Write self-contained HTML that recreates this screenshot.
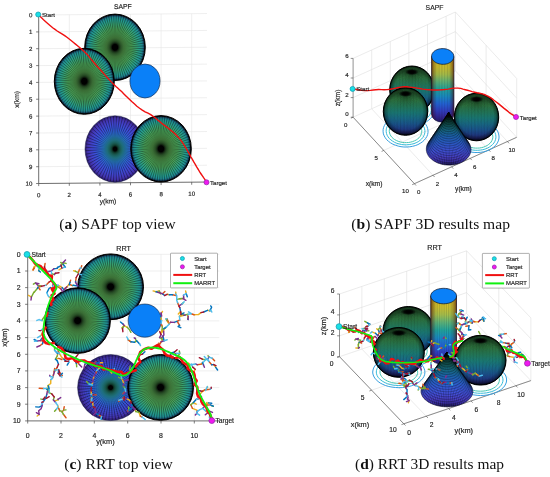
<!DOCTYPE html>
<html lang="en"><head><meta charset="utf-8"><title>Figure</title>
<style>html,body{margin:0;padding:0;background:#fff}svg{display:block}</style></head>
<body>
<svg width="550" height="477" viewBox="0 0 550 477">
<rect width="550" height="477" fill="#fff"/>
<defs><radialGradient id="rs1"><stop offset="0" stop-color="#000000"/><stop offset="0.03" stop-color="#000000"/><stop offset="0.06" stop-color="#000000"/><stop offset="0.09" stop-color="#000000"/><stop offset="0.12" stop-color="#0f1d0e"/><stop offset="0.16" stop-color="#1f3d1d"/><stop offset="0.2" stop-color="#2a5227"/><stop offset="0.25" stop-color="#346330"/><stop offset="0.3" stop-color="#3d7338"/><stop offset="0.4" stop-color="#458c48"/><stop offset="0.5" stop-color="#489c53"/><stop offset="0.55" stop-color="#49a158"/><stop offset="0.6" stop-color="#44a563"/><stop offset="0.7" stop-color="#38a474"/><stop offset="0.82" stop-color="#259c8c"/><stop offset="0.9" stop-color="#1f8a90"/><stop offset="0.94" stop-color="#1b5e74"/><stop offset="0.97" stop-color="#0c1c34"/><stop offset="0.98" stop-color="#000000"/><stop offset="1" stop-color="#000000"/></radialGradient><radialGradient id="mg3" gradientUnits="userSpaceOnUse" cx="115" cy="47.3" r="30.3" gradientTransform="translate(115 47.3) scale(1 1.1) translate(-115 -47.3)"><stop offset="0.28" stop-color="#000"/><stop offset="0.62" stop-color="#fff"/></radialGradient><mask id="mk2" maskUnits="userSpaceOnUse" x="83.7" y="13.1" width="62.6" height="68.4"><ellipse cx="115" cy="47.3" rx="30.3" ry="33.2" fill="url(#mg3)"/></mask><radialGradient id="rs4"><stop offset="0" stop-color="#000000"/><stop offset="0.03" stop-color="#000000"/><stop offset="0.06" stop-color="#000000"/><stop offset="0.09" stop-color="#000000"/><stop offset="0.12" stop-color="#0e1c0d"/><stop offset="0.16" stop-color="#1f3d1d"/><stop offset="0.2" stop-color="#2a5127"/><stop offset="0.25" stop-color="#346230"/><stop offset="0.3" stop-color="#3c7238"/><stop offset="0.4" stop-color="#458c48"/><stop offset="0.5" stop-color="#489c53"/><stop offset="0.55" stop-color="#49a158"/><stop offset="0.6" stop-color="#44a563"/><stop offset="0.7" stop-color="#38a474"/><stop offset="0.82" stop-color="#259c8c"/><stop offset="0.9" stop-color="#1f8a90"/><stop offset="0.94" stop-color="#1b5e74"/><stop offset="0.97" stop-color="#0c1c34"/><stop offset="0.98" stop-color="#000000"/><stop offset="1" stop-color="#000000"/></radialGradient><radialGradient id="mg6" gradientUnits="userSpaceOnUse" cx="84.3" cy="81.3" r="30" gradientTransform="translate(84.3 81.3) scale(1 1.1) translate(-84.3 -81.3)"><stop offset="0.28" stop-color="#000"/><stop offset="0.62" stop-color="#fff"/></radialGradient><mask id="mk5" maskUnits="userSpaceOnUse" x="53.3" y="47.3" width="62" height="68"><ellipse cx="84.3" cy="81.3" rx="30" ry="33" fill="url(#mg6)"/></mask><radialGradient id="rs7"><stop offset="0" stop-color="#000000"/><stop offset="0.03" stop-color="#000000"/><stop offset="0.06" stop-color="#000000"/><stop offset="0.09" stop-color="#0a251c"/><stop offset="0.12" stop-color="#124133"/><stop offset="0.16" stop-color="#17554b"/><stop offset="0.2" stop-color="#1b615e"/><stop offset="0.25" stop-color="#1d6b73"/><stop offset="0.3" stop-color="#206e89"/><stop offset="0.38" stop-color="#2471af"/><stop offset="0.4" stop-color="#2670b5"/><stop offset="0.5" stop-color="#2d65cf"/><stop offset="0.6" stop-color="#3659d8"/><stop offset="0.65" stop-color="#3a52da"/><stop offset="0.7" stop-color="#3d4dd5"/><stop offset="0.8" stop-color="#4242ca"/><stop offset="0.92" stop-color="#4232aa"/><stop offset="0.97" stop-color="#32227e"/><stop offset="1" stop-color="#201850"/></radialGradient><radialGradient id="mg9" gradientUnits="userSpaceOnUse" cx="115" cy="149" r="30" gradientTransform="translate(115 149) scale(1 1.11) translate(-115 -149)"><stop offset="0.28" stop-color="#000"/><stop offset="0.62" stop-color="#fff"/></radialGradient><mask id="mk8" maskUnits="userSpaceOnUse" x="84" y="114.8" width="62" height="68.4"><ellipse cx="115" cy="149" rx="30" ry="33.2" fill="url(#mg9)"/></mask><radialGradient id="rs10"><stop offset="0" stop-color="#000000"/><stop offset="0.03" stop-color="#000000"/><stop offset="0.06" stop-color="#000000"/><stop offset="0.09" stop-color="#000000"/><stop offset="0.12" stop-color="#0f1d0e"/><stop offset="0.16" stop-color="#1f3d1d"/><stop offset="0.2" stop-color="#2a5227"/><stop offset="0.25" stop-color="#346330"/><stop offset="0.3" stop-color="#3d7338"/><stop offset="0.4" stop-color="#458c48"/><stop offset="0.5" stop-color="#489c53"/><stop offset="0.55" stop-color="#49a158"/><stop offset="0.6" stop-color="#44a563"/><stop offset="0.7" stop-color="#38a474"/><stop offset="0.82" stop-color="#259c8c"/><stop offset="0.9" stop-color="#1f8a90"/><stop offset="0.94" stop-color="#1b5e74"/><stop offset="0.97" stop-color="#0c1c34"/><stop offset="0.98" stop-color="#000000"/><stop offset="1" stop-color="#000000"/></radialGradient><radialGradient id="mg12" gradientUnits="userSpaceOnUse" cx="161" cy="148.8" r="30.3" gradientTransform="translate(161 148.8) scale(1 1.1) translate(-161 -148.8)"><stop offset="0.28" stop-color="#000"/><stop offset="0.62" stop-color="#fff"/></radialGradient><mask id="mk11" maskUnits="userSpaceOnUse" x="129.7" y="114.6" width="62.6" height="68.4"><ellipse cx="161" cy="148.8" rx="30.3" ry="33.2" fill="url(#mg12)"/></mask><linearGradient id="sg13" x1="0" y1="0" x2="0" y2="1"><stop offset="0" stop-color="#2c6a3a"/><stop offset="0.08" stop-color="#3a8448"/><stop offset="0.25" stop-color="#3a9050"/><stop offset="0.4" stop-color="#2c9470"/><stop offset="0.52" stop-color="#21928c"/><stop offset="0.64" stop-color="#1f7e9e"/><stop offset="0.76" stop-color="#2064a4"/><stop offset="0.86" stop-color="#24489a"/><stop offset="0.94" stop-color="#262c78"/><stop offset="1" stop-color="#14143c"/></linearGradient><radialGradient id="sr14"><stop offset="0.78" stop-color="#000" stop-opacity="0"/><stop offset="0.93" stop-color="#000" stop-opacity="0.3"/><stop offset="1" stop-color="#000" stop-opacity="0.8"/></radialGradient><radialGradient id="sp15"><stop offset="0" stop-color="#000"/><stop offset="0.5" stop-color="#000" stop-opacity="0.85"/><stop offset="1" stop-color="#000" stop-opacity="0"/></radialGradient><linearGradient id="cg16" gradientUnits="userSpaceOnUse" x1="0" y1="61.2" x2="0" y2="122.1"><stop offset="0" stop-color="#dcc42c"/><stop offset="0.1" stop-color="#d6c832"/><stop offset="0.22" stop-color="#aec850"/><stop offset="0.34" stop-color="#62bc80"/><stop offset="0.46" stop-color="#24aca4"/><stop offset="0.58" stop-color="#1c92cc"/><stop offset="0.7" stop-color="#2668e2"/><stop offset="0.82" stop-color="#3440c8"/><stop offset="0.92" stop-color="#34289a"/><stop offset="1" stop-color="#241c6c"/></linearGradient><linearGradient id="cs17" x1="0" y1="0" x2="1" y2="0"><stop offset="0" stop-color="#500000" stop-opacity="0.45"/><stop offset="0.2" stop-color="#500000" stop-opacity="0"/><stop offset="0.8" stop-color="#500000" stop-opacity="0"/><stop offset="1" stop-color="#500000" stop-opacity="0.45"/></linearGradient><linearGradient id="sg18" x1="0" y1="0" x2="0" y2="1"><stop offset="0" stop-color="#2c6a3a"/><stop offset="0.08" stop-color="#3a8448"/><stop offset="0.25" stop-color="#3a9050"/><stop offset="0.4" stop-color="#2c9470"/><stop offset="0.52" stop-color="#21928c"/><stop offset="0.64" stop-color="#1f7e9e"/><stop offset="0.76" stop-color="#2064a4"/><stop offset="0.86" stop-color="#24489a"/><stop offset="0.94" stop-color="#262c78"/><stop offset="1" stop-color="#14143c"/></linearGradient><radialGradient id="sr19"><stop offset="0.78" stop-color="#000" stop-opacity="0"/><stop offset="0.93" stop-color="#000" stop-opacity="0.3"/><stop offset="1" stop-color="#000" stop-opacity="0.8"/></radialGradient><radialGradient id="sp20"><stop offset="0" stop-color="#000"/><stop offset="0.5" stop-color="#000" stop-opacity="0.85"/><stop offset="1" stop-color="#000" stop-opacity="0"/></radialGradient><linearGradient id="sg21" x1="0" y1="0" x2="0" y2="1"><stop offset="0" stop-color="#2c6a3a"/><stop offset="0.08" stop-color="#3a8448"/><stop offset="0.25" stop-color="#3a9050"/><stop offset="0.4" stop-color="#2c9470"/><stop offset="0.52" stop-color="#21928c"/><stop offset="0.64" stop-color="#1f7e9e"/><stop offset="0.76" stop-color="#2064a4"/><stop offset="0.86" stop-color="#24489a"/><stop offset="0.94" stop-color="#262c78"/><stop offset="1" stop-color="#14143c"/></linearGradient><radialGradient id="sr22"><stop offset="0.78" stop-color="#000" stop-opacity="0"/><stop offset="0.93" stop-color="#000" stop-opacity="0.3"/><stop offset="1" stop-color="#000" stop-opacity="0.8"/></radialGradient><radialGradient id="sp23"><stop offset="0" stop-color="#000"/><stop offset="0.5" stop-color="#000" stop-opacity="0.85"/><stop offset="1" stop-color="#000" stop-opacity="0"/></radialGradient><linearGradient id="kg24" gradientUnits="userSpaceOnUse" x1="0" y1="112.6" x2="0" y2="165.1"><stop offset="0" stop-color="#06141a"/><stop offset="0.06" stop-color="#14504a"/><stop offset="0.12" stop-color="#1f7c6c"/><stop offset="0.22" stop-color="#208e8c"/><stop offset="0.33" stop-color="#2298be"/><stop offset="0.45" stop-color="#2884ea"/><stop offset="0.6" stop-color="#3a70fa"/><stop offset="0.74" stop-color="#4a5cf4"/><stop offset="0.86" stop-color="#4e44d0"/><stop offset="0.94" stop-color="#3a2ea2"/><stop offset="1" stop-color="#16143e"/></linearGradient><radialGradient id="rs25"><stop offset="0" stop-color="#000000"/><stop offset="0.03" stop-color="#000000"/><stop offset="0.06" stop-color="#000000"/><stop offset="0.09" stop-color="#000000"/><stop offset="0.12" stop-color="#112110"/><stop offset="0.16" stop-color="#21411f"/><stop offset="0.2" stop-color="#2b5429"/><stop offset="0.25" stop-color="#356531"/><stop offset="0.3" stop-color="#3e7539"/><stop offset="0.4" stop-color="#468d48"/><stop offset="0.5" stop-color="#489c54"/><stop offset="0.55" stop-color="#49a258"/><stop offset="0.6" stop-color="#44a563"/><stop offset="0.7" stop-color="#38a474"/><stop offset="0.82" stop-color="#259c8c"/><stop offset="0.9" stop-color="#1f8a90"/><stop offset="0.94" stop-color="#1b5e74"/><stop offset="0.97" stop-color="#0c1c34"/><stop offset="0.98" stop-color="#000000"/><stop offset="1" stop-color="#000000"/></radialGradient><radialGradient id="mg27" gradientUnits="userSpaceOnUse" cx="110.6" cy="286.8" r="32.9" gradientTransform="translate(110.6 286.8) scale(1 1) translate(-110.6 -286.8)"><stop offset="0.28" stop-color="#000"/><stop offset="0.62" stop-color="#fff"/></radialGradient><mask id="mk26" maskUnits="userSpaceOnUse" x="76.7" y="252.9" width="67.8" height="67.8"><ellipse cx="110.6" cy="286.8" rx="32.9" ry="32.9" fill="url(#mg27)"/></mask><radialGradient id="rs28"><stop offset="0" stop-color="#000000"/><stop offset="0.03" stop-color="#000000"/><stop offset="0.06" stop-color="#000000"/><stop offset="0.09" stop-color="#000000"/><stop offset="0.12" stop-color="#112110"/><stop offset="0.16" stop-color="#21401f"/><stop offset="0.2" stop-color="#2b5429"/><stop offset="0.25" stop-color="#356531"/><stop offset="0.3" stop-color="#3d7439"/><stop offset="0.4" stop-color="#468d48"/><stop offset="0.5" stop-color="#489c54"/><stop offset="0.55" stop-color="#49a258"/><stop offset="0.6" stop-color="#44a563"/><stop offset="0.7" stop-color="#38a474"/><stop offset="0.82" stop-color="#259c8c"/><stop offset="0.9" stop-color="#1f8a90"/><stop offset="0.94" stop-color="#1b5e74"/><stop offset="0.97" stop-color="#0c1c34"/><stop offset="0.98" stop-color="#000000"/><stop offset="1" stop-color="#000000"/></radialGradient><radialGradient id="mg30" gradientUnits="userSpaceOnUse" cx="77.6" cy="320.6" r="32.8" gradientTransform="translate(77.6 320.6) scale(1 1) translate(-77.6 -320.6)"><stop offset="0.28" stop-color="#000"/><stop offset="0.62" stop-color="#fff"/></radialGradient><mask id="mk29" maskUnits="userSpaceOnUse" x="43.8" y="286.8" width="67.6" height="67.6"><ellipse cx="77.6" cy="320.6" rx="32.8" ry="32.8" fill="url(#mg30)"/></mask><radialGradient id="rs31"><stop offset="0" stop-color="#000000"/><stop offset="0.03" stop-color="#000000"/><stop offset="0.06" stop-color="#000000"/><stop offset="0.09" stop-color="#0c2a20"/><stop offset="0.12" stop-color="#134436"/><stop offset="0.16" stop-color="#18574d"/><stop offset="0.2" stop-color="#1b6360"/><stop offset="0.25" stop-color="#1d6c75"/><stop offset="0.3" stop-color="#20708b"/><stop offset="0.38" stop-color="#2572b0"/><stop offset="0.4" stop-color="#2671b6"/><stop offset="0.5" stop-color="#2d65d0"/><stop offset="0.6" stop-color="#3659d8"/><stop offset="0.65" stop-color="#3a52da"/><stop offset="0.7" stop-color="#3d4dd5"/><stop offset="0.8" stop-color="#4242ca"/><stop offset="0.92" stop-color="#4232aa"/><stop offset="0.97" stop-color="#32227e"/><stop offset="1" stop-color="#201850"/></radialGradient><radialGradient id="mg33" gradientUnits="userSpaceOnUse" cx="110.6" cy="387.6" r="33" gradientTransform="translate(110.6 387.6) scale(1 1) translate(-110.6 -387.6)"><stop offset="0.28" stop-color="#000"/><stop offset="0.62" stop-color="#fff"/></radialGradient><mask id="mk32" maskUnits="userSpaceOnUse" x="76.6" y="353.6" width="68" height="68"><ellipse cx="110.6" cy="387.6" rx="33" ry="33" fill="url(#mg33)"/></mask><radialGradient id="rs34"><stop offset="0" stop-color="#000000"/><stop offset="0.03" stop-color="#000000"/><stop offset="0.06" stop-color="#000000"/><stop offset="0.09" stop-color="#000000"/><stop offset="0.12" stop-color="#112110"/><stop offset="0.16" stop-color="#21411f"/><stop offset="0.2" stop-color="#2b5429"/><stop offset="0.25" stop-color="#356531"/><stop offset="0.3" stop-color="#3e7539"/><stop offset="0.4" stop-color="#468d48"/><stop offset="0.5" stop-color="#489c54"/><stop offset="0.55" stop-color="#49a258"/><stop offset="0.6" stop-color="#44a563"/><stop offset="0.7" stop-color="#38a474"/><stop offset="0.82" stop-color="#259c8c"/><stop offset="0.9" stop-color="#1f8a90"/><stop offset="0.94" stop-color="#1b5e74"/><stop offset="0.97" stop-color="#0c1c34"/><stop offset="0.98" stop-color="#000000"/><stop offset="1" stop-color="#000000"/></radialGradient><radialGradient id="mg36" gradientUnits="userSpaceOnUse" cx="160.6" cy="387.4" r="32.9" gradientTransform="translate(160.6 387.4) scale(1 1) translate(-160.6 -387.4)"><stop offset="0.28" stop-color="#000"/><stop offset="0.62" stop-color="#fff"/></radialGradient><mask id="mk35" maskUnits="userSpaceOnUse" x="126.7" y="353.5" width="67.8" height="67.8"><ellipse cx="160.6" cy="387.4" rx="32.9" ry="32.9" fill="url(#mg36)"/></mask><linearGradient id="sg37" x1="0" y1="0" x2="0" y2="1"><stop offset="0" stop-color="#2c6a3a"/><stop offset="0.08" stop-color="#3a8448"/><stop offset="0.25" stop-color="#3a9050"/><stop offset="0.4" stop-color="#2c9470"/><stop offset="0.52" stop-color="#21928c"/><stop offset="0.64" stop-color="#1f7e9e"/><stop offset="0.76" stop-color="#2064a4"/><stop offset="0.86" stop-color="#24489a"/><stop offset="0.94" stop-color="#262c78"/><stop offset="1" stop-color="#14143c"/></linearGradient><radialGradient id="sr38"><stop offset="0.78" stop-color="#000" stop-opacity="0"/><stop offset="0.93" stop-color="#000" stop-opacity="0.3"/><stop offset="1" stop-color="#000" stop-opacity="0.8"/></radialGradient><radialGradient id="sp39"><stop offset="0" stop-color="#000"/><stop offset="0.5" stop-color="#000" stop-opacity="0.85"/><stop offset="1" stop-color="#000" stop-opacity="0"/></radialGradient><linearGradient id="cg40" gradientUnits="userSpaceOnUse" x1="0" y1="300.7" x2="0" y2="364.6"><stop offset="0" stop-color="#dcc42c"/><stop offset="0.1" stop-color="#d6c832"/><stop offset="0.22" stop-color="#aec850"/><stop offset="0.34" stop-color="#62bc80"/><stop offset="0.46" stop-color="#24aca4"/><stop offset="0.58" stop-color="#1c92cc"/><stop offset="0.7" stop-color="#2668e2"/><stop offset="0.82" stop-color="#3440c8"/><stop offset="0.92" stop-color="#34289a"/><stop offset="1" stop-color="#241c6c"/></linearGradient><linearGradient id="cs41" x1="0" y1="0" x2="1" y2="0"><stop offset="0" stop-color="#500000" stop-opacity="0.45"/><stop offset="0.2" stop-color="#500000" stop-opacity="0"/><stop offset="0.8" stop-color="#500000" stop-opacity="0"/><stop offset="1" stop-color="#500000" stop-opacity="0.45"/></linearGradient><linearGradient id="sg42" x1="0" y1="0" x2="0" y2="1"><stop offset="0" stop-color="#2c6a3a"/><stop offset="0.08" stop-color="#3a8448"/><stop offset="0.25" stop-color="#3a9050"/><stop offset="0.4" stop-color="#2c9470"/><stop offset="0.52" stop-color="#21928c"/><stop offset="0.64" stop-color="#1f7e9e"/><stop offset="0.76" stop-color="#2064a4"/><stop offset="0.86" stop-color="#24489a"/><stop offset="0.94" stop-color="#262c78"/><stop offset="1" stop-color="#14143c"/></linearGradient><radialGradient id="sr43"><stop offset="0.78" stop-color="#000" stop-opacity="0"/><stop offset="0.93" stop-color="#000" stop-opacity="0.3"/><stop offset="1" stop-color="#000" stop-opacity="0.8"/></radialGradient><radialGradient id="sp44"><stop offset="0" stop-color="#000"/><stop offset="0.5" stop-color="#000" stop-opacity="0.85"/><stop offset="1" stop-color="#000" stop-opacity="0"/></radialGradient><linearGradient id="sg45" x1="0" y1="0" x2="0" y2="1"><stop offset="0" stop-color="#2c6a3a"/><stop offset="0.08" stop-color="#3a8448"/><stop offset="0.25" stop-color="#3a9050"/><stop offset="0.4" stop-color="#2c9470"/><stop offset="0.52" stop-color="#21928c"/><stop offset="0.64" stop-color="#1f7e9e"/><stop offset="0.76" stop-color="#2064a4"/><stop offset="0.86" stop-color="#24489a"/><stop offset="0.94" stop-color="#262c78"/><stop offset="1" stop-color="#14143c"/></linearGradient><radialGradient id="sr46"><stop offset="0.78" stop-color="#000" stop-opacity="0"/><stop offset="0.93" stop-color="#000" stop-opacity="0.3"/><stop offset="1" stop-color="#000" stop-opacity="0.8"/></radialGradient><radialGradient id="sp47"><stop offset="0" stop-color="#000"/><stop offset="0.5" stop-color="#000" stop-opacity="0.85"/><stop offset="1" stop-color="#000" stop-opacity="0"/></radialGradient><linearGradient id="kg48" gradientUnits="userSpaceOnUse" x1="0" y1="352.1" x2="0" y2="406.8"><stop offset="0" stop-color="#06141a"/><stop offset="0.06" stop-color="#14504a"/><stop offset="0.12" stop-color="#1f7c6c"/><stop offset="0.22" stop-color="#208e8c"/><stop offset="0.33" stop-color="#2298be"/><stop offset="0.45" stop-color="#2884ea"/><stop offset="0.6" stop-color="#3a70fa"/><stop offset="0.74" stop-color="#4a5cf4"/><stop offset="0.86" stop-color="#4e44d0"/><stop offset="0.94" stop-color="#3a2ea2"/><stop offset="1" stop-color="#16143e"/></linearGradient></defs>
<g transform="translate(38.7 0) skewY(-0.5) translate(-38.7 0)">
<path d="M69.3 15L69.3 183.5" stroke="#e4e4e4" stroke-width="0.6" fill="none"/>
<path d="M99.9 15L99.9 183.5" stroke="#e4e4e4" stroke-width="0.6" fill="none"/>
<path d="M130.5 15L130.5 183.5" stroke="#e4e4e4" stroke-width="0.6" fill="none"/>
<path d="M161.1 15L161.1 183.5" stroke="#e4e4e4" stroke-width="0.6" fill="none"/>
<path d="M191.7 15L191.7 183.5" stroke="#e4e4e4" stroke-width="0.6" fill="none"/>
<path d="M38.7 15L207 15" stroke="#e4e4e4" stroke-width="0.6" fill="none"/>
<path d="M38.7 31.9L207 31.9" stroke="#e4e4e4" stroke-width="0.6" fill="none"/>
<path d="M38.7 48.7L207 48.7" stroke="#e4e4e4" stroke-width="0.6" fill="none"/>
<path d="M38.7 65.6L207 65.6" stroke="#e4e4e4" stroke-width="0.6" fill="none"/>
<path d="M38.7 82.4L207 82.4" stroke="#e4e4e4" stroke-width="0.6" fill="none"/>
<path d="M38.7 99.2L207 99.2" stroke="#e4e4e4" stroke-width="0.6" fill="none"/>
<path d="M38.7 116.1L207 116.1" stroke="#e4e4e4" stroke-width="0.6" fill="none"/>
<path d="M38.7 133L207 133" stroke="#e4e4e4" stroke-width="0.6" fill="none"/>
<path d="M38.7 149.8L207 149.8" stroke="#e4e4e4" stroke-width="0.6" fill="none"/>
<path d="M38.7 166.7L207 166.7" stroke="#e4e4e4" stroke-width="0.6" fill="none"/>
<path d="M38.7 15L38.7 183.5" stroke="#484848" stroke-width="0.8" fill="none"/>
<path d="M38.7 183.5L207 183.5" stroke="#484848" stroke-width="0.8" fill="none"/>
<path d="M38.7 183.5L38.7 186.1" stroke="#484848" stroke-width="0.7" fill="none"/>
<text x="38.7" y="197.2" font-size="6.1" text-anchor="middle" fill="#262626" font-family="'Liberation Sans',Arial,sans-serif" stroke="#262626" stroke-width="0.18">0</text>
<path d="M69.3 183.5L69.3 186.1" stroke="#484848" stroke-width="0.7" fill="none"/>
<text x="69.3" y="197.2" font-size="6.1" text-anchor="middle" fill="#262626" font-family="'Liberation Sans',Arial,sans-serif" stroke="#262626" stroke-width="0.18">2</text>
<path d="M99.9 183.5L99.9 186.1" stroke="#484848" stroke-width="0.7" fill="none"/>
<text x="99.9" y="197.2" font-size="6.1" text-anchor="middle" fill="#262626" font-family="'Liberation Sans',Arial,sans-serif" stroke="#262626" stroke-width="0.18">4</text>
<path d="M130.5 183.5L130.5 186.1" stroke="#484848" stroke-width="0.7" fill="none"/>
<text x="130.5" y="197.2" font-size="6.1" text-anchor="middle" fill="#262626" font-family="'Liberation Sans',Arial,sans-serif" stroke="#262626" stroke-width="0.18">6</text>
<path d="M161.1 183.5L161.1 186.1" stroke="#484848" stroke-width="0.7" fill="none"/>
<text x="161.1" y="197.2" font-size="6.1" text-anchor="middle" fill="#262626" font-family="'Liberation Sans',Arial,sans-serif" stroke="#262626" stroke-width="0.18">8</text>
<path d="M191.7 183.5L191.7 186.1" stroke="#484848" stroke-width="0.7" fill="none"/>
<text x="191.7" y="197.2" font-size="6.1" text-anchor="middle" fill="#262626" font-family="'Liberation Sans',Arial,sans-serif" stroke="#262626" stroke-width="0.18">10</text>
<path d="M38.7 15L36.1 15" stroke="#484848" stroke-width="0.7" fill="none"/>
<text x="32.4" y="17.2" font-size="6.1" text-anchor="end" fill="#262626" font-family="'Liberation Sans',Arial,sans-serif" stroke="#262626" stroke-width="0.18">0</text>
<path d="M38.7 31.9L36.1 31.9" stroke="#484848" stroke-width="0.7" fill="none"/>
<text x="32.4" y="34" font-size="6.1" text-anchor="end" fill="#262626" font-family="'Liberation Sans',Arial,sans-serif" stroke="#262626" stroke-width="0.18">1</text>
<path d="M38.7 48.7L36.1 48.7" stroke="#484848" stroke-width="0.7" fill="none"/>
<text x="32.4" y="50.9" font-size="6.1" text-anchor="end" fill="#262626" font-family="'Liberation Sans',Arial,sans-serif" stroke="#262626" stroke-width="0.18">2</text>
<path d="M38.7 65.6L36.1 65.6" stroke="#484848" stroke-width="0.7" fill="none"/>
<text x="32.4" y="67.7" font-size="6.1" text-anchor="end" fill="#262626" font-family="'Liberation Sans',Arial,sans-serif" stroke="#262626" stroke-width="0.18">3</text>
<path d="M38.7 82.4L36.1 82.4" stroke="#484848" stroke-width="0.7" fill="none"/>
<text x="32.4" y="84.6" font-size="6.1" text-anchor="end" fill="#262626" font-family="'Liberation Sans',Arial,sans-serif" stroke="#262626" stroke-width="0.18">4</text>
<path d="M38.7 99.2L36.1 99.2" stroke="#484848" stroke-width="0.7" fill="none"/>
<text x="32.4" y="101.4" font-size="6.1" text-anchor="end" fill="#262626" font-family="'Liberation Sans',Arial,sans-serif" stroke="#262626" stroke-width="0.18">5</text>
<path d="M38.7 116.1L36.1 116.1" stroke="#484848" stroke-width="0.7" fill="none"/>
<text x="32.4" y="118.3" font-size="6.1" text-anchor="end" fill="#262626" font-family="'Liberation Sans',Arial,sans-serif" stroke="#262626" stroke-width="0.18">6</text>
<path d="M38.7 133L36.1 133" stroke="#484848" stroke-width="0.7" fill="none"/>
<text x="32.4" y="135.1" font-size="6.1" text-anchor="end" fill="#262626" font-family="'Liberation Sans',Arial,sans-serif" stroke="#262626" stroke-width="0.18">7</text>
<path d="M38.7 149.8L36.1 149.8" stroke="#484848" stroke-width="0.7" fill="none"/>
<text x="32.4" y="152" font-size="6.1" text-anchor="end" fill="#262626" font-family="'Liberation Sans',Arial,sans-serif" stroke="#262626" stroke-width="0.18">8</text>
<path d="M38.7 166.7L36.1 166.7" stroke="#484848" stroke-width="0.7" fill="none"/>
<text x="32.4" y="168.8" font-size="6.1" text-anchor="end" fill="#262626" font-family="'Liberation Sans',Arial,sans-serif" stroke="#262626" stroke-width="0.18">9</text>
<path d="M38.7 183.5L36.1 183.5" stroke="#484848" stroke-width="0.7" fill="none"/>
<text x="32.4" y="185.7" font-size="6.1" text-anchor="end" fill="#262626" font-family="'Liberation Sans',Arial,sans-serif" stroke="#262626" stroke-width="0.18">10</text>
<text x="108" y="204.2" font-size="6.7" text-anchor="middle" fill="#262626" font-family="'Liberation Sans',Arial,sans-serif" stroke="#262626" stroke-width="0.18">y(km)</text>
<text x="0" y="0" font-size="6.7" text-anchor="middle" fill="#262626" font-family="'Liberation Sans',Arial,sans-serif" stroke="#262626" stroke-width="0.18" transform="translate(19.3 99.2) rotate(-90)">x(km)</text>
<text x="122.8" y="9.6" font-size="6.8" text-anchor="middle" fill="#262626" font-family="'Liberation Sans',Arial,sans-serif" stroke="#262626" stroke-width="0.18">SAPF</text>
</g>
<g>
<ellipse cx="115" cy="47.3" rx="30.3" ry="33.2" fill="url(#rs1)" stroke="#000" stroke-width="1"/>
<g mask="url(#mk2)">
<path d="M122.5 47.7L144.8 48.7M122.5 48.4L144.6 51.6M122.3 49.1L144.1 54.4M122.2 49.8L143.5 57.1M121.9 50.5L142.6 59.8M121.7 51.1L141.5 62.4M121.3 51.7L140.2 64.9M121 52.3L138.7 67.2M120.5 52.9L137 69.4M120.1 53.4L135.2 71.4M119.6 53.8L133.2 73.2M119 54.3L131 74.9M118.5 54.6L128.8 76.3M117.9 54.9L126.4 77.5M117.3 55.2L124 78.5M116.6 55.3L121.5 79.2M116 55.5L118.9 79.7M115.3 55.5L116.3 80M114.7 55.5L113.7 80M114 55.5L111.1 79.7M113.4 55.3L108.5 79.2M112.7 55.2L106 78.5M112.1 54.9L103.6 77.5M111.5 54.6L101.2 76.3M111 54.3L99 74.9M110.4 53.8L96.8 73.2M109.9 53.4L94.8 71.4M109.5 52.9L93 69.4M109 52.3L91.3 67.2M108.7 51.7L89.8 64.9M108.3 51.1L88.5 62.4M108.1 50.5L87.4 59.8M107.8 49.8L86.5 57.1M107.7 49.1L85.9 54.4M107.5 48.4L85.4 51.6M107.5 47.7L85.2 48.7M107.5 46.9L85.2 45.9M107.5 46.2L85.4 43M107.7 45.5L85.9 40.2M107.8 44.8L86.5 37.5M108.1 44.1L87.4 34.8M108.3 43.5L88.5 32.2M108.7 42.9L89.8 29.7M109 42.3L91.3 27.4M109.5 41.7L93 25.2M109.9 41.2L94.8 23.2M110.4 40.8L96.8 21.4M111 40.3L99 19.7M111.5 40L101.2 18.3M112.1 39.7L103.6 17.1M112.7 39.4L106 16.1M113.4 39.3L108.5 15.4M114 39.1L111.1 14.9M114.7 39.1L113.7 14.6M115.3 39.1L116.3 14.6M116 39.1L118.9 14.9M116.6 39.3L121.5 15.4M117.3 39.4L124 16.1M117.9 39.7L126.4 17.1M118.5 40L128.8 18.3M119 40.3L131 19.7M119.6 40.8L133.2 21.4M120.1 41.2L135.2 23.2M120.5 41.7L137 25.2M121 42.3L138.7 27.4M121.3 42.9L140.2 29.7M121.7 43.5L141.5 32.2M121.9 44.1L142.6 34.8M122.2 44.8L143.5 37.5M122.3 45.5L144.1 40.2M122.5 46.2L144.6 43M122.5 46.9L144.8 45.9" stroke="#000" stroke-width="0.7" stroke-opacity="0.55" fill="none"/>
</g>
<ellipse cx="84.3" cy="81.3" rx="30" ry="33" fill="url(#rs4)" stroke="#000" stroke-width="1"/>
<g mask="url(#mk5)">
<path d="M91.7 81.7L113.8 82.7M91.7 82.4L113.6 85.5M91.6 83.1L113.1 88.3M91.4 83.8L112.5 91.1M91.2 84.4L111.6 93.7M90.9 85.1L110.5 96.3M90.6 85.7L109.2 98.8M90.2 86.3L107.7 101.1M89.8 86.8L106.1 103.3M89.3 87.3L104.3 105.3M88.8 87.8L102.3 107.1M88.3 88.2L100.2 108.7M87.7 88.6L97.9 110.1M87.1 88.9L95.6 111.3M86.5 89.1L93.2 112.3M85.9 89.3L90.7 113M85.3 89.4L88.2 113.5M84.6 89.5L85.6 113.8M84 89.5L83 113.8M83.3 89.4L80.4 113.5M82.7 89.3L77.9 113M82.1 89.1L75.4 112.3M81.5 88.9L73 111.3M80.9 88.6L70.7 110.1M80.3 88.2L68.4 108.7M79.8 87.8L66.3 107.1M79.3 87.3L64.3 105.3M78.8 86.8L62.5 103.3M78.4 86.3L60.9 101.1M78 85.7L59.4 98.8M77.7 85.1L58.1 96.3M77.4 84.4L57 93.7M77.2 83.8L56.1 91.1M77 83.1L55.5 88.3M76.9 82.4L55 85.5M76.9 81.7L54.8 82.7M76.9 80.9L54.8 79.9M76.9 80.2L55 77.1M77 79.5L55.5 74.3M77.2 78.8L56.1 71.5M77.4 78.2L57 68.9M77.7 77.5L58.1 66.3M78 76.9L59.4 63.8M78.4 76.3L60.9 61.5M78.8 75.8L62.5 59.3M79.3 75.3L64.3 57.3M79.8 74.8L66.3 55.5M80.3 74.4L68.4 53.9M80.9 74L70.7 52.5M81.5 73.7L73 51.3M82.1 73.5L75.4 50.3M82.7 73.3L77.9 49.6M83.3 73.2L80.4 49.1M84 73.1L83 48.8M84.6 73.1L85.6 48.8M85.3 73.2L88.2 49.1M85.9 73.3L90.7 49.6M86.5 73.5L93.2 50.3M87.1 73.7L95.6 51.3M87.7 74L97.9 52.5M88.3 74.4L100.2 53.9M88.8 74.8L102.3 55.5M89.3 75.3L104.3 57.3M89.8 75.8L106.1 59.3M90.2 76.3L107.7 61.5M90.6 76.9L109.2 63.8M90.9 77.5L110.5 66.3M91.2 78.2L111.6 68.9M91.4 78.8L112.5 71.5M91.6 79.5L113.1 74.3M91.7 80.2L113.6 77.1M91.7 80.9L113.8 79.9" stroke="#000" stroke-width="0.7" stroke-opacity="0.55" fill="none"/>
</g>
<ellipse cx="145" cy="81" rx="15.1" ry="17" fill="#0a80f8" stroke="#10203a" stroke-width="0.6"/>
<ellipse cx="115" cy="149" rx="30" ry="33.2" fill="url(#rs7)" stroke="#1a1a50" stroke-width="0.5"/>
<g mask="url(#mk8)">
<path d="M122.4 149.4L144.5 150.7M122.4 150.3L144.2 154.1M122.2 151.1L143.5 157.5M122 152L142.6 160.7M121.6 152.7L141.3 163.8M121.2 153.5L139.8 166.8M120.8 154.2L138 169.6M120.3 154.8L135.9 172.1M119.7 155.4L133.6 174.4M119.1 155.9L131.1 176.4M118.4 156.3L128.4 178.1M117.7 156.7L125.6 179.5M116.9 157L122.6 180.6M116.2 157.1L119.6 181.3M115.4 157.2L116.5 181.7M114.6 157.2L113.5 181.7M113.8 157.1L110.4 181.3M113.1 157L107.4 180.6M112.3 156.7L104.4 179.5M111.6 156.3L101.6 178.1M110.9 155.9L98.9 176.4M110.3 155.4L96.4 174.4M109.7 154.8L94.1 172.1M109.2 154.2L92 169.6M108.8 153.5L90.2 166.8M108.4 152.7L88.7 163.8M108 152L87.4 160.7M107.8 151.1L86.5 157.5M107.6 150.3L85.8 154.1M107.6 149.4L85.5 150.7M107.6 148.6L85.5 147.3M107.6 147.7L85.8 143.9M107.8 146.9L86.5 140.5M108 146L87.4 137.3M108.4 145.3L88.7 134.2M108.8 144.5L90.2 131.2M109.2 143.8L92 128.4M109.7 143.2L94.1 125.9M110.3 142.6L96.4 123.6M110.9 142.1L98.9 121.6M111.6 141.7L101.6 119.9M112.3 141.3L104.4 118.5M113.1 141L107.4 117.4M113.8 140.9L110.4 116.7M114.6 140.8L113.5 116.3M115.4 140.8L116.5 116.3M116.2 140.9L119.6 116.7M116.9 141L122.6 117.4M117.7 141.3L125.6 118.5M118.4 141.7L128.4 119.9M119.1 142.1L131.1 121.6M119.7 142.6L133.6 123.6M120.3 143.2L135.9 125.9M120.8 143.8L138 128.4M121.2 144.5L139.8 131.2M121.6 145.3L141.3 134.2M122 146L142.6 137.3M122.2 146.9L143.5 140.5M122.4 147.7L144.2 143.9M122.4 148.6L144.5 147.3" stroke="#000" stroke-width="0.7" stroke-opacity="0.55" fill="none"/>
</g>
<ellipse cx="161" cy="148.8" rx="30.3" ry="33.2" fill="url(#rs10)" stroke="#000" stroke-width="1"/>
<g mask="url(#mk11)">
<path d="M168.5 149.2L190.8 150.2M168.5 149.9L190.6 153.1M168.3 150.6L190.1 155.9M168.2 151.3L189.5 158.6M167.9 152L188.6 161.3M167.7 152.6L187.5 163.9M167.3 153.2L186.2 166.4M167 153.8L184.7 168.7M166.5 154.4L183 170.9M166.1 154.9L181.2 172.9M165.6 155.3L179.2 174.7M165 155.8L177 176.4M164.5 156.1L174.8 177.8M163.9 156.4L172.4 179M163.3 156.7L170 180M162.6 156.8L167.5 180.7M162 157L164.9 181.2M161.3 157L162.3 181.5M160.7 157L159.7 181.5M160 157L157.1 181.2M159.4 156.8L154.5 180.7M158.7 156.7L152 180M158.1 156.4L149.6 179M157.5 156.1L147.2 177.8M157 155.8L145 176.4M156.4 155.3L142.8 174.7M155.9 154.9L140.8 172.9M155.5 154.4L139 170.9M155 153.8L137.3 168.7M154.7 153.2L135.8 166.4M154.3 152.6L134.5 163.9M154.1 152L133.4 161.3M153.8 151.3L132.5 158.6M153.7 150.6L131.9 155.9M153.5 149.9L131.4 153.1M153.5 149.2L131.2 150.2M153.5 148.4L131.2 147.4M153.5 147.7L131.4 144.5M153.7 147L131.9 141.7M153.8 146.3L132.5 139M154.1 145.6L133.4 136.3M154.3 145L134.5 133.7M154.7 144.4L135.8 131.2M155 143.8L137.3 128.9M155.5 143.2L139 126.7M155.9 142.7L140.8 124.7M156.4 142.3L142.8 122.9M157 141.8L145 121.2M157.5 141.5L147.2 119.8M158.1 141.2L149.6 118.6M158.7 140.9L152 117.6M159.4 140.8L154.5 116.9M160 140.6L157.1 116.4M160.7 140.6L159.7 116.1M161.3 140.6L162.3 116.1M162 140.6L164.9 116.4M162.6 140.8L167.5 116.9M163.3 140.9L170 117.6M163.9 141.2L172.4 118.6M164.5 141.5L174.8 119.8M165 141.8L177 121.2M165.6 142.3L179.2 122.9M166.1 142.7L181.2 124.7M166.5 143.2L183 126.7M167 143.8L184.7 128.9M167.3 144.4L186.2 131.2M167.7 145L187.5 133.7M167.9 145.6L188.6 136.3M168.2 146.3L189.5 139M168.3 147L190.1 141.7M168.5 147.7L190.6 144.5M168.5 148.4L190.8 147.4" stroke="#000" stroke-width="0.7" stroke-opacity="0.55" fill="none"/>
</g>
</g>
<path d="M38 14.4L38.5 14.9L39.7 16L41.3 17.6L43.5 19.7L45.7 21.7L48 23.7L50.3 25.7L52.7 27.7L55 29.4L57.2 31L59.4 32.4L61.5 33.6L63.5 34.9L65.4 36.2L67.3 37.5L69.2 39L71.1 40.5L73.2 42.2L75.5 44.1L77.8 46L79.9 47.8L81.8 49.4L83.3 50.7L84.6 51.9L86 53.2L87.5 54.8L89 56.6L90.5 58.6L92.4 60.8L94.5 63.3L96.8 65.9L99.5 68.8L102.1 71.7L104.7 74.6L107.3 77.5L110 80.4L112.3 82.9L114.4 85L116.2 86.7L117.7 88L119.5 89.7L121.6 91.6L123.9 93.9L126.5 96.5L129.1 99L131.7 101.5L134.3 103.8L136.9 106.2L139.6 108.2L142.3 110.1L145.1 111.8L148 113.2L150.7 114.7L153.1 116.3L155.3 118L157.4 119.7L159.5 121.4L161.6 123.2L163.8 124.9L166.2 126.6L168.4 128.3L170.5 130.1L172.6 131.8L174.7 133.5L176.6 135.4L178.5 137.4L180.3 139.6L182 141.9L183.7 144.3L185.2 146.8L186.7 149.3L188.2 151.8L189.6 154.4L191 157L192.5 159.6L193.9 162.2L195.4 164.7L196.8 167.2L198.3 169.5L199.7 171.9L201.1 174L202.4 175.9L203.6 177.7L204.8 179.4L205.6 180.6L206.2 181.4L206.5 181.8" stroke="#f01010" stroke-width="1.4" fill="none" stroke-linejoin="round" stroke-linecap="round"/>
<circle cx="38.2" cy="14.5" r="2.5" fill="#19e0e6" stroke="#18a0b4" stroke-width="0.8"/>
<circle cx="206.5" cy="182.3" r="2.5" fill="#f018f0" stroke="#9a2ab0" stroke-width="0.8"/>
<text x="42" y="16.8" font-size="6.1" text-anchor="start" fill="#262626" font-family="'Liberation Sans',Arial,sans-serif" stroke="#262626" stroke-width="0.18">Start</text>
<text x="210" y="184.9" font-size="6.1" text-anchor="start" fill="#262626" font-family="'Liberation Sans',Arial,sans-serif" stroke="#262626" stroke-width="0.18">Target</text>
<path d="M353.1 117.2L414.4 183.7M371.7 108.8L433 175.3M390.3 100.3L451.6 166.8M408.9 91.9L470.2 158.4M427.5 83.4L488.8 149.9M446.1 75L507.4 141.5M353.1 117.2L455.4 70.8M383.8 150.4L486.1 104M414.4 183.7L516.7 137.3M371.7 108.8L371.7 50M390.3 100.3L390.3 41.5M408.9 91.9L408.9 33.1M427.5 83.4L427.5 24.6M446.1 75L446.1 16.2M353.1 97.6L455.4 51.2M353.1 78L455.4 31.6M353.1 58.4L455.4 12M455.4 70.8L455.4 12M486.1 104L486.1 45.2M516.7 137.3L516.7 78.5M455.4 51.2L516.7 117.7M455.4 31.6L516.7 98.1M455.4 12L516.7 78.5M455.4 70.8L516.7 137.3" stroke="#dddddd" stroke-width="0.6" fill="none"/>
<text x="345.6" y="126.8" font-size="6.1" text-anchor="middle" fill="#262626" font-family="'Liberation Sans',Arial,sans-serif" stroke="#262626" stroke-width="0.18">0</text>
<text x="376.2" y="159.9" font-size="6.1" text-anchor="middle" fill="#262626" font-family="'Liberation Sans',Arial,sans-serif" stroke="#262626" stroke-width="0.18">5</text>
<text x="405.4" y="192.8" font-size="6.1" text-anchor="middle" fill="#262626" font-family="'Liberation Sans',Arial,sans-serif" stroke="#262626" stroke-width="0.18">10</text>
<text x="418.8" y="194" font-size="6.1" text-anchor="middle" fill="#262626" font-family="'Liberation Sans',Arial,sans-serif" stroke="#262626" stroke-width="0.18">0</text>
<text x="437.4" y="185.6" font-size="6.1" text-anchor="middle" fill="#262626" font-family="'Liberation Sans',Arial,sans-serif" stroke="#262626" stroke-width="0.18">2</text>
<text x="456" y="177.1" font-size="6.1" text-anchor="middle" fill="#262626" font-family="'Liberation Sans',Arial,sans-serif" stroke="#262626" stroke-width="0.18">4</text>
<text x="474.6" y="168.7" font-size="6.1" text-anchor="middle" fill="#262626" font-family="'Liberation Sans',Arial,sans-serif" stroke="#262626" stroke-width="0.18">6</text>
<text x="493.2" y="160.2" font-size="6.1" text-anchor="middle" fill="#262626" font-family="'Liberation Sans',Arial,sans-serif" stroke="#262626" stroke-width="0.18">8</text>
<text x="511.8" y="151.8" font-size="6.1" text-anchor="middle" fill="#262626" font-family="'Liberation Sans',Arial,sans-serif" stroke="#262626" stroke-width="0.18">10</text>
<text x="348.6" y="116.4" font-size="6.1" text-anchor="end" fill="#262626" font-family="'Liberation Sans',Arial,sans-serif" stroke="#262626" stroke-width="0.18">0</text>
<text x="348.6" y="96.8" font-size="6.1" text-anchor="end" fill="#262626" font-family="'Liberation Sans',Arial,sans-serif" stroke="#262626" stroke-width="0.18">2</text>
<text x="348.6" y="77.2" font-size="6.1" text-anchor="end" fill="#262626" font-family="'Liberation Sans',Arial,sans-serif" stroke="#262626" stroke-width="0.18">4</text>
<text x="348.6" y="57.6" font-size="6.1" text-anchor="end" fill="#262626" font-family="'Liberation Sans',Arial,sans-serif" stroke="#262626" stroke-width="0.18">6</text>
<path d="M353.1 117.2L353.1 58.4M353.1 117.2L414.4 183.7M414.4 183.7L516.7 137.3M353.1 117.2L350.9 118.2M383.8 150.4L381.6 151.4M414.4 183.7L412.2 184.7M414.4 183.7L416 185.5M433 175.3L434.6 177M451.6 166.8L453.2 168.6M470.2 158.4L471.8 160.1M488.8 149.9L490.4 151.7M507.4 141.5L509 143.3M353.1 117.2L350.7 117.2M353.1 97.6L350.7 97.6M353.1 78L350.7 78M353.1 58.4L350.7 58.4" stroke="#484848" stroke-width="0.6" fill="none"/>
<text x="374" y="185.8" font-size="6.7" text-anchor="middle" fill="#262626" font-family="'Liberation Sans',Arial,sans-serif" stroke="#262626" stroke-width="0.18">x(km)</text>
<text x="463.4" y="190.8" font-size="6.7" text-anchor="middle" fill="#262626" font-family="'Liberation Sans',Arial,sans-serif" stroke="#262626" stroke-width="0.18">y(km)</text>
<text x="0" y="0" font-size="6.7" text-anchor="middle" fill="#262626" font-family="'Liberation Sans',Arial,sans-serif" stroke="#262626" stroke-width="0.18" transform="translate(340.1 98) rotate(-90)">z(km)</text>
<text x="434.5" y="9.9" font-size="6.8" text-anchor="middle" fill="#262626" font-family="'Liberation Sans',Arial,sans-serif" stroke="#262626" stroke-width="0.18">SAPF</text>
<path d="M424.2 122.8L426.6 121.6L428.7 120.2L430.5 118.5L432 116.8L433.1 114.9L433.9 112.9L434.3 110.8L434.3 108.7L434 106.7L433.2 104.6L432.1 102.7L430.6 100.9L428.9 99.2L426.8 97.7L424.5 96.4L421.9 95.3L419.2 94.5L416.4 93.9L413.5 93.6L410.5 93.5L407.6 93.7L404.8 94.2L402 95L399.5 96L397.1 97.2L395 98.6L393.2 100.3L391.7 102L390.6 103.9L389.8 105.9L389.4 108L389.4 110.1L389.8 112.1L390.5 114.2L391.6 116.1L393.1 117.9L394.9 119.6L396.9 121.1L399.2 122.4L401.8 123.5L404.5 124.3L407.3 124.9L410.2 125.2L413.2 125.3L416.1 125.1L419 124.6L421.7 123.8L424.2 122.8Z" stroke="#36a0e0" stroke-width="1.0" fill="none"/>
<path d="M422.5 121L424.5 119.9L426.4 118.7L427.9 117.3L429.2 115.7L430.2 114.1L430.8 112.4L431.2 110.6L431.2 108.8L430.9 107L430.3 105.3L429.3 103.6L428 102.1L426.5 100.6L424.7 99.3L422.7 98.2L420.5 97.3L418.2 96.5L415.8 96L413.2 95.8L410.7 95.7L408.2 95.9L405.7 96.3L403.4 97L401.2 97.8L399.2 98.9L397.4 100.1L395.8 101.5L394.5 103.1L393.5 104.7L392.9 106.4L392.5 108.2L392.5 110L392.8 111.8L393.5 113.5L394.4 115.2L395.7 116.7L397.2 118.2L399 119.5L401 120.6L403.2 121.5L405.5 122.3L408 122.8L410.5 123L413 123.1L415.5 122.9L418 122.5L420.3 121.8L422.5 121Z" stroke="#38bcd8" stroke-width="1.0" fill="none"/>
<path d="M420.8 119.1L422.5 118.2L424 117.2L425.3 116L426.4 114.7L427.2 113.4L427.8 111.9L428.1 110.4L428.1 108.9L427.8 107.4L427.3 106L426.5 104.6L425.4 103.2L424.2 102L422.7 100.9L421 100L419.1 99.2L417.2 98.6L415.1 98.2L413 97.9L410.9 97.9L408.8 98.1L406.7 98.4L404.8 99L402.9 99.7L401.2 100.6L399.7 101.6L398.4 102.8L397.3 104.1L396.5 105.4L395.9 106.9L395.6 108.4L395.6 109.9L395.9 111.4L396.4 112.8L397.2 114.2L398.3 115.6L399.6 116.8L401.1 117.9L402.7 118.8L404.6 119.6L406.5 120.2L408.6 120.6L410.7 120.9L412.8 120.9L414.9 120.7L417 120.4L419 119.8L420.8 119.1Z" stroke="#46c6b4" stroke-width="1.0" fill="none"/>
<path d="M417.9 144.6L420.2 143.3L422.3 141.9L424.1 140.3L425.6 138.5L426.8 136.6L427.6 134.6L428 132.6L428 130.5L427.6 128.4L426.9 126.4L425.8 124.4L424.3 122.6L422.5 120.9L420.5 119.4L418.1 118.1L415.6 117L412.9 116.2L410 115.6L407.1 115.3L404.2 115.2L401.3 115.5L398.4 116L395.7 116.7L393.1 117.7L390.8 118.9L388.7 120.4L386.9 122L385.4 123.8L384.3 125.7L383.5 127.7L383.1 129.7L383.1 131.8L383.4 133.9L384.2 135.9L385.3 137.8L386.7 139.7L388.5 141.3L390.6 142.9L392.9 144.2L395.4 145.2L398.2 146.1L401 146.7L403.9 147L406.9 147L409.8 146.8L412.6 146.3L415.3 145.6L417.9 144.6Z" stroke="#36a0e0" stroke-width="1.0" fill="none"/>
<path d="M416.2 142.7L418.2 141.7L420 140.4L421.6 139L422.8 137.5L423.8 135.8L424.5 134.1L424.9 132.4L424.9 130.6L424.6 128.8L423.9 127L423 125.4L421.7 123.8L420.2 122.3L418.4 121.1L416.4 119.9L414.2 119L411.9 118.3L409.4 117.8L406.9 117.5L404.4 117.4L401.9 117.6L399.4 118.1L397.1 118.7L394.9 119.6L392.8 120.6L391 121.9L389.5 123.3L388.2 124.8L387.2 126.4L386.5 128.2L386.2 129.9L386.2 131.7L386.5 133.5L387.1 135.2L388.1 136.9L389.3 138.5L390.9 139.9L392.7 141.2L394.7 142.4L396.8 143.3L399.2 144L401.6 144.5L404.1 144.8L406.7 144.8L409.2 144.6L411.6 144.2L414 143.6L416.2 142.7Z" stroke="#38bcd8" stroke-width="1.0" fill="none"/>
<path d="M414.5 140.8L416.2 140L417.7 138.9L419 137.8L420.1 136.5L420.9 135.1L421.4 133.6L421.7 132.2L421.8 130.7L421.5 129.2L421 127.7L420.2 126.3L419.1 125L417.8 123.8L416.3 122.7L414.6 121.7L412.8 120.9L410.8 120.3L408.8 119.9L406.7 119.7L404.6 119.7L402.4 119.8L400.4 120.2L398.4 120.7L396.6 121.4L394.9 122.3L393.4 123.4L392.1 124.5L391 125.8L390.2 127.2L389.6 128.6L389.3 130.1L389.3 131.6L389.6 133.1L390.1 134.6L390.9 136L391.9 137.3L393.2 138.5L394.7 139.6L396.4 140.5L398.2 141.3L400.2 141.9L402.2 142.4L404.4 142.6L406.5 142.6L408.6 142.5L410.7 142.1L412.6 141.6L414.5 140.8Z" stroke="#46c6b4" stroke-width="1.0" fill="none"/>
<path d="M488.9 150.1L491.3 148.8L493.4 147.4L495.2 145.8L496.7 144L497.8 142.1L498.6 140.1L499 138.1L499 136L498.6 133.9L497.9 131.9L496.8 129.9L495.3 128.1L493.5 126.4L491.5 124.9L489.2 123.6L486.6 122.5L483.9 121.7L481.1 121.1L478.2 120.8L475.2 120.7L472.3 121L469.4 121.5L466.7 122.2L464.2 123.2L461.8 124.4L459.7 125.9L457.9 127.5L456.4 129.3L455.3 131.2L454.5 133.2L454.1 135.2L454.1 137.3L454.4 139.4L455.2 141.4L456.3 143.3L457.8 145.2L459.5 146.8L461.6 148.4L463.9 149.7L466.5 150.7L469.2 151.6L472 152.2L474.9 152.5L477.9 152.5L480.8 152.3L483.6 151.8L486.4 151.1L488.9 150.1Z" stroke="#36a0e0" stroke-width="1.0" fill="none"/>
<path d="M487.2 148.2L489.2 147.2L491 145.9L492.6 144.5L493.9 143L494.9 141.3L495.5 139.6L495.9 137.9L495.9 136.1L495.6 134.3L494.9 132.5L494 130.9L492.7 129.3L491.2 127.8L489.4 126.6L487.4 125.4L485.2 124.5L482.9 123.8L480.4 123.3L477.9 123L475.4 122.9L472.9 123.1L470.4 123.6L468.1 124.2L465.9 125.1L463.9 126.1L462 127.4L460.5 128.8L459.2 130.3L458.2 131.9L457.6 133.7L457.2 135.4L457.2 137.2L457.5 139L458.1 140.7L459.1 142.4L460.4 144L461.9 145.4L463.7 146.7L465.7 147.9L467.9 148.8L470.2 149.5L472.6 150L475.2 150.3L477.7 150.3L480.2 150.1L482.7 149.7L485 149.1L487.2 148.2Z" stroke="#38bcd8" stroke-width="1.0" fill="none"/>
<path d="M485.5 146.3L487.2 145.5L488.7 144.4L490 143.3L491.1 142L491.9 140.6L492.5 139.1L492.8 137.7L492.8 136.2L492.5 134.7L492 133.2L491.2 131.8L490.1 130.5L488.8 129.3L487.3 128.2L485.7 127.2L483.8 126.4L481.9 125.8L479.8 125.4L477.7 125.2L475.6 125.2L473.5 125.3L471.4 125.7L469.4 126.2L467.6 126.9L465.9 127.8L464.4 128.9L463.1 130L462 131.3L461.2 132.7L460.6 134.1L460.3 135.6L460.3 137.1L460.6 138.6L461.1 140.1L461.9 141.5L463 142.8L464.2 144L465.7 145.1L467.4 146L469.3 146.8L471.2 147.4L473.3 147.9L475.4 148.1L477.5 148.1L479.6 148L481.7 147.6L483.6 147.1L485.5 146.3Z" stroke="#46c6b4" stroke-width="1.0" fill="none"/>
<ellipse cx="411.9" cy="89.8" rx="22.2" ry="23.8" fill="url(#sg13)" stroke="#000" stroke-width="1.0"/>
<ellipse cx="411.9" cy="89.8" rx="22.2" ry="23.8" fill="url(#sr14)"/>
<path d="M421.2 111.5L421.9 110.9L422.4 110.2L422.9 109.4L423.3 108.4L423.7 107.3L423.9 106L424 104.6L424.1 103.1L424 101.5L423.9 99.8L423.7 98L423.3 96.2L422.9 94.3L422.4 92.4L421.9 90.5L421.2 88.5L420.5 86.6L419.7 84.7L418.9 82.8L418 81L417 79.3L416 77.6L415 76L414 74.5L412.9 73.2L411.9 72M422.1 111L422.8 110.5L423.4 109.8L424 108.9L424.4 107.9L424.8 106.7L425 105.4L425.2 104.1L425.2 102.5L425.2 100.9L425 99.3L424.8 97.5L424.4 95.7L424 93.8L423.4 91.9L422.8 90L422.1 88.1L421.3 86.2L420.4 84.3L419.5 82.5L418.5 80.7L417.5 79L416.4 77.4L415.3 75.9L414.2 74.4L413 73.1L411.9 72M422.9 110.6L423.7 110L424.4 109.2L425 108.3L425.4 107.3L425.8 106.1L426.1 104.9L426.2 103.4L426.3 101.9L426.2 100.3L426.1 98.7L425.8 96.9L425.4 95.1L425 93.3L424.4 91.4L423.7 89.5L422.9 87.6L422.1 85.8L421.1 83.9L420.1 82.1L419.1 80.4L418 78.8L416.8 77.2L415.6 75.7L414.4 74.3L413.1 73.1L411.9 72M424.5 109.4L425.3 108.7L425.9 107.7L426.4 106.7L426.8 105.5L427.1 104.2L427.3 102.8L427.3 101.3L427.3 99.7L427.1 98L426.8 96.3L426.4 94.5L425.9 92.7L425.3 90.8L424.5 89L423.7 87.1L422.8 85.3L421.8 83.5L420.7 81.8L419.6 80.1L418.4 78.5L417.2 77L415.9 75.5L414.5 74.2L413.2 73L411.9 72M425.3 108.9L426.1 108.1L426.8 107.1L427.3 106L427.7 104.8L428.1 103.5L428.2 102.1L428.3 100.6L428.2 99L428.1 97.3L427.7 95.6L427.3 93.8L426.8 92L426.1 90.2L425.3 88.4L424.5 86.6L423.5 84.8L422.4 83.1L421.3 81.4L420.1 79.7L418.8 78.2L417.5 76.7L416.1 75.4L414.7 74.1L413.3 73L411.9 72M426.1 108.3L426.9 107.4L427.6 106.4L428.2 105.3L428.6 104.1L428.9 102.8L429.1 101.4L429.2 99.8L429.1 98.2L428.9 96.6L428.6 94.9L428.2 93.1L427.6 91.4L426.9 89.6L426.1 87.8L425.1 86L424.1 84.3L423 82.6L421.8 80.9L420.5 79.4L419.2 77.9L417.8 76.5L416.3 75.2L414.9 74L413.4 72.9L411.9 72M427.6 106.7L428.3 105.7L428.9 104.6L429.4 103.4L429.8 102L430 100.6L430 99.1L430 97.5L429.8 95.8L429.4 94.1L428.9 92.4L428.3 90.7L427.6 88.9L426.8 87.2L425.8 85.4L424.7 83.7L423.5 82.1L422.3 80.5L421 79L419.5 77.5L418.1 76.2L416.6 75L415 73.8L413.4 72.8L411.9 72M428.3 106L429 105L429.7 103.8L430.2 102.6L430.5 101.2L430.7 99.8L430.8 98.2L430.7 96.7L430.5 95L430.2 93.3L429.7 91.6L429 89.9L428.3 88.2L427.4 86.5L426.4 84.8L425.3 83.2L424 81.6L422.7 80L421.3 78.6L419.9 77.2L418.3 75.9L416.8 74.8L415.2 73.7L413.5 72.8L411.9 72M429.7 104.2L430.3 103L430.8 101.7L431.2 100.4L431.4 98.9L431.5 97.4L431.4 95.8L431.2 94.2L430.8 92.5L430.3 90.8L429.7 89.1L428.9 87.5L427.9 85.8L426.9 84.1L425.7 82.6L424.5 81L423.1 79.5L421.7 78.1L420.2 76.8L418.6 75.6L416.9 74.5L415.3 73.5L413.6 72.7L411.9 72M430.9 102.2L431.4 100.9L431.8 99.5L432 98L432.1 96.5L432 94.9L431.8 93.3L431.4 91.7L430.9 90L430.2 88.3L429.4 86.7L428.4 85.1L427.4 83.5L426.2 81.9L424.9 80.4L423.5 79L422 77.7L420.4 76.5L418.8 75.3L417.1 74.3L415.4 73.4L413.6 72.6L411.9 72M431.4 101.4L431.9 100L432.3 98.6L432.6 97.1L432.6 95.6L432.6 94L432.3 92.4L431.9 90.8L431.4 89.1L430.7 87.5L429.9 85.9L428.9 84.3L427.8 82.8L426.6 81.3L425.2 79.9L423.8 78.5L422.2 77.2L420.6 76.1L419 75L417.2 74.1L415.5 73.2L413.7 72.5L411.9 72M432.4 99.1L432.8 97.7L433 96.2L433.1 94.7L433 93.1L432.8 91.5L432.4 89.9L431.8 88.3L431.1 86.7L430.2 85.1L429.2 83.6L428.1 82.1L426.9 80.6L425.5 79.3L424 78L422.5 76.8L420.8 75.7L419.1 74.7L417.4 73.8L415.5 73.1L413.7 72.5L411.9 72M433.1 96.8L433.4 95.3L433.5 93.7L433.4 92.1L433.1 90.6L432.7 89L432.2 87.4L431.4 85.8L430.6 84.3L429.5 82.8L428.4 81.3L427.1 80L425.7 78.7L424.2 77.4L422.7 76.3L421 75.3L419.2 74.4L417.4 73.6L415.6 72.9L413.7 72.4L411.9 72M433.4 95.8L433.7 94.3L433.7 92.8L433.7 91.2L433.4 89.6L433 88L432.4 86.5L431.7 84.9L430.8 83.4L429.8 82L428.6 80.6L427.3 79.3L425.9 78L424.4 76.9L422.8 75.8L421.1 74.9L419.3 74L417.5 73.3L415.7 72.7L413.8 72.3L411.9 72M433.8 93.3L433.9 91.8L433.8 90.2L433.6 88.6L433.2 87.1L432.6 85.6L431.9 84L431 82.6L429.9 81.2L428.8 79.8L427.5 78.6L426 77.4L424.5 76.3L422.9 75.3L421.2 74.5L419.4 73.7L417.6 73.1L415.7 72.6L413.8 72.2L411.9 72M434 90.8L434 89.2L433.7 87.7L433.3 86.1L432.7 84.6L432 83.2L431.1 81.7L430 80.4L428.8 79.1L427.5 77.9L426.1 76.8L424.6 75.8L422.9 74.8L421.2 74L419.4 73.4L417.6 72.8L415.7 72.4L413.8 72.1L411.9 72M434 88.2L433.7 86.7L433.3 85.2L432.7 83.7L432 82.3L431.1 80.9L430 79.6L428.9 78.3L427.6 77.2L426.1 76.1L424.6 75.2L423 74.3L421.2 73.6L419.5 73L417.6 72.6L415.7 72.2L413.8 72L411.9 72M433.7 85.7L433.2 84.2L432.7 82.8L431.9 81.4L431 80L430 78.8L428.8 77.6L427.5 76.5L426.1 75.5L424.6 74.6L422.9 73.9L421.2 73.2L419.4 72.7L417.6 72.3L415.7 72.1L413.8 71.9L411.9 72M433.5 84.8L433.1 83.3L432.5 81.8L431.8 80.5L430.9 79.2L429.9 77.9L428.7 76.8L427.4 75.8L426 74.9L424.5 74.1L422.8 73.4L421.1 72.8L419.4 72.4L417.5 72.1L415.7 71.9L413.8 71.9L411.9 72M432.9 82.3L432.3 80.9L431.6 79.6L430.7 78.3L429.7 77.1L428.5 76.1L427.2 75.1L425.8 74.2L424.3 73.5L422.7 72.9L421 72.4L419.3 72L417.5 71.8L415.6 71.7L413.8 71.8L411.9 72M432 80L431.3 78.7L430.4 77.5L429.4 76.4L428.3 75.3L427 74.4L425.6 73.6L424.1 72.9L422.6 72.4L420.9 72L419.2 71.7L417.4 71.6L415.6 71.5L413.7 71.7L411.9 72M430.9 77.8L430 76.7L429.1 75.6L427.9 74.6L426.7 73.7L425.4 73L423.9 72.4L422.4 71.9L420.7 71.6L419 71.4L417.3 71.3L415.5 71.4L413.7 71.6L411.9 72M430.4 77L429.6 75.9L428.6 74.8L427.6 73.9L426.4 73.1L425 72.4L423.6 71.9L422.1 71.4L420.5 71.2L418.9 71.1L417.2 71.1L415.4 71.2L413.6 71.5L411.9 72M429.1 75.1L428.2 74.1L427.1 73.2L425.9 72.4L424.7 71.8L423.3 71.3L421.8 71L420.3 70.8L418.7 70.7L417 70.8L415.3 71.1L413.6 71.4L411.9 72M428.5 74.3L427.6 73.4L426.6 72.5L425.5 71.8L424.2 71.3L422.9 70.8L421.5 70.6L420 70.4L418.4 70.4L416.8 70.6L415.2 70.9L413.5 71.4L411.9 72M427 72.7L426.1 71.9L425 71.2L423.8 70.7L422.5 70.3L421.1 70.1L419.7 70.1L418.2 70.1L416.7 70.4L415.1 70.8L413.5 71.3L411.9 72M426.4 72L425.4 71.2L424.4 70.6L423.3 70.2L422 69.9L420.7 69.7L419.4 69.7L417.9 69.9L416.4 70.2L414.9 70.6L413.4 71.2L411.9 72M424.8 70.6L423.8 70.1L422.7 69.7L421.5 69.4L420.3 69.3L419 69.4L417.6 69.6L416.2 70L414.8 70.5L413.3 71.2L411.9 72M424.1 70.1L423.1 69.6L422.1 69.2L421 69L419.8 69L418.6 69.1L417.3 69.3L416 69.8L414.6 70.4L413.2 71.1L411.9 72M423.3 69.5L422.4 69.1L421.4 68.8L420.4 68.6L419.3 68.6L418.2 68.8L417 69.1L415.7 69.6L414.4 70.2L413.2 71L411.9 72M421.7 68.6L420.8 68.3L419.8 68.2L418.8 68.3L417.7 68.5L416.6 68.9L415.4 69.4L414.3 70.1L413.1 71L411.9 72M420.9 68.2L420 67.9L419.2 67.9L418.2 68L417.2 68.2L416.2 68.7L415.2 69.3L414.1 70L413 70.9L411.9 72M420 67.8L419.3 67.6L418.5 67.6L417.6 67.7L416.7 68L415.8 68.5L414.9 69.1L413.9 69.9L412.9 70.9L411.9 72M418.5 67.3L417.8 67.3L417 67.4L416.2 67.8L415.4 68.3L414.5 69L413.7 69.8L412.8 70.8L411.9 72M417.7 67L417.1 67L416.4 67.2L415.7 67.6L415 68.2L414.2 68.9L413.4 69.8L412.7 70.8L411.9 72M416.9 66.7L416.3 66.8L415.8 67L415.2 67.4L414.5 68L413.9 68.8L413.2 69.7L412.5 70.8L411.9 72M416 66.5L415.6 66.6L415.1 66.9L414.6 67.3L414.1 67.9L413.5 68.7L413 69.6L412.4 70.7L411.9 72M415.2 66.3L414.8 66.4L414.4 66.7L414 67.2L413.6 67.8L413.2 68.6L412.8 69.6L412.3 70.7L411.9 72M414.3 66.2L414 66.3L413.8 66.6L413.5 67.1L413.2 67.7L412.8 68.6L412.5 69.5L412.2 70.7L411.9 72M413.4 66.1L413.2 66.2L413.1 66.5L412.9 67L412.7 67.7L412.5 68.5L412.3 69.5L412.1 70.7L411.9 72M412.5 66L412.4 66.2L412.4 66.5L412.3 67L412.2 67.7L412.1 68.5L412 69.5L411.9 70.7L411.9 72M411.6 66L411.6 66.2L411.7 66.5L411.7 67L411.7 67.6L411.8 68.5L411.8 69.5L411.8 70.7L411.9 72M410.7 66L410.8 66.2L411 66.5L411.1 67L411.3 67.7L411.4 68.5L411.6 69.5L411.7 70.7L411.9 72M409.8 66.1L410 66.2L410.3 66.5L410.5 67L410.8 67.7L411 68.5L411.3 69.5L411.6 70.7L411.9 72M408.9 66.2L409.3 66.3L409.6 66.6L409.9 67.1L410.3 67.7L410.7 68.6L411.1 69.5L411.5 70.7L411.9 72M408.1 66.3L408.5 66.4L408.9 66.7L409.4 67.2L409.8 67.8L410.3 68.6L410.8 69.6L411.3 70.7L411.9 72M407.2 66.5L407.7 66.6L408.2 66.9L408.8 67.3L409.4 67.9L410 68.7L410.6 69.6L411.2 70.7L411.9 72M406.4 66.7L407 66.8L407.6 67L408.3 67.4L408.9 68L409.7 68.8L410.4 69.7L411.1 70.7L411.9 72M405.6 67L406.2 67L407 67.2L407.7 67.6L408.5 68.2L409.3 68.9L410.2 69.8L411 70.8L411.9 72M404.1 67.4L404.8 67.3L405.5 67.3L406.3 67.4L407.2 67.8L408.1 68.3L409 69L409.9 69.8L410.9 70.8L411.9 72M403.2 67.8L404 67.6L404.9 67.6L405.8 67.7L406.7 68L407.7 68.5L408.7 69.1L409.7 69.9L410.8 70.9L411.9 72M402.4 68.2L403.3 67.9L404.2 67.9L405.2 68L406.2 68.2L407.3 68.7L408.4 69.3L409.5 70L410.7 70.9L411.9 72M401.6 68.6L402.6 68.3L403.6 68.2L404.6 68.3L405.8 68.5L406.9 68.9L408.1 69.4L409.4 70.1L410.6 71L411.9 72M400 69.5L400.9 69.1L401.9 68.8L403 68.6L404.1 68.6L405.3 68.8L406.6 69.1L407.9 69.6L409.2 70.2L410.5 71L411.9 72M399.3 70.1L400.2 69.6L401.3 69.2L402.4 69L403.6 69L404.9 69.1L406.2 69.3L407.6 69.8L409 70.4L410.4 71.1L411.9 72M398.6 70.6L399.6 70.1L400.7 69.7L401.9 69.4L403.2 69.3L404.5 69.4L405.9 69.6L407.4 70L408.8 70.5L410.3 71.2L411.9 72M397 72L397.9 71.2L399 70.6L400.2 70.2L401.4 69.9L402.8 69.7L404.2 69.7L405.6 69.9L407.2 70.2L408.7 70.6L410.3 71.2L411.9 72M396.3 72.7L397.3 71.9L398.5 71.2L399.7 70.7L401 70.3L402.4 70.1L403.9 70.1L405.4 70.1L407 70.4L408.6 70.8L410.2 71.3L411.9 72M394.9 74.3L395.8 73.4L396.8 72.5L398 71.8L399.2 71.3L400.6 70.8L402 70.6L403.6 70.4L405.1 70.4L406.8 70.6L408.5 70.9L410.1 71.4L411.9 72M393.5 76.2L394.3 75.1L395.3 74.1L396.3 73.2L397.5 72.4L398.8 71.8L400.2 71.3L401.7 71L403.3 70.8L404.9 70.7L406.6 70.8L408.3 71.1L410.1 71.4L411.9 72M393 77L393.9 75.9L394.8 74.8L395.9 73.9L397.2 73.1L398.5 72.4L399.9 71.9L401.5 71.4L403.1 71.2L404.8 71.1L406.5 71.1L408.3 71.2L410 71.5L411.9 72M391.9 79.1L392.6 77.8L393.5 76.7L394.5 75.6L395.6 74.6L396.8 73.7L398.2 73L399.7 72.4L401.2 71.9L402.9 71.6L404.6 71.4L406.4 71.3L408.2 71.4L410 71.6L411.9 72M391 81.4L391.6 80L392.3 78.7L393.2 77.5L394.2 76.4L395.3 75.3L396.6 74.4L398 73.6L399.5 72.9L401.1 72.4L402.7 72L404.5 71.7L406.3 71.6L408.1 71.5L410 71.7L411.9 72M390.7 82.3L391.3 80.9L392 79.6L392.9 78.3L393.9 77.1L395.1 76.1L396.4 75.1L397.8 74.2L399.3 73.5L400.9 72.9L402.6 72.4L404.4 72L406.2 71.8L408.1 71.7L410 71.8L411.9 72M390.1 84.8L390.5 83.3L391.1 81.8L391.9 80.5L392.7 79.2L393.8 77.9L395 76.8L396.3 75.8L397.7 74.9L399.2 74.1L400.8 73.4L402.5 72.8L404.3 72.4L406.1 72.1L408 71.9L409.9 71.9L411.9 72M389.8 87.3L390 85.7L390.4 84.2L391 82.8L391.8 81.4L392.7 80L393.7 78.8L394.9 77.6L396.2 76.5L397.6 75.5L399.1 74.6L400.8 73.9L402.5 73.2L404.3 72.7L406.1 72.3L408 72.1L409.9 71.9L411.9 72M389.7 89.8L389.7 88.2L390 86.7L390.4 85.2L391 83.7L391.7 82.3L392.6 80.9L393.7 79.6L394.9 78.3L396.2 77.2L397.6 76.1L399.1 75.2L400.8 74.3L402.5 73.6L404.3 73L406.1 72.6L408 72.2L409.9 72L411.9 72M389.8 92.3L389.7 90.8L389.8 89.2L390.1 87.7L390.5 86.1L391.1 84.6L391.8 83.2L392.7 81.7L393.7 80.4L394.9 79.1L396.2 77.9L397.6 76.8L399.2 75.8L400.8 74.8L402.5 74L404.3 73.4L406.1 72.8L408 72.4L409.9 72.1L411.9 72M390 93.3L389.9 91.8L390 90.2L390.2 88.6L390.6 87.1L391.2 85.6L391.9 84L392.8 82.6L393.9 81.2L395 79.8L396.3 78.6L397.7 77.4L399.3 76.3L400.9 75.3L402.6 74.5L404.3 73.7L406.2 73.1L408 72.6L409.9 72.2L411.9 72M390.5 95.8L390.2 94.3L390.1 92.8L390.2 91.2L390.5 89.6L390.9 88L391.4 86.5L392.2 84.9L393 83.4L394.1 82L395.2 80.6L396.5 79.3L397.9 78L399.4 76.9L401 75.8L402.7 74.9L404.4 74L406.2 73.3L408.1 72.7L410 72.3L411.9 72M391.2 98.2L390.8 96.8L390.5 95.3L390.5 93.7L390.5 92.1L390.8 90.6L391.2 89L391.7 87.4L392.5 85.8L393.3 84.3L394.3 82.8L395.5 81.3L396.7 80L398.1 78.7L399.6 77.4L401.2 76.3L402.8 75.3L404.5 74.4L406.3 73.6L408.1 72.9L410 72.4L411.9 72M392.1 100.5L391.6 99.1L391.2 97.7L390.9 96.2L390.9 94.7L390.9 93.1L391.2 91.5L391.6 89.9L392.1 88.3L392.8 86.7L393.7 85.1L394.7 83.6L395.8 82.1L397 80.6L398.4 79.3L399.8 78L401.4 76.8L403 75.7L404.7 74.7L406.4 73.8L408.2 73.1L410 72.5L411.9 72M392.6 101.4L392.1 100L391.7 98.6L391.4 97.1L391.4 95.6L391.4 94L391.7 92.4L392.1 90.8L392.6 89.1L393.3 87.5L394.1 85.9L395.1 84.3L396.2 82.8L397.4 81.3L398.7 79.9L400.1 78.5L401.6 77.2L403.2 76.1L404.8 75L406.6 74.1L408.3 73.2L410.1 72.5L411.9 72M393.8 103.4L393.1 102.2L392.6 100.9L392.2 99.5L392 98L391.9 96.5L392 94.9L392.2 93.3L392.6 91.7L393.1 90L393.8 88.3L394.6 86.7L395.5 85.1L396.6 83.5L397.8 81.9L399.1 80.4L400.4 79L401.9 77.7L403.4 76.5L405 75.3L406.7 74.3L408.4 73.4L410.1 72.6L411.9 72M394.4 104.2L393.8 103L393.3 101.7L392.9 100.4L392.7 98.9L392.6 97.4L392.7 95.8L392.9 94.2L393.3 92.5L393.8 90.8L394.4 89.1L395.2 87.5L396.1 85.8L397.1 84.1L398.2 82.5L399.5 81L400.8 79.5L402.2 78.1L403.7 76.8L405.3 75.6L406.9 74.5L408.5 73.5L410.2 72.7L411.9 72M395.8 106L395.1 105L394.4 103.8L394 102.6L393.6 101.2L393.4 99.8L393.3 98.2L393.4 96.7L393.6 95L394 93.3L394.4 91.6L395.1 89.9L395.8 88.2L396.7 86.5L397.7 84.8L398.8 83.2L399.9 81.6L401.2 80L402.6 78.6L404 77.2L405.5 75.9L407.1 74.8L408.6 73.7L410.2 72.8L411.9 72M396.5 106.7L395.8 105.7L395.2 104.6L394.7 103.4L394.4 102L394.2 100.6L394.1 99.1L394.2 97.5L394.4 95.8L394.7 94.1L395.2 92.4L395.8 90.7L396.5 88.9L397.3 87.2L398.3 85.4L399.3 83.7L400.5 82.1L401.7 80.5L403 79L404.4 77.5L405.8 76.2L407.3 75L408.8 73.8L410.3 72.8L411.9 72M398.1 108.3L397.3 107.4L396.6 106.4L396 105.3L395.6 104.1L395.3 102.8L395.1 101.4L395 99.8L395.1 98.2L395.3 96.6L395.6 94.9L396 93.1L396.6 91.4L397.3 89.6L398.1 87.8L398.9 86L399.9 84.3L401 82.6L402.2 80.9L403.4 79.4L404.7 77.9L406.1 76.5L407.5 75.2L408.9 74L410.4 72.9L411.9 72M398.8 108.9L398.1 108.1L397.4 107.1L396.9 106L396.5 104.8L396.2 103.5L396 102.1L395.9 100.6L396 99L396.2 97.3L396.5 95.6L396.9 93.8L397.4 92L398.1 90.2L398.8 88.4L399.7 86.6L400.6 84.8L401.6 83.1L402.7 81.4L403.9 79.7L405.1 78.2L406.4 76.7L407.7 75.4L409.1 74.1L410.5 73L411.9 72M399.6 109.4L398.9 108.7L398.3 107.7L397.8 106.7L397.5 105.5L397.2 104.2L397 102.8L396.9 101.3L397 99.7L397.2 98L397.5 96.3L397.8 94.5L398.3 92.7L398.9 90.8L399.6 89L400.4 87.1L401.3 85.3L402.3 83.5L403.3 81.8L404.4 80.1L405.6 78.5L406.8 77L408 75.5L409.3 74.2L410.6 73L411.9 72M401.2 110.6L400.5 110L399.9 109.2L399.3 108.3L398.8 107.3L398.5 106.1L398.2 104.9L398.1 103.4L398 101.9L398.1 100.3L398.2 98.7L398.5 96.9L398.8 95.1L399.3 93.3L399.9 91.4L400.5 89.5L401.2 87.6L402.1 85.8L403 83.9L403.9 82.1L404.9 80.4L406 78.8L407.1 77.2L408.3 75.7L409.5 74.3L410.7 73.1L411.9 72M402.1 111L401.4 110.5L400.8 109.8L400.3 108.9L399.9 107.9L399.6 106.7L399.3 105.4L399.2 104L399.1 102.5L399.2 100.9L399.3 99.3L399.6 97.5L399.9 95.7L400.3 93.8L400.8 91.9L401.4 90L402.1 88.1L402.9 86.2L403.7 84.3L404.6 82.5L405.5 80.7L406.5 79L407.5 77.4L408.6 75.9L409.6 74.4L410.7 73.1L411.9 72M403 111.5L402.4 110.9L401.8 110.2L401.4 109.4L401 108.4L400.7 107.3L400.5 106L400.3 104.6L400.3 103.1L400.3 101.5L400.5 99.8L400.7 98L401 96.2L401.4 94.3L401.8 92.4L402.4 90.5L403 88.5L403.7 86.6L404.4 84.7L405.2 82.8L406.1 81L407 79.3L407.9 77.6L408.9 76L409.9 74.5L410.9 73.2L411.9 72M404.5 112.2L403.9 111.8L403.4 111.3L402.9 110.7L402.5 109.9L402.1 108.9L401.9 107.8L401.7 106.5L401.5 105.1L401.5 103.6L401.5 102L401.7 100.3L401.9 98.5L402.1 96.7L402.5 94.8L402.9 92.8L403.4 90.9L403.9 88.9L404.5 86.9L405.2 85L405.9 83.1L406.7 81.3L407.5 79.5L408.3 77.8L409.2 76.1L410.1 74.6L411 73.2L411.9 72M405.4 112.5L404.9 112.2L404.4 111.7L404 111.1L403.6 110.3L403.3 109.3L403.1 108.2L402.9 106.9L402.8 105.6L402.8 104.1L402.8 102.4L402.9 100.7L403.1 98.9L403.3 97.1L403.6 95.2L404 93.2L404.4 91.2L404.9 89.2L405.4 87.3L406 85.3L406.6 83.4L407.3 81.5L408 79.7L408.7 77.9L409.5 76.3L410.3 74.7L411.1 73.3L411.9 72M406.3 112.8L405.9 112.5L405.5 112L405.1 111.4L404.8 110.6L404.5 109.7L404.3 108.6L404.2 107.3L404.1 105.9L404 104.4L404.1 102.8L404.2 101.1L404.3 99.3L404.5 97.5L404.8 95.5L405.1 93.6L405.5 91.6L405.9 89.6L406.3 87.5L406.8 85.5L407.4 83.6L408 81.7L408.6 79.8L409.2 78L409.8 76.4L410.5 74.8L411.2 73.3L411.9 72M407.3 113L406.9 112.7L406.5 112.3L406.2 111.7L406 110.9L405.8 110L405.6 108.9L405.5 107.7L405.4 106.3L405.4 104.8L405.4 103.2L405.5 101.5L405.6 99.7L405.8 97.8L406 95.8L406.2 93.9L406.5 91.8L406.9 89.8L407.3 87.8L407.7 85.8L408.1 83.8L408.6 81.8L409.1 80L409.6 78.2L410.2 76.4L410.7 74.8L411.3 73.3L411.9 72M408.2 113.2L407.9 113L407.6 112.5L407.4 111.9L407.2 111.2L407 110.2L406.9 109.2L406.8 107.9L406.7 106.6L406.7 105.1L406.7 103.4L406.8 101.7L406.9 99.9L407 98L407.2 96.1L407.4 94.1L407.6 92.1L407.9 90L408.2 88L408.6 85.9L408.9 83.9L409.3 82L409.7 80.1L410.1 78.3L410.5 76.5L411 74.9L411.4 73.4L411.9 72M409.2 113.4L409 113.1L408.8 112.7L408.6 112.1L408.4 111.4L408.3 110.4L408.2 109.4L408.1 108.1L408.1 106.8L408.1 105.3L408.1 103.7L408.1 101.9L408.2 100.1L408.3 98.2L408.4 96.3L408.6 94.3L408.8 92.2L409 90.2L409.2 88.1L409.4 86.1L409.7 84.1L410 82.1L410.3 80.2L410.6 78.3L410.9 76.6L411.2 74.9L411.5 73.4L411.9 72M410.2 113.5L410 113.2L409.9 112.8L409.8 112.3L409.7 111.5L409.6 110.6L409.5 109.5L409.5 108.3L409.5 106.9L409.5 105.4L409.5 103.8L409.5 102.1L409.5 100.3L409.6 98.4L409.7 96.4L409.8 94.4L409.9 92.4L410 90.3L410.2 88.2L410.3 86.2L410.5 84.1L410.7 82.2L410.8 80.2L411 78.4L411.2 76.6L411.4 74.9L411.7 73.4L411.9 72M411.1 113.5L411.1 113.3L411 112.9L411 112.3L410.9 111.6L410.9 110.7L410.9 109.6L410.9 108.4L410.9 107L410.8 105.5L410.9 103.9L410.9 102.2L410.9 100.4L410.9 98.5L410.9 96.5L411 94.5L411 92.4L411.1 90.4L411.1 88.3L411.2 86.2L411.3 84.2L411.4 82.2L411.4 80.3L411.5 78.4L411.6 76.6L411.7 75L411.8 73.4L411.9 72M412.1 113.6L412.2 113.3L412.2 112.9L412.2 112.4L412.2 111.6L412.2 110.7L412.2 109.6L412.2 108.4L412.2 107L412.2 105.6L412.2 103.9L412.2 102.2L412.2 100.4L412.2 98.5L412.2 96.5L412.2 94.5L412.2 92.5L412.2 90.4L412.1 88.3L412.1 86.3L412.1 84.2L412.1 82.2L412 80.3L412 78.4L412 76.6L411.9 75L411.9 73.4L411.9 72M413.1 113.5L413.2 113.3L413.3 112.9L413.4 112.3L413.5 111.6L413.5 110.7L413.6 109.6L413.6 108.4L413.6 107L413.6 105.5L413.6 103.9L413.6 102.2L413.6 100.4L413.5 98.5L413.5 96.5L413.4 94.5L413.3 92.4L413.2 90.4L413.1 88.3L413 86.2L412.9 84.2L412.7 82.2L412.6 80.3L412.5 78.4L412.3 76.6L412.2 75L412 73.4L411.9 72M414.1 113.5L414.3 113.2L414.5 112.8L414.6 112.3L414.7 111.5L414.8 110.6L414.9 109.5L415 108.3L415 106.9L415 105.4L415 103.8L415 102.1L414.9 100.3L414.8 98.4L414.7 96.4L414.6 94.4L414.5 92.4L414.3 90.3L414.1 88.2L413.9 86.2L413.7 84.1L413.4 82.2L413.2 80.2L412.9 78.4L412.7 76.6L412.4 74.9L412.1 73.4L411.9 72M415.1 113.4L415.3 113.1L415.6 112.7L415.8 112.1L416 111.4L416.1 110.4L416.2 109.4L416.3 108.1L416.4 106.8L416.4 105.3L416.4 103.7L416.3 101.9L416.2 100.1L416.1 98.2L416 96.3L415.8 94.3L415.6 92.2L415.3 90.2L415.1 88.1L414.8 86.1L414.5 84.1L414.1 82.1L413.8 80.2L413.4 78.3L413 76.6L412.6 74.9L412.3 73.4L411.9 72M416 113.2L416.4 113L416.7 112.5L417 111.9L417.2 111.2L417.4 110.2L417.6 109.2L417.7 107.9L417.7 106.6L417.8 105.1L417.7 103.4L417.7 101.7L417.6 99.9L417.4 98L417.2 96.1L417 94.1L416.7 92.1L416.4 90L416 88L415.6 85.9L415.2 83.9L414.8 82L414.3 80.1L413.9 78.3L413.4 76.5L412.9 74.9L412.4 73.4L411.9 72M417 113L417.4 112.7L417.8 112.3L418.1 111.7L418.4 110.9L418.6 110L418.8 108.9L419 107.7L419.1 106.3L419.1 104.8L419.1 103.2L419 101.5L418.8 99.7L418.6 97.8L418.4 95.8L418.1 93.9L417.8 91.8L417.4 89.8L417 87.8L416.5 85.8L416 83.8L415.5 81.8L414.9 80L414.3 78.2L413.7 76.4L413.1 74.8L412.5 73.3L411.9 72M417.9 112.8L418.4 112.5L418.8 112L419.2 111.4L419.6 110.6L419.9 109.7L420.1 108.6L420.3 107.3L420.4 105.9L420.4 104.4L420.4 102.8L420.3 101.1L420.1 99.3L419.9 97.5L419.6 95.5L419.2 93.6L418.8 91.6L418.4 89.6L417.9 87.5L417.3 85.5L416.8 83.6L416.1 81.7L415.5 79.8L414.8 78L414.1 76.4L413.3 74.8L412.6 73.3L411.9 72M418.8 112.5L419.4 112.2L419.9 111.7L420.3 111.1L420.7 110.3L421.1 109.3L421.3 108.2L421.5 106.9L421.6 105.6L421.7 104.1L421.6 102.4L421.5 100.7L421.3 98.9L421.1 97.1L420.7 95.2L420.3 93.2L419.9 91.2L419.4 89.3L418.8 87.3L418.2 85.3L417.5 83.4L416.8 81.5L416 79.7L415.2 77.9L414.4 76.3L413.6 74.7L412.7 73.3L411.9 72M420.3 111.8L420.9 111.3L421.4 110.7L421.9 109.9L422.2 108.9L422.5 107.8L422.7 106.5L422.8 105.1L422.9 103.6L422.8 102L422.7 100.3L422.5 98.5L422.2 96.7L421.9 94.8L421.4 92.8L420.9 90.9L420.3 88.9L419.7 86.9L418.9 85L418.2 83.1L417.4 81.3L416.5 79.5L415.6 77.8L414.7 76.1L413.8 74.6L412.8 73.2L411.9 72" stroke="#000" stroke-width="0.5" stroke-opacity="0.3" fill="none"/>
<path d="M390.9 83.2L390.9 97.3M392.3 80.2L392.3 100.7M393.8 78L393.8 103.2M395.2 76.4L395.2 105.1M396.7 75L396.7 106.6M398.1 73.9L398.1 107.9M399.6 72.9L399.6 109M401 72.1L401 109.9M402.5 71.4L402.5 110.7M403.9 70.8L403.9 111.4M405.4 70.4L405.4 111.9M406.8 70L406.8 112.3M408.3 69.8L408.3 112.6M409.7 69.6L409.7 112.8M411.2 69.5L411.2 112.9M412.6 69.5L412.6 112.9M414.1 69.6L414.1 112.8M415.5 69.8L415.5 112.6M417 70L417 112.3M418.4 70.4L418.4 111.9M419.9 70.8L419.9 111.3M421.3 71.4L421.3 110.7M422.8 72.1L422.8 109.9M424.2 72.9L424.2 109M425.7 73.9L425.7 107.9M427.1 75L427.1 106.6M428.6 76.4L428.6 105M430 78.1L430 103.1M431.5 80.3L431.5 100.6M432.9 83.3L432.9 97.1" stroke="#000" stroke-width="0.6" stroke-opacity="0.26" fill="none"/>
<ellipse cx="411.9" cy="72" rx="6.7" ry="3.1" fill="url(#sp15)"/>
<path d="M431.6 56.4L431.6 114.3A11.1 7.9 0 0 0 453.9 114.3L453.9 56.4Z" fill="url(#cg16)" stroke="#10103a" stroke-width="0.6"/>
<path d="M448.9 63.1L448.9 120.9M450.1 62.4L450.1 120.2M451.2 61.6L451.2 119.5M452.2 60.7L452.2 118.6M452.9 59.8L452.9 117.6M453.4 58.7L453.4 116.5M453.8 57.6L453.8 115.4M431.6 56.4L431.6 114.2M431.7 57.5L431.7 115.3M432.1 58.6L432.1 116.4M432.6 59.7L432.6 117.5M433.4 60.7L433.4 118.5M434.4 61.6L434.4 119.4M435.5 62.4L435.5 120.2M436.8 63L436.8 120.9M438.2 63.6L438.2 121.4M439.7 64L439.7 121.8M441.3 64.2L441.3 122M442.8 64.3L442.8 122.1M444.4 64.2L444.4 122.1M446 64L446 121.8M447.5 63.6L447.5 121.4" stroke="#000" stroke-width="0.45" stroke-opacity="0.4" fill="none"/>
<path d="M431.6 56.4L431.6 114.3A11.1 7.9 0 0 0 453.9 114.3L453.9 56.4Z" fill="url(#cs17)"/>
<path d="M448.9 63.1L450 62.5L451 61.8L451.9 61L452.7 60.1L453.2 59.1L453.6 58.2L453.8 57.1L453.8 56.1L453.7 55.1L453.3 54.1L452.7 53.1L452 52.2L451.1 51.4L450.1 50.6L449 50L447.7 49.5L446.4 49L445 48.8L443.5 48.6L442.1 48.6L440.6 48.7L439.2 48.9L437.9 49.3L436.6 49.8L435.4 50.4L434.4 51.1L433.5 51.9L432.8 52.8L432.2 53.7L431.8 54.7L431.6 55.7L431.6 56.8L431.8 57.8L432.2 58.8L432.7 59.8L433.4 60.7L434.3 61.5L435.3 62.2L436.5 62.9L437.7 63.4L439.1 63.8L440.5 64.1L441.9 64.3L443.4 64.3L444.8 64.2L446.2 64L447.6 63.6Z" fill="#0a80f8" stroke="#0a1020" stroke-width="0.7"/>
<ellipse cx="405.5" cy="111.5" rx="22.2" ry="23.8" fill="url(#sg18)" stroke="#000" stroke-width="1.0"/>
<ellipse cx="405.5" cy="111.5" rx="22.2" ry="23.8" fill="url(#sr19)"/>
<path d="M414.9 133.2L415.5 132.7L416.1 132L416.6 131.1L417 130.1L417.3 129L417.6 127.7L417.7 126.3L417.7 124.8L417.7 123.2L417.6 121.5L417.3 119.8L417 117.9L416.6 116.1L416.1 114.1L415.5 112.2L414.9 110.3L414.2 108.3L413.4 106.4L412.5 104.6L411.6 102.7L410.7 101L409.7 99.3L408.7 97.7L407.6 96.3L406.6 94.9L405.5 93.7M415.8 132.8L416.5 132.2L417.1 131.5L417.6 130.6L418.1 129.6L418.4 128.5L418.7 127.2L418.8 125.8L418.9 124.3L418.8 122.7L418.7 121L418.4 119.2L418.1 117.4L417.6 115.5L417.1 113.7L416.5 111.7L415.8 109.8L415 107.9L414.1 106.1L413.2 104.2L412.2 102.5L411.2 100.8L410.1 99.1L409 97.6L407.8 96.2L406.7 94.9L405.5 93.7M416.6 132.3L417.4 131.7L418 131L418.6 130.1L419.1 129L419.5 127.9L419.7 126.6L419.9 125.2L420 123.7L419.9 122.1L419.7 120.4L419.5 118.6L419.1 116.8L418.6 115L418 113.1L417.4 111.2L416.6 109.4L415.7 107.5L414.8 105.7L413.8 103.9L412.7 102.2L411.6 100.5L410.5 98.9L409.3 97.4L408 96.1L406.8 94.8L405.5 93.7M418.2 131.2L418.9 130.4L419.5 129.5L420.1 128.4L420.5 127.2L420.8 125.9L420.9 124.5L421 123L420.9 121.4L420.8 119.8L420.5 118L420.1 116.2L419.5 114.4L418.9 112.6L418.2 110.7L417.4 108.9L416.5 107L415.5 105.3L414.4 103.5L413.3 101.8L412.1 100.2L410.8 98.7L409.5 97.3L408.2 96L406.9 94.8L405.5 93.7M419 130.6L419.8 129.8L420.4 128.9L421 127.8L421.4 126.6L421.7 125.3L421.9 123.8L422 122.3L421.9 120.7L421.7 119.1L421.4 117.3L421 115.6L420.4 113.8L419.8 112L419 110.1L418.1 108.3L417.1 106.5L416.1 104.8L415 103.1L413.7 101.5L412.5 99.9L411.1 98.5L409.8 97.1L408.4 95.8L407 94.7L405.5 93.7M419.7 130L420.5 129.2L421.2 128.2L421.8 127.1L422.3 125.9L422.6 124.5L422.8 123.1L422.9 121.6L422.8 120L422.6 118.3L422.3 116.6L421.8 114.9L421.2 113.1L420.5 111.3L419.7 109.5L418.8 107.8L417.8 106L416.7 104.3L415.5 102.7L414.2 101.1L412.9 99.6L411.5 98.2L410 96.9L408.5 95.7L407 94.6L405.5 93.7M421.3 128.5L422 127.5L422.6 126.3L423.1 125.1L423.4 123.8L423.6 122.3L423.7 120.8L423.6 119.2L423.4 117.6L423.1 115.9L422.6 114.1L422 112.4L421.3 110.6L420.4 108.9L419.4 107.2L418.4 105.5L417.2 103.8L415.9 102.2L414.6 100.7L413.2 99.3L411.7 97.9L410.2 96.7L408.7 95.6L407.1 94.6L405.5 93.7M421.9 127.8L422.7 126.7L423.3 125.6L423.8 124.3L424.2 123L424.4 121.5L424.5 120L424.4 118.4L424.2 116.8L423.8 115.1L423.3 113.4L422.7 111.6L421.9 109.9L421 108.2L420 106.5L418.9 104.9L417.7 103.3L416.4 101.8L415 100.3L413.5 98.9L412 97.7L410.4 96.5L408.8 95.4L407.2 94.5L405.5 93.7M423.3 126L424 124.8L424.5 123.5L424.9 122.1L425.1 120.7L425.2 119.1L425.1 117.5L424.9 115.9L424.5 114.3L424 112.6L423.3 110.9L422.5 109.2L421.6 107.5L420.6 105.9L419.4 104.3L418.1 102.8L416.8 101.3L415.3 99.9L413.8 98.6L412.2 97.4L410.6 96.3L408.9 95.3L407.2 94.4L405.5 93.7M424.5 123.9L425.1 122.6L425.5 121.2L425.7 119.8L425.8 118.2L425.7 116.7L425.5 115L425.1 113.4L424.5 111.7L423.9 110.1L423.1 108.4L422.1 106.8L421 105.2L419.8 103.7L418.5 102.2L417.1 100.8L415.6 99.4L414.1 98.2L412.4 97.1L410.8 96L409 95.1L407.3 94.4L405.5 93.7M425 123.1L425.6 121.8L426 120.3L426.2 118.9L426.3 117.3L426.2 115.8L426 114.2L425.6 112.5L425 110.9L424.4 109.3L423.5 107.6L422.5 106.1L421.4 104.5L420.2 103L418.9 101.6L417.4 100.3L415.9 99L414.3 97.8L412.6 96.8L410.9 95.8L409.1 95L407.3 94.3L405.5 93.7M426 120.9L426.4 119.4L426.7 117.9L426.7 116.4L426.7 114.8L426.4 113.2L426 111.6L425.5 110L424.8 108.4L423.9 106.8L422.9 105.3L421.8 103.8L420.5 102.4L419.2 101L417.7 99.7L416.1 98.5L414.5 97.4L412.8 96.4L411 95.6L409.2 94.8L407.4 94.2L405.5 93.7M426.8 118.5L427 117L427.1 115.5L427 113.9L426.8 112.3L426.4 110.7L425.8 109.1L425.1 107.6L424.2 106L423.2 104.5L422.1 103.1L420.8 101.7L419.4 100.4L417.9 99.2L416.3 98L414.6 97L412.9 96.1L411.1 95.3L409.3 94.6L407.4 94.1L405.5 93.7M427.1 117.5L427.3 116L427.4 114.5L427.3 112.9L427.1 111.3L426.7 109.8L426.1 108.2L425.3 106.7L424.5 105.2L423.4 103.7L422.3 102.3L421 101L419.6 99.8L418.1 98.6L416.5 97.6L414.8 96.6L413 95.8L411.2 95.1L409.3 94.5L407.4 94L405.5 93.7M427.5 115.1L427.6 113.5L427.5 112L427.3 110.4L426.8 108.8L426.3 107.3L425.5 105.8L424.6 104.3L423.6 102.9L422.4 101.6L421.1 100.3L419.7 99.1L418.2 98.1L416.6 97.1L414.8 96.2L413.1 95.4L411.2 94.8L409.4 94.3L407.4 93.9L405.5 93.7M427.7 112.5L427.6 111L427.4 109.4L426.9 107.9L426.4 106.4L425.6 104.9L424.7 103.5L423.7 102.1L422.5 100.8L421.2 99.6L419.8 98.5L418.2 97.5L416.6 96.6L414.9 95.8L413.1 95.1L411.3 94.6L409.4 94.1L407.5 93.9L405.5 93.7M427.6 110L427.4 108.4L427 106.9L426.4 105.4L425.6 104L424.7 102.6L423.7 101.3L422.5 100.1L421.2 98.9L419.8 97.9L418.3 96.9L416.6 96.1L414.9 95.4L413.1 94.8L411.3 94.3L409.4 94L407.5 93.8L405.5 93.7M427.3 107.5L426.9 106L426.3 104.5L425.6 103.1L424.7 101.8L423.6 100.5L422.5 99.3L421.2 98.2L419.7 97.2L418.2 96.4L416.6 95.6L414.9 95L413.1 94.4L411.2 94.1L409.4 93.8L407.4 93.7L405.5 93.7M427.2 106.5L426.7 105L426.2 103.6L425.4 102.2L424.5 100.9L423.5 99.7L422.4 98.6L421.1 97.5L419.6 96.6L418.1 95.8L416.5 95.1L414.8 94.5L413 94.1L411.2 93.8L409.3 93.6L407.4 93.6L405.5 93.7M426.5 104.1L425.9 102.7L425.2 101.3L424.3 100.1L423.3 98.9L422.2 97.8L420.9 96.8L419.5 96L418 95.2L416.4 94.6L414.7 94.1L413 93.8L411.1 93.5L409.3 93.5L407.4 93.5L405.5 93.7M425.6 101.8L424.9 100.4L424.1 99.2L423.1 98.1L421.9 97.1L420.7 96.2L419.3 95.4L417.8 94.7L416.2 94.1L414.6 93.7L412.8 93.4L411.1 93.3L409.2 93.3L407.4 93.4L405.5 93.7M424.5 99.6L423.7 98.4L422.7 97.3L421.6 96.3L420.4 95.5L419 94.7L417.6 94.1L416 93.7L414.4 93.3L412.7 93.1L411 93L409.2 93.1L407.3 93.3L405.5 93.7M424.1 98.7L423.3 97.6L422.3 96.6L421.2 95.6L420 94.8L418.7 94.1L417.3 93.6L415.8 93.2L414.2 92.9L412.5 92.8L410.8 92.8L409.1 93L407.3 93.3L405.5 93.7M422.8 96.8L421.8 95.8L420.8 94.9L419.6 94.2L418.3 93.6L416.9 93.1L415.5 92.7L413.9 92.5L412.3 92.5L410.7 92.6L409 92.8L407.3 93.2L405.5 93.7M422.2 96L421.3 95.1L420.3 94.3L419.1 93.6L417.9 93L416.6 92.6L415.2 92.3L413.7 92.2L412.1 92.2L410.5 92.3L408.9 92.7L407.2 93.1L405.5 93.7M420.7 94.4L419.7 93.6L418.6 93L417.4 92.4L416.2 92.1L414.8 91.9L413.4 91.8L411.9 91.9L410.3 92.1L408.7 92.5L407.1 93L405.5 93.7M420 93.7L419.1 93L418.1 92.4L416.9 91.9L415.7 91.6L414.4 91.5L413 91.5L411.6 91.6L410.1 91.9L408.6 92.4L407.1 93L405.5 93.7M418.4 92.4L417.4 91.8L416.4 91.4L415.2 91.2L413.9 91.1L412.6 91.1L411.3 91.3L409.9 91.7L408.4 92.2L407 92.9L405.5 93.7M417.7 91.8L416.8 91.3L415.8 90.9L414.7 90.7L413.5 90.7L412.2 90.8L411 91.1L409.6 91.5L408.3 92.1L406.9 92.8L405.5 93.7M416.9 91.3L416.1 90.8L415.1 90.5L414.1 90.3L413 90.3L411.8 90.5L410.6 90.8L409.4 91.3L408.1 92L406.8 92.8L405.5 93.7M415.3 90.3L414.4 90.1L413.5 90L412.4 90L411.4 90.2L410.3 90.6L409.1 91.2L407.9 91.9L406.7 92.7L405.5 93.7M414.5 89.9L413.7 89.7L412.8 89.6L411.9 89.7L410.9 90L409.9 90.4L408.8 91L407.7 91.8L406.6 92.7L405.5 93.7M413.7 89.5L413 89.3L412.2 89.3L411.3 89.4L410.4 89.7L409.5 90.2L408.5 90.9L407.5 91.7L406.5 92.6L405.5 93.7M412.2 89L411.5 89L410.7 89.2L409.9 89.5L409.1 90.1L408.2 90.7L407.3 91.6L406.4 92.6L405.5 93.7M411.4 88.7L410.7 88.8L410.1 89L409.4 89.3L408.6 89.9L407.9 90.6L407.1 91.5L406.3 92.5L405.5 93.7M410.5 88.5L410 88.5L409.4 88.8L408.8 89.2L408.2 89.8L407.5 90.5L406.9 91.4L406.2 92.5L405.5 93.7M409.7 88.2L409.2 88.3L408.8 88.6L408.3 89L407.7 89.7L407.2 90.4L406.6 91.4L406.1 92.5L405.5 93.7M408.8 88.1L408.5 88.2L408.1 88.5L407.7 88.9L407.3 89.6L406.9 90.4L406.4 91.3L406 92.4L405.5 93.7M408 87.9L407.7 88.1L407.4 88.4L407.1 88.8L406.8 89.5L406.5 90.3L406.2 91.3L405.8 92.4L405.5 93.7M407.1 87.8L406.9 88L406.7 88.3L406.5 88.8L406.3 89.4L406.1 90.3L405.9 91.3L405.7 92.4L405.5 93.7M406.2 87.8L406.1 87.9L406 88.2L405.9 88.7L405.9 89.4L405.8 90.2L405.7 91.2L405.6 92.4L405.5 93.7M405.3 87.7L405.3 87.9L405.3 88.2L405.4 88.7L405.4 89.4L405.4 90.2L405.5 91.2L405.5 92.4L405.5 93.7M404.4 87.8L404.5 87.9L404.6 88.2L404.8 88.7L404.9 89.4L405.1 90.2L405.2 91.2L405.4 92.4L405.5 93.7M403.5 87.8L403.7 88L403.9 88.3L404.2 88.8L404.4 89.4L404.7 90.3L405 91.3L405.2 92.4L405.5 93.7M402.6 87.9L402.9 88.1L403.3 88.4L403.6 88.8L404 89.5L404.3 90.3L404.7 91.3L405.1 92.4L405.5 93.7M401.7 88.1L402.1 88.2L402.6 88.5L403 88.9L403.5 89.6L404 90.4L404.5 91.3L405 92.4L405.5 93.7M400.9 88.2L401.4 88.3L401.9 88.6L402.5 89L403 89.7L403.7 90.4L404.3 91.4L404.9 92.5L405.5 93.7M400 88.5L400.6 88.5L401.3 88.8L401.9 89.2L402.6 89.8L403.3 90.5L404 91.4L404.8 92.5L405.5 93.7M399.2 88.7L399.9 88.8L400.6 89L401.4 89.3L402.2 89.9L403 90.6L403.8 91.5L404.7 92.5L405.5 93.7M397.7 89.2L398.4 89L399.2 89L400 89.2L400.9 89.5L401.7 90.1L402.7 90.7L403.6 91.6L404.6 92.6L405.5 93.7M396.9 89.5L397.7 89.3L398.5 89.3L399.4 89.4L400.4 89.7L401.3 90.2L402.4 90.9L403.4 91.7L404.5 92.6L405.5 93.7M396.1 89.9L396.9 89.7L397.9 89.6L398.8 89.7L399.9 90L401 90.4L402.1 91L403.2 91.8L404.4 92.7L405.5 93.7M395.3 90.3L396.2 90.1L397.2 90L398.3 90L399.4 90.2L400.6 90.6L401.8 91.2L403 91.9L404.3 92.7L405.5 93.7M393.7 91.3L394.6 90.8L395.6 90.5L396.6 90.3L397.8 90.3L399 90.5L400.2 90.8L401.5 91.3L402.8 92L404.2 92.8L405.5 93.7M392.9 91.8L393.9 91.3L395 90.9L396.1 90.7L397.3 90.7L398.6 90.8L399.9 91.1L401.3 91.5L402.7 92.1L404.1 92.8L405.5 93.7M392.2 92.4L393.3 91.8L394.4 91.4L395.6 91.2L396.8 91.1L398.2 91.1L399.6 91.3L401 91.7L402.5 92.2L404 92.9L405.5 93.7M390.6 93.7L391.6 93L392.7 92.4L393.8 91.9L395.1 91.6L396.4 91.5L397.8 91.5L399.3 91.6L400.8 91.9L402.4 92.4L403.9 93L405.5 93.7M390 94.4L391 93.6L392.1 93L393.3 92.4L394.7 92.1L396 91.9L397.5 91.8L399 91.9L400.6 92.1L402.2 92.5L403.9 93L405.5 93.7M388.5 96L389.4 95.1L390.5 94.3L391.6 93.6L392.9 93L394.3 92.6L395.7 92.3L397.2 92.2L398.8 92.2L400.4 92.3L402.1 92.7L403.8 93.1L405.5 93.7M387.2 97.9L388 96.8L388.9 95.8L390 94.9L391.2 94.2L392.5 93.6L393.9 93.1L395.4 92.7L397 92.5L398.6 92.5L400.3 92.6L402 92.8L403.8 93.2L405.5 93.7M386.7 98.7L387.5 97.6L388.5 96.6L389.6 95.6L390.8 94.8L392.2 94.1L393.6 93.6L395.1 93.2L396.7 92.9L398.4 92.8L400.1 92.8L401.9 93L403.7 93.3L405.5 93.7M385.6 100.9L386.3 99.6L387.1 98.4L388.1 97.3L389.3 96.3L390.5 95.5L391.9 94.7L393.3 94.1L394.9 93.7L396.5 93.3L398.3 93.1L400 93L401.8 93.1L403.7 93.3L405.5 93.7M384.7 103.1L385.2 101.8L385.9 100.4L386.8 99.2L387.8 98.1L389 97.1L390.3 96.2L391.6 95.4L393.1 94.7L394.7 94.1L396.4 93.7L398.1 93.4L399.9 93.3L401.8 93.3L403.6 93.4L405.5 93.7M384.4 104.1L385 102.7L385.7 101.3L386.6 100.1L387.6 98.9L388.8 97.8L390.1 96.8L391.5 96L393 95.2L394.6 94.6L396.3 94.1L398 93.8L399.9 93.5L401.7 93.5L403.6 93.5L405.5 93.7M383.8 106.5L384.2 105L384.8 103.6L385.5 102.2L386.4 100.9L387.4 99.7L388.6 98.6L389.9 97.5L391.3 96.6L392.9 95.8L394.5 95.1L396.2 94.5L398 94.1L399.8 93.8L401.7 93.6L403.6 93.6L405.5 93.7M383.4 109L383.7 107.5L384.1 106L384.7 104.5L385.4 103.1L386.3 101.8L387.4 100.5L388.5 99.3L389.8 98.2L391.3 97.2L392.8 96.4L394.4 95.6L396.1 95L397.9 94.4L399.8 94.1L401.7 93.8L403.6 93.7L405.5 93.7M383.3 111.5L383.4 110L383.7 108.4L384.1 106.9L384.7 105.4L385.4 104L386.3 102.6L387.3 101.3L388.5 100.1L389.8 98.9L391.3 97.9L392.8 96.9L394.4 96.1L396.1 95.4L397.9 94.8L399.8 94.3L401.7 94L403.6 93.8L405.5 93.7M383.5 114.1L383.4 112.5L383.5 111L383.7 109.4L384.1 107.9L384.7 106.4L385.5 104.9L386.4 103.5L387.4 102.1L388.6 100.8L389.9 99.6L391.3 98.5L392.8 97.5L394.5 96.6L396.2 95.8L398 95.1L399.8 94.6L401.7 94.1L403.6 93.9L405.5 93.7M383.6 115.1L383.5 113.5L383.6 112L383.9 110.4L384.3 108.8L384.9 107.3L385.6 105.8L386.5 104.3L387.5 102.9L388.7 101.6L390 100.3L391.4 99.1L392.9 98.1L394.5 97.1L396.2 96.2L398 95.4L399.8 94.8L401.7 94.3L403.6 93.9L405.5 93.7M384.1 117.5L383.9 116L383.8 114.5L383.9 112.9L384.1 111.3L384.5 109.8L385.1 108.2L385.8 106.7L386.7 105.2L387.7 103.7L388.9 102.3L390.2 101L391.6 99.8L393.1 98.6L394.7 97.6L396.3 96.6L398.1 95.8L399.9 95.1L401.7 94.5L403.6 94L405.5 93.7M384.8 119.9L384.4 118.5L384.2 117L384.1 115.5L384.2 113.9L384.4 112.3L384.8 110.7L385.4 109.1L386.1 107.5L387 106L388 104.5L389.1 103.1L390.4 101.7L391.8 100.4L393.2 99.2L394.8 98L396.5 97L398.2 96.1L400 95.3L401.8 94.6L403.7 94.1L405.5 93.7M385.8 122.2L385.2 120.9L384.8 119.4L384.6 117.9L384.5 116.4L384.6 114.8L384.8 113.2L385.2 111.6L385.8 110L386.5 108.4L387.3 106.8L388.3 105.3L389.4 103.8L390.7 102.4L392 101L393.5 99.7L395 98.5L396.6 97.4L398.3 96.4L400.1 95.6L401.9 94.8L403.7 94.2L405.5 93.7M386.3 123.1L385.7 121.8L385.3 120.3L385.1 118.9L385 117.3L385.1 115.8L385.3 114.2L385.7 112.5L386.3 110.9L386.9 109.3L387.8 107.6L388.7 106.1L389.8 104.5L391 103L392.3 101.6L393.8 100.3L395.3 99L396.9 97.8L398.5 96.8L400.2 95.8L402 95L403.7 94.3L405.5 93.7M387.5 125.2L386.8 123.9L386.3 122.6L385.9 121.2L385.7 119.8L385.6 118.2L385.7 116.7L385.9 115L386.3 113.4L386.8 111.7L387.5 110.1L388.3 108.4L389.2 106.8L390.3 105.2L391.4 103.7L392.7 102.2L394.1 100.8L395.6 99.4L397.1 98.2L398.7 97.1L400.4 96L402.1 95.1L403.8 94.4L405.5 93.7M388.1 126L387.4 124.8L386.9 123.5L386.5 122.1L386.3 120.7L386.3 119.1L386.3 117.5L386.5 115.9L386.9 114.3L387.4 112.6L388.1 110.9L388.8 109.2L389.7 107.5L390.8 105.9L391.9 104.3L393.1 102.8L394.5 101.3L395.9 99.9L397.4 98.6L398.9 97.4L400.5 96.3L402.2 95.3L403.8 94.4L405.5 93.7M389.5 127.8L388.7 126.7L388.1 125.6L387.6 124.3L387.3 122.9L387.1 121.5L387 120L387.1 118.4L387.3 116.8L387.6 115.1L388.1 113.4L388.7 111.6L389.5 109.9L390.3 108.2L391.3 106.5L392.4 104.9L393.6 103.3L394.9 101.8L396.3 100.3L397.7 98.9L399.2 97.7L400.7 96.5L402.3 95.4L403.9 94.5L405.5 93.7M390.2 128.5L389.4 127.5L388.9 126.3L388.4 125.1L388.1 123.8L387.9 122.3L387.8 120.8L387.9 119.2L388.1 117.6L388.4 115.9L388.9 114.1L389.4 112.4L390.2 110.6L391 108.9L391.9 107.2L393 105.5L394.1 103.8L395.3 102.2L396.7 100.7L398 99.3L399.5 97.9L400.9 96.7L402.4 95.6L404 94.6L405.5 93.7M391.7 130L390.9 129.2L390.2 128.2L389.7 127.1L389.2 125.9L388.9 124.5L388.7 123.1L388.7 121.6L388.7 120L388.9 118.3L389.2 116.6L389.7 114.9L390.2 113.1L390.9 111.3L391.7 109.5L392.6 107.8L393.6 106L394.7 104.3L395.9 102.7L397.1 101.1L398.4 99.6L399.8 98.2L401.2 96.9L402.6 95.7L404.1 94.6L405.5 93.7M392.5 130.6L391.7 129.8L391.1 128.9L390.6 127.8L390.1 126.6L389.8 125.3L389.7 123.8L389.6 122.3L389.7 120.7L389.8 119.1L390.1 117.3L390.6 115.6L391.1 113.8L391.7 112L392.5 110.1L393.3 108.3L394.3 106.5L395.3 104.8L396.4 103.1L397.6 101.5L398.8 99.9L400.1 98.5L401.4 97.1L402.8 95.8L404.1 94.7L405.5 93.7M393.3 131.2L392.6 130.4L392 129.5L391.5 128.4L391.1 127.2L390.8 125.9L390.7 124.5L390.6 123L390.7 121.4L390.8 119.7L391.1 118L391.5 116.2L392 114.4L392.6 112.6L393.3 110.7L394.1 108.9L395 107L395.9 105.3L397 103.5L398.1 101.8L399.2 100.2L400.4 98.7L401.7 97.3L402.9 96L404.2 94.8L405.5 93.7M394.9 132.3L394.2 131.7L393.5 131L393 130.1L392.5 129L392.1 127.9L391.9 126.6L391.7 125.2L391.7 123.7L391.7 122.1L391.9 120.4L392.1 118.6L392.5 116.8L393 115L393.5 113.1L394.2 111.2L394.9 109.4L395.7 107.5L396.6 105.7L397.6 103.9L398.6 102.2L399.7 100.5L400.8 98.9L401.9 97.4L403.1 96.1L404.3 94.8L405.5 93.7M395.8 132.8L395.1 132.2L394.5 131.5L394 130.6L393.6 129.6L393.2 128.5L393 127.2L392.8 125.8L392.8 124.3L392.8 122.7L393 121L393.2 119.2L393.6 117.4L394 115.5L394.5 113.7L395.1 111.7L395.8 109.8L396.5 107.9L397.3 106.1L398.2 104.2L399.2 102.5L400.1 100.8L401.2 99.1L402.2 97.6L403.3 96.2L404.4 94.9L405.5 93.7M396.7 133.2L396 132.7L395.5 132L395 131.1L394.6 130.1L394.3 129L394.1 127.7L394 126.3L394 124.8L394 123.2L394.1 121.5L394.3 119.8L394.6 117.9L395 116.1L395.5 114.1L396 112.2L396.7 110.3L397.3 108.3L398.1 106.4L398.9 104.6L399.7 102.7L400.6 101L401.6 99.3L402.5 97.7L403.5 96.3L404.5 94.9L405.5 93.7M398.2 133.9L397.6 133.6L397 133.1L396.6 132.4L396.1 131.6L395.8 130.6L395.5 129.5L395.3 128.2L395.2 126.8L395.2 125.3L395.2 123.7L395.3 122L395.5 120.3L395.8 118.4L396.1 116.5L396.6 114.6L397 112.6L397.6 110.6L398.2 108.7L398.9 106.7L399.6 104.8L400.3 103L401.1 101.2L402 99.5L402.8 97.9L403.7 96.4L404.6 95L405.5 93.7M399.1 134.2L398.5 133.9L398.1 133.4L397.6 132.8L397.3 132L397 131L396.7 129.9L396.6 128.7L396.5 127.3L396.4 125.8L396.5 124.2L396.6 122.5L396.7 120.7L397 118.8L397.3 116.9L397.6 115L398.1 113L398.5 111L399.1 109L399.7 107L400.3 105.1L401 103.2L401.7 101.4L402.4 99.6L403.2 98L403.9 96.4L404.7 95L405.5 93.7M400 134.5L399.5 134.2L399.1 133.8L398.8 133.1L398.4 132.4L398.2 131.4L398 130.3L397.8 129.1L397.7 127.7L397.7 126.2L397.7 124.6L397.8 122.9L398 121.1L398.2 119.2L398.4 117.3L398.8 115.3L399.1 113.3L399.5 111.3L400 109.3L400.5 107.3L401 105.3L401.6 103.4L402.2 101.6L402.8 99.8L403.5 98.1L404.2 96.5L404.8 95L405.5 93.7M400.9 134.7L400.5 134.5L400.2 134L399.9 133.4L399.6 132.7L399.4 131.7L399.2 130.6L399.1 129.4L399.1 128L399 126.5L399.1 124.9L399.1 123.2L399.2 121.4L399.4 119.5L399.6 117.6L399.9 115.6L400.2 113.6L400.5 111.5L400.9 109.5L401.3 107.5L401.8 105.5L402.3 103.6L402.8 101.7L403.3 99.9L403.8 98.2L404.4 96.6L405 95.1L405.5 93.7M401.9 134.9L401.6 134.7L401.3 134.3L401.1 133.7L400.9 132.9L400.7 132L400.5 130.9L400.4 129.7L400.4 128.3L400.4 126.8L400.4 125.2L400.4 123.5L400.5 121.7L400.7 119.8L400.9 117.8L401.1 115.8L401.3 113.8L401.6 111.8L401.9 109.7L402.2 107.7L402.6 105.7L402.9 103.7L403.3 101.8L403.8 100L404.2 98.3L404.6 96.6L405.1 95.1L405.5 93.7M402.8 135.1L402.6 134.9L402.4 134.4L402.2 133.9L402.1 133.1L402 132.2L401.9 131.1L401.8 129.9L401.8 128.5L401.7 127L401.8 125.4L401.8 123.7L401.9 121.9L402 120L402.1 118L402.2 116L402.4 114L402.6 111.9L402.8 109.9L403.1 107.8L403.4 105.8L403.6 103.8L403.9 101.9L404.2 100.1L404.5 98.3L404.9 96.7L405.2 95.1L405.5 93.7M403.8 135.2L403.7 135L403.6 134.6L403.4 134L403.3 133.2L403.3 132.3L403.2 131.3L403.2 130L403.1 128.7L403.1 127.2L403.1 125.6L403.2 123.8L403.2 122L403.3 120.1L403.3 118.2L403.4 116.2L403.6 114.1L403.7 112L403.8 110L404 107.9L404.1 105.9L404.3 103.9L404.5 102L404.7 100.1L404.9 98.4L405.1 96.7L405.3 95.1L405.5 93.7M404.8 135.3L404.7 135.1L404.7 134.7L404.6 134.1L404.6 133.3L404.6 132.4L404.5 131.3L404.5 130.1L404.5 128.8L404.5 127.3L404.5 125.6L404.5 123.9L404.5 122.1L404.6 120.2L404.6 118.2L404.6 116.2L404.7 114.2L404.7 112.1L404.8 110L404.9 108L404.9 105.9L405 103.9L405.1 102L405.2 100.2L405.3 98.4L405.3 96.7L405.4 95.1L405.5 93.7M405.8 135.3L405.8 135.1L405.8 134.7L405.9 134.1L405.9 133.4L405.9 132.4L405.9 131.4L405.9 130.2L405.9 128.8L405.9 127.3L405.9 125.7L405.9 124L405.9 122.1L405.9 120.2L405.9 118.3L405.9 116.3L405.8 114.2L405.8 112.1L405.8 110.1L405.8 108L405.7 106L405.7 104L405.7 102L405.7 100.2L405.6 98.4L405.6 96.7L405.6 95.1L405.5 93.7M406.8 135.3L406.9 135.1L407 134.7L407.1 134.1L407.1 133.3L407.2 132.4L407.2 131.3L407.3 130.1L407.3 128.8L407.3 127.3L407.3 125.6L407.3 123.9L407.2 122.1L407.2 120.2L407.1 118.2L407.1 116.2L407 114.2L406.9 112.1L406.8 110L406.7 108L406.5 105.9L406.4 103.9L406.3 102L406.1 100.2L406 98.4L405.8 96.7L405.7 95.1L405.5 93.7M407.8 135.2L407.9 135L408.1 134.6L408.3 134L408.4 133.2L408.5 132.3L408.6 131.3L408.6 130L408.7 128.7L408.7 127.2L408.7 125.6L408.6 123.8L408.6 122L408.5 120.1L408.4 118.2L408.3 116.2L408.1 114.1L407.9 112L407.8 110L407.6 107.9L407.3 105.9L407.1 103.9L406.9 102L406.6 100.1L406.3 98.4L406.1 96.7L405.8 95.1L405.5 93.7M408.7 135.1L409 134.9L409.2 134.4L409.4 133.9L409.6 133.1L409.8 132.2L409.9 131.1L410 129.9L410 128.5L410.1 127L410 125.4L410 123.7L409.9 121.9L409.8 120L409.6 118L409.4 116L409.2 114L409 111.9L408.7 109.9L408.4 107.8L408.1 105.8L407.8 103.8L407.4 101.9L407.1 100.1L406.7 98.3L406.3 96.7L405.9 95.1L405.5 93.7M409.7 134.9L410 134.7L410.3 134.3L410.6 133.7L410.9 132.9L411.1 132L411.2 130.9L411.3 129.7L411.4 128.3L411.4 126.8L411.4 125.2L411.3 123.5L411.2 121.7L411.1 119.8L410.9 117.8L410.6 115.8L410.3 113.8L410 111.8L409.7 109.7L409.3 107.7L408.9 105.7L408.5 103.7L408 101.8L407.5 100L407 98.3L406.5 96.6L406 95.1L405.5 93.7M410.6 134.7L411.1 134.5L411.4 134L411.8 133.4L412.1 132.7L412.3 131.7L412.5 130.6L412.6 129.4L412.7 128L412.7 126.5L412.7 124.9L412.6 123.2L412.5 121.4L412.3 119.5L412.1 117.6L411.8 115.6L411.4 113.6L411.1 111.5L410.6 109.5L410.2 107.5L409.7 105.5L409.1 103.6L408.6 101.7L408 99.9L407.4 98.2L406.8 96.6L406.1 95.1L405.5 93.7M411.6 134.5L412.1 134.2L412.5 133.8L412.9 133.1L413.2 132.4L413.5 131.4L413.8 130.3L413.9 129.1L414 127.7L414 126.2L414 124.6L413.9 122.9L413.8 121.1L413.5 119.2L413.2 117.3L412.9 115.3L412.5 113.3L412.1 111.3L411.6 109.3L411 107.3L410.4 105.3L409.8 103.4L409.1 101.6L408.4 99.8L407.7 98.1L407 96.5L406.3 95L405.5 93.7M412.4 134.2L413 133.9L413.5 133.4L414 132.8L414.4 132L414.7 131L415 129.9L415.2 128.7L415.3 127.3L415.3 125.8L415.3 124.2L415.2 122.5L415 120.7L414.7 118.8L414.4 116.9L414 115L413.5 113L413 111L412.4 109L411.8 107L411.1 105.1L410.4 103.2L409.7 101.4L408.9 99.6L408.1 98L407.2 96.4L406.4 95L405.5 93.7M414 133.6L414.6 133.1L415.1 132.4L415.5 131.6L415.9 130.6L416.2 129.5L416.4 128.2L416.5 126.8L416.5 125.3L416.5 123.7L416.4 122L416.2 120.3L415.9 118.4L415.5 116.5L415.1 114.6L414.6 112.6L414 110.6L413.3 108.7L412.6 106.7L411.8 104.8L411 103L410.2 101.2L409.3 99.5L408.4 97.9L407.4 96.4L406.5 95L405.5 93.7" stroke="#000" stroke-width="0.5" stroke-opacity="0.3" fill="none"/>
<path d="M384.5 105L384.5 119M386 101.9L386 122.5M387.4 99.8L387.4 124.9M388.9 98.1L388.9 126.8M390.3 96.7L390.3 128.4M391.8 95.6L391.8 129.7M393.2 94.6L393.2 130.8M394.7 93.8L394.7 131.7M396.1 93.1L396.1 132.5M397.6 92.6L397.6 133.1M399 92.1L399 133.6M400.5 91.8L400.5 134M401.9 91.5L401.9 134.3M403.4 91.3L403.4 134.5M404.8 91.2L404.8 134.6M406.3 91.2L406.3 134.6M407.7 91.3L407.7 134.5M409.2 91.5L409.2 134.3M410.6 91.8L410.6 134M412.1 92.1L412.1 133.6M413.5 92.6L413.5 133.1M415 93.2L415 132.4M416.4 93.8L416.4 131.7M417.9 94.7L417.9 130.7M419.3 95.6L419.3 129.6M420.8 96.8L420.8 128.3M422.2 98.2L422.2 126.8M423.7 99.8L423.7 124.8M425.1 102L425.1 122.4M426.6 105.1L426.6 118.9" stroke="#000" stroke-width="0.6" stroke-opacity="0.26" fill="none"/>
<ellipse cx="405.5" cy="93.7" rx="6.7" ry="3.1" fill="url(#sp20)"/>
<ellipse cx="476.5" cy="117" rx="22.2" ry="23.8" fill="url(#sg21)" stroke="#000" stroke-width="1.0"/>
<ellipse cx="476.5" cy="117" rx="22.2" ry="23.8" fill="url(#sr22)"/>
<path d="M485.9 138.7L486.5 138.2L487.1 137.5L487.6 136.6L488 135.6L488.3 134.5L488.6 133.2L488.7 131.8L488.8 130.3L488.7 128.7L488.6 127L488.3 125.3L488 123.4L487.6 121.6L487.1 119.6L486.5 117.7L485.9 115.8L485.2 113.8L484.4 111.9L483.5 110.1L482.6 108.2L481.7 106.5L480.7 104.8L479.7 103.2L478.7 101.8L477.6 100.4L476.5 99.2M486.8 138.3L487.5 137.7L488.1 137L488.6 136.1L489.1 135.1L489.4 134L489.7 132.7L489.8 131.3L489.9 129.8L489.8 128.2L489.7 126.5L489.4 124.7L489.1 122.9L488.6 121L488.1 119.2L487.5 117.2L486.8 115.3L486 113.4L485.1 111.6L484.2 109.7L483.2 108L482.2 106.3L481.1 104.6L480 103.1L478.9 101.7L477.7 100.4L476.5 99.2M487.6 137.8L488.4 137.2L489 136.5L489.6 135.6L490.1 134.5L490.5 133.4L490.8 132.1L490.9 130.7L491 129.2L490.9 127.6L490.8 125.9L490.5 124.1L490.1 122.3L489.6 120.5L489 118.6L488.4 116.7L487.6 114.9L486.8 113L485.8 111.2L484.8 109.4L483.8 107.7L482.6 106L481.5 104.4L480.3 102.9L479 101.6L477.8 100.3L476.5 99.2M489.2 136.7L489.9 135.9L490.6 135L491.1 133.9L491.5 132.7L491.8 131.4L492 130L492 128.5L492 126.9L491.8 125.3L491.5 123.5L491.1 121.7L490.6 119.9L489.9 118.1L489.2 116.2L488.4 114.4L487.5 112.5L486.5 110.8L485.4 109L484.3 107.3L483.1 105.7L481.8 104.2L480.5 102.8L479.2 101.5L477.9 100.3L476.5 99.2M490 136.1L490.8 135.3L491.4 134.4L492 133.3L492.4 132.1L492.7 130.8L492.9 129.3L493 127.8L492.9 126.2L492.7 124.6L492.4 122.8L492 121.1L491.4 119.3L490.8 117.5L490 115.6L489.1 113.8L488.2 112L487.1 110.3L486 108.6L484.8 107L483.5 105.4L482.2 104L480.8 102.6L479.4 101.3L478 100.2L476.5 99.2M490.8 135.5L491.6 134.7L492.3 133.7L492.8 132.6L493.3 131.4L493.6 130L493.8 128.6L493.9 127.1L493.8 125.5L493.6 123.8L493.3 122.1L492.8 120.4L492.3 118.6L491.6 116.8L490.8 115L489.8 113.3L488.8 111.5L487.7 109.8L486.5 108.2L485.2 106.6L483.9 105.1L482.5 103.7L481 102.4L479.6 101.2L478.1 100.1L476.5 99.2M492.3 134L493 133L493.6 131.8L494.1 130.6L494.4 129.3L494.7 127.8L494.7 126.3L494.7 124.7L494.4 123.1L494.1 121.4L493.6 119.6L493 117.9L492.3 116.1L491.4 114.4L490.5 112.7L489.4 111L488.2 109.3L487 107.7L485.6 106.2L484.2 104.8L482.8 103.4L481.2 102.2L479.7 101.1L478.1 100.1L476.5 99.2M492.9 133.3L493.7 132.2L494.3 131.1L494.8 129.8L495.2 128.5L495.4 127L495.5 125.5L495.4 123.9L495.2 122.3L494.8 120.6L494.3 118.9L493.7 117.1L492.9 115.4L492.1 113.7L491.1 112L489.9 110.4L488.7 108.8L487.4 107.3L486 105.8L484.5 104.4L483 103.2L481.4 102L479.8 100.9L478.2 100L476.5 99.2M494.3 131.5L495 130.3L495.5 129L495.9 127.6L496.1 126.2L496.2 124.6L496.1 123L495.9 121.4L495.5 119.8L495 118.1L494.3 116.4L493.5 114.7L492.6 113L491.6 111.4L490.4 109.8L489.2 108.3L487.8 106.8L486.4 105.4L484.8 104.1L483.3 102.9L481.6 101.8L479.9 100.8L478.3 99.9L476.5 99.2M495.6 129.4L496.1 128.1L496.5 126.7L496.7 125.3L496.8 123.7L496.7 122.2L496.5 120.5L496.1 118.9L495.6 117.2L494.9 115.6L494.1 113.9L493.1 112.3L492.1 110.7L490.9 109.2L489.6 107.7L488.2 106.3L486.7 104.9L485.1 103.7L483.5 102.6L481.8 101.5L480.1 100.6L478.3 99.9L476.5 99.2M496.1 128.6L496.6 127.3L497 125.8L497.2 124.4L497.3 122.8L497.2 121.3L497 119.7L496.6 118L496.1 116.4L495.4 114.8L494.5 113.1L493.6 111.6L492.5 110L491.2 108.5L489.9 107.1L488.5 105.8L486.9 104.5L485.3 103.3L483.6 102.3L481.9 101.3L480.1 100.5L478.4 99.8L476.5 99.2M497 126.4L497.4 124.9L497.7 123.4L497.8 121.9L497.7 120.3L497.4 118.7L497 117.1L496.5 115.5L495.8 113.9L494.9 112.3L493.9 110.8L492.8 109.3L491.6 107.9L490.2 106.5L488.7 105.2L487.2 104L485.5 102.9L483.8 101.9L482 101.1L480.2 100.3L478.4 99.7L476.5 99.2M497.8 124L498.1 122.5L498.1 121L498.1 119.4L497.8 117.8L497.4 116.2L496.8 114.6L496.1 113.1L495.2 111.5L494.2 110L493.1 108.6L491.8 107.2L490.4 105.9L488.9 104.7L487.3 103.5L485.7 102.5L483.9 101.6L482.1 100.8L480.3 100.1L478.4 99.6L476.5 99.2M498.1 123L498.3 121.5L498.4 120L498.3 118.4L498.1 116.8L497.7 115.3L497.1 113.7L496.4 112.2L495.5 110.7L494.5 109.2L493.3 107.8L492 106.5L490.6 105.3L489.1 104.1L487.5 103.1L485.8 102.1L484 101.3L482.2 100.6L480.3 100L478.4 99.5L476.5 99.2M498.5 120.6L498.6 119L498.5 117.5L498.3 115.9L497.9 114.3L497.3 112.8L496.5 111.3L495.7 109.8L494.6 108.4L493.4 107.1L492.1 105.8L490.7 104.6L489.2 103.6L487.6 102.6L485.9 101.7L484.1 100.9L482.3 100.3L480.4 99.8L478.5 99.4L476.5 99.2M498.7 118L498.6 116.5L498.4 114.9L498 113.4L497.4 111.9L496.6 110.4L495.7 109L494.7 107.6L493.5 106.3L492.2 105.1L490.8 104L489.3 103L487.6 102.1L485.9 101.3L484.1 100.6L482.3 100.1L480.4 99.6L478.5 99.4L476.5 99.2M498.7 115.5L498.4 113.9L498 112.4L497.4 110.9L496.7 109.5L495.8 108.1L494.7 106.8L493.5 105.6L492.2 104.4L490.8 103.4L489.3 102.4L487.6 101.6L485.9 100.9L484.1 100.3L482.3 99.8L480.4 99.5L478.5 99.3L476.5 99.2M498.3 113L497.9 111.5L497.3 110L496.6 108.6L495.7 107.3L494.7 106L493.5 104.8L492.2 103.7L490.8 102.7L489.2 101.9L487.6 101.1L485.9 100.5L484.1 99.9L482.3 99.6L480.4 99.3L478.5 99.2L476.5 99.2M498.2 112L497.8 110.5L497.2 109.1L496.5 107.7L495.6 106.4L494.5 105.2L493.4 104.1L492.1 103L490.7 102.1L489.1 101.3L487.5 100.6L485.8 100L484.1 99.6L482.2 99.3L480.4 99.1L478.5 99.1L476.5 99.2M497.5 109.6L497 108.2L496.2 106.8L495.4 105.6L494.3 104.4L493.2 103.3L491.9 102.3L490.5 101.5L489 100.7L487.4 100.1L485.7 99.6L484 99.3L482.2 99L480.3 99L478.4 99L476.5 99.2M496.7 107.3L495.9 105.9L495.1 104.7L494.1 103.6L492.9 102.6L491.7 101.7L490.3 100.9L488.8 100.2L487.2 99.6L485.6 99.2L483.9 98.9L482.1 98.8L480.3 98.8L478.4 98.9L476.5 99.2M495.6 105.1L494.7 103.9L493.7 102.8L492.6 101.8L491.4 101L490 100.2L488.6 99.6L487 99.2L485.4 98.8L483.7 98.6L482 98.5L480.2 98.6L478.4 98.8L476.5 99.2M495.1 104.2L494.3 103.1L493.3 102.1L492.2 101.1L491 100.3L489.7 99.6L488.3 99.1L486.8 98.7L485.2 98.4L483.6 98.3L481.8 98.3L480.1 98.5L478.3 98.8L476.5 99.2M493.8 102.3L492.9 101.3L491.8 100.4L490.6 99.7L489.3 99.1L488 98.6L486.5 98.2L485 98L483.4 98L481.7 98.1L480 98.3L478.3 98.7L476.5 99.2M493.2 101.5L492.3 100.6L491.3 99.8L490.2 99.1L488.9 98.5L487.6 98.1L486.2 97.8L484.7 97.7L483.1 97.7L481.5 97.8L479.9 98.2L478.2 98.6L476.5 99.2M491.7 99.9L490.7 99.1L489.6 98.5L488.5 97.9L487.2 97.6L485.8 97.4L484.4 97.3L482.9 97.4L481.3 97.6L479.8 98L478.2 98.5L476.5 99.2M491.1 99.2L490.1 98.5L489.1 97.9L487.9 97.4L486.7 97.1L485.4 97L484 97L482.6 97.1L481.1 97.4L479.6 97.9L478.1 98.5L476.5 99.2M489.5 97.9L488.5 97.3L487.4 96.9L486.2 96.7L485 96.6L483.7 96.6L482.3 96.8L480.9 97.2L479.5 97.7L478 98.4L476.5 99.2M488.7 97.3L487.8 96.8L486.8 96.4L485.7 96.2L484.5 96.2L483.3 96.3L482 96.6L480.7 97L479.3 97.6L477.9 98.3L476.5 99.2M488 96.8L487.1 96.3L486.1 96L485.1 95.8L484 95.8L482.8 96L481.6 96.3L480.4 96.8L479.1 97.5L477.8 98.3L476.5 99.2M486.3 95.8L485.4 95.6L484.5 95.5L483.5 95.5L482.4 95.7L481.3 96.1L480.1 96.7L478.9 97.4L477.7 98.2L476.5 99.2M485.5 95.4L484.7 95.2L483.8 95.1L482.9 95.2L481.9 95.5L480.9 95.9L479.8 96.5L478.8 97.3L477.7 98.2L476.5 99.2M484.7 95L484 94.8L483.2 94.8L482.3 94.9L481.4 95.2L480.5 95.7L479.5 96.4L478.5 97.2L477.5 98.1L476.5 99.2M483.2 94.5L482.5 94.5L481.7 94.7L480.9 95L480.1 95.6L479.2 96.2L478.3 97.1L477.4 98.1L476.5 99.2M482.4 94.2L481.8 94.3L481.1 94.5L480.4 94.8L479.7 95.4L478.9 96.1L478.1 97L477.3 98L476.5 99.2M481.6 94L481 94L480.4 94.3L479.8 94.7L479.2 95.3L478.6 96L477.9 96.9L477.2 98L476.5 99.2M480.7 93.7L480.3 93.8L479.8 94.1L479.3 94.5L478.8 95.2L478.2 95.9L477.7 96.9L477.1 98L476.5 99.2M479.8 93.6L479.5 93.7L479.1 94L478.7 94.4L478.3 95.1L477.9 95.9L477.4 96.8L477 97.9L476.5 99.2M479 93.4L478.7 93.6L478.4 93.9L478.1 94.3L477.8 95L477.5 95.8L477.2 96.8L476.9 97.9L476.5 99.2M478.1 93.3L477.9 93.5L477.7 93.8L477.6 94.3L477.4 94.9L477.2 95.8L477 96.8L476.7 97.9L476.5 99.2M477.2 93.3L477.1 93.4L477 93.7L477 94.2L476.9 94.9L476.8 95.7L476.7 96.7L476.6 97.9L476.5 99.2M476.3 93.2L476.3 93.4L476.3 93.7L476.4 94.2L476.4 94.9L476.4 95.7L476.5 96.7L476.5 97.9L476.5 99.2M475.4 93.3L475.5 93.4L475.7 93.7L475.8 94.2L475.9 94.9L476.1 95.7L476.2 96.7L476.4 97.9L476.5 99.2M474.5 93.3L474.7 93.5L475 93.8L475.2 94.3L475.5 94.9L475.7 95.8L476 96.8L476.3 97.9L476.5 99.2M473.6 93.4L473.9 93.6L474.3 93.9L474.6 94.3L475 95L475.4 95.8L475.8 96.8L476.1 97.9L476.5 99.2M472.8 93.6L473.2 93.7L473.6 94L474.1 94.4L474.5 95.1L475 95.9L475.5 96.8L476 97.9L476.5 99.2M471.9 93.7L472.4 93.8L472.9 94.1L473.5 94.5L474.1 95.2L474.7 95.9L475.3 96.9L475.9 98L476.5 99.2M471.1 94L471.6 94L472.3 94.3L472.9 94.7L473.6 95.3L474.3 96L475.1 96.9L475.8 98L476.5 99.2M470.2 94.2L470.9 94.3L471.6 94.5L472.4 94.8L473.2 95.4L474 96.1L474.8 97L475.7 98L476.5 99.2M468.7 94.7L469.5 94.5L470.2 94.5L471 94.7L471.9 95L472.8 95.6L473.7 96.2L474.6 97.1L475.6 98.1L476.5 99.2M467.9 95L468.7 94.8L469.5 94.8L470.4 94.9L471.4 95.2L472.4 95.7L473.4 96.4L474.4 97.2L475.5 98.1L476.5 99.2M467.1 95.4L468 95.2L468.9 95.1L469.9 95.2L470.9 95.5L472 95.9L473.1 96.5L474.2 97.3L475.4 98.2L476.5 99.2M466.3 95.8L467.3 95.6L468.3 95.5L469.3 95.5L470.4 95.7L471.6 96.1L472.8 96.7L474 97.4L475.3 98.2L476.5 99.2M464.7 96.8L465.6 96.3L466.6 96L467.7 95.8L468.8 95.8L470 96L471.2 96.3L472.5 96.8L473.9 97.5L475.2 98.3L476.5 99.2M463.9 97.3L464.9 96.8L466 96.4L467.1 96.2L468.3 96.2L469.6 96.3L470.9 96.6L472.3 97L473.7 97.6L475.1 98.3L476.5 99.2M463.3 97.9L464.3 97.3L465.4 96.9L466.6 96.7L467.9 96.6L469.2 96.6L470.6 96.8L472.1 97.2L473.5 97.7L475 98.4L476.5 99.2M461.6 99.2L462.6 98.5L463.7 97.9L464.9 97.4L466.1 97.1L467.4 97L468.9 97L470.3 97.1L471.8 97.4L473.4 97.9L475 98.5L476.5 99.2M461 99.9L462 99.1L463.1 98.5L464.4 97.9L465.7 97.6L467.1 97.4L468.5 97.3L470.1 97.4L471.6 97.6L473.2 98L474.9 98.5L476.5 99.2M459.5 101.5L460.5 100.6L461.5 99.8L462.7 99.1L463.9 98.5L465.3 98.1L466.7 97.8L468.2 97.7L469.8 97.7L471.5 97.8L473.1 98.2L474.8 98.6L476.5 99.2M458.2 103.4L459 102.3L460 101.3L461 100.4L462.2 99.7L463.5 99.1L464.9 98.6L466.4 98.2L468 98L469.6 98L471.3 98.1L473 98.3L474.8 98.7L476.5 99.2M457.7 104.2L458.5 103.1L459.5 102.1L460.6 101.1L461.8 100.3L463.2 99.6L464.6 99.1L466.2 98.7L467.8 98.4L469.4 98.3L471.2 98.3L472.9 98.5L474.7 98.8L476.5 99.2M456.6 106.4L457.3 105.1L458.2 103.9L459.2 102.8L460.3 101.8L461.5 101L462.9 100.2L464.4 99.6L465.9 99.2L467.6 98.8L469.3 98.6L471 98.5L472.9 98.6L474.7 98.8L476.5 99.2M455.7 108.6L456.2 107.3L457 105.9L457.8 104.7L458.9 103.6L460 102.6L461.3 101.7L462.7 100.9L464.2 100.2L465.7 99.6L467.4 99.2L469.2 98.9L471 98.8L472.8 98.8L474.7 98.9L476.5 99.2M455.4 109.6L456 108.2L456.7 106.8L457.6 105.6L458.6 104.4L459.8 103.3L461.1 102.3L462.5 101.5L464 100.7L465.6 100.1L467.3 99.6L469.1 99.3L470.9 99L472.7 99L474.6 99L476.5 99.2M454.8 112L455.2 110.5L455.8 109.1L456.5 107.7L457.4 106.4L458.5 105.2L459.6 104.1L460.9 103L462.4 102.1L463.9 101.3L465.5 100.6L467.2 100L469 99.6L470.8 99.3L472.7 99.1L474.6 99.1L476.5 99.2M454.4 114.5L454.7 113L455.1 111.5L455.7 110L456.4 108.6L457.3 107.3L458.4 106L459.6 104.8L460.9 103.7L462.3 102.7L463.8 101.9L465.5 101.1L467.2 100.5L469 99.9L470.8 99.6L472.7 99.3L474.6 99.2L476.5 99.2M454.3 117L454.4 115.5L454.7 113.9L455.1 112.4L455.7 110.9L456.4 109.5L457.3 108.1L458.4 106.8L459.5 105.6L460.8 104.4L462.3 103.4L463.8 102.4L465.4 101.6L467.2 100.9L468.9 100.3L470.8 99.8L472.7 99.5L474.6 99.3L476.5 99.2M454.5 119.6L454.4 118L454.5 116.5L454.7 114.9L455.2 113.4L455.7 111.9L456.5 110.4L457.4 109L458.4 107.6L459.6 106.3L460.9 105.1L462.3 104L463.8 103L465.5 102.1L467.2 101.3L469 100.6L470.8 100.1L472.7 99.6L474.6 99.4L476.5 99.2M454.7 120.6L454.6 119L454.7 117.5L454.9 115.9L455.3 114.3L455.9 112.8L456.6 111.3L457.5 109.8L458.5 108.4L459.7 107.1L461 105.8L462.4 104.6L463.9 103.6L465.6 102.6L467.3 101.7L469 100.9L470.9 100.3L472.7 99.8L474.6 99.4L476.5 99.2M455.1 123L454.9 121.5L454.8 120L454.9 118.4L455.1 116.8L455.5 115.3L456.1 113.7L456.8 112.2L457.7 110.7L458.7 109.2L459.9 107.8L461.2 106.5L462.6 105.3L464.1 104.1L465.7 103.1L467.4 102.1L469.1 101.3L470.9 100.6L472.8 100L474.6 99.5L476.5 99.2M455.9 125.4L455.5 124L455.2 122.5L455.1 121L455.2 119.4L455.5 117.8L455.9 116.2L456.4 114.6L457.1 113L458 111.5L459 110L460.1 108.6L461.4 107.2L462.8 105.9L464.3 104.7L465.8 103.5L467.5 102.5L469.2 101.6L471 100.8L472.8 100.1L474.7 99.6L476.5 99.2M456.8 127.7L456.3 126.4L455.9 124.9L455.6 123.4L455.5 121.9L455.6 120.3L455.9 118.7L456.3 117.1L456.8 115.5L457.5 113.9L458.4 112.3L459.3 110.8L460.5 109.3L461.7 107.9L463 106.5L464.5 105.2L466 104L467.7 102.9L469.4 101.9L471.1 101.1L472.9 100.3L474.7 99.7L476.5 99.2M457.3 128.6L456.7 127.3L456.4 125.8L456.1 124.4L456 122.8L456.1 121.3L456.4 119.7L456.7 118L457.3 116.4L458 114.8L458.8 113.1L459.8 111.6L460.8 110L462 108.5L463.4 107.1L464.8 105.8L466.3 104.5L467.9 103.3L469.5 102.3L471.2 101.3L473 100.5L474.8 99.8L476.5 99.2M458.5 130.7L457.8 129.4L457.3 128.1L456.9 126.7L456.7 125.3L456.6 123.7L456.7 122.2L456.9 120.5L457.3 118.9L457.8 117.2L458.5 115.6L459.3 113.9L460.2 112.3L461.3 110.7L462.5 109.2L463.7 107.7L465.1 106.3L466.6 104.9L468.1 103.7L469.7 102.6L471.4 101.5L473.1 100.6L474.8 99.9L476.5 99.2M459.1 131.5L458.4 130.3L457.9 129L457.6 127.6L457.3 126.2L457.3 124.6L457.3 123L457.6 121.4L457.9 119.8L458.4 118.1L459.1 116.4L459.9 114.7L460.8 113L461.8 111.4L462.9 109.8L464.2 108.3L465.5 106.8L466.9 105.4L468.4 104.1L470 102.9L471.6 101.8L473.2 100.8L474.9 99.9L476.5 99.2M460.5 133.3L459.7 132.2L459.1 131.1L458.6 129.8L458.3 128.4L458.1 127L458 125.5L458.1 123.9L458.3 122.3L458.6 120.6L459.1 118.9L459.7 117.1L460.5 115.4L461.4 113.7L462.3 112L463.4 110.4L464.6 108.8L465.9 107.3L467.3 105.8L468.7 104.4L470.2 103.2L471.7 102L473.3 100.9L474.9 100L476.5 99.2M461.2 134L460.5 133L459.9 131.8L459.4 130.6L459.1 129.3L458.9 127.8L458.8 126.3L458.9 124.7L459.1 123.1L459.4 121.4L459.9 119.6L460.5 117.9L461.2 116.1L462 114.4L463 112.7L464 111L465.1 109.3L466.4 107.7L467.7 106.2L469 104.8L470.5 103.4L472 102.2L473.5 101.1L475 100.1L476.5 99.2M462.7 135.5L461.9 134.7L461.3 133.7L460.7 132.6L460.3 131.4L459.9 130L459.7 128.6L459.7 127.1L459.7 125.5L459.9 123.8L460.3 122.1L460.7 120.4L461.3 118.6L461.9 116.8L462.7 115L463.6 113.3L464.6 111.5L465.7 109.8L466.9 108.2L468.1 106.6L469.4 105.1L470.8 103.7L472.2 102.4L473.6 101.2L475.1 100.1L476.5 99.2M463.5 136.1L462.8 135.3L462.1 134.4L461.6 133.3L461.2 132.1L460.9 130.8L460.7 129.3L460.6 127.8L460.7 126.2L460.9 124.6L461.2 122.8L461.6 121.1L462.1 119.3L462.8 117.5L463.5 115.6L464.3 113.8L465.3 112L466.3 110.3L467.4 108.6L468.6 107L469.8 105.4L471.1 104L472.4 102.6L473.8 101.3L475.2 100.2L476.5 99.2M464.3 136.7L463.6 135.9L463 135L462.5 133.9L462.1 132.7L461.9 131.4L461.7 130L461.6 128.5L461.7 126.9L461.9 125.2L462.1 123.5L462.5 121.7L463 119.9L463.6 118.1L464.3 116.2L465.1 114.4L466 112.5L467 110.8L468 109L469.1 107.3L470.2 105.7L471.4 104.2L472.7 102.8L474 101.5L475.2 100.3L476.5 99.2M465.9 137.8L465.2 137.2L464.5 136.5L464 135.6L463.5 134.5L463.2 133.4L462.9 132.1L462.7 130.7L462.7 129.2L462.7 127.6L462.9 125.9L463.2 124.1L463.5 122.3L464 120.5L464.5 118.6L465.2 116.7L465.9 114.9L466.7 113L467.6 111.2L468.6 109.4L469.6 107.7L470.7 106L471.8 104.4L473 102.9L474.1 101.6L475.3 100.3L476.5 99.2M466.8 138.3L466.1 137.7L465.5 137L465 136.1L464.6 135.1L464.2 134L464 132.7L463.9 131.3L463.8 129.8L463.9 128.2L464 126.5L464.2 124.7L464.6 122.9L465 121L465.5 119.2L466.1 117.2L466.8 115.3L467.5 113.4L468.4 111.6L469.2 109.7L470.2 108L471.2 106.3L472.2 104.6L473.2 103.1L474.3 101.7L475.4 100.4L476.5 99.2M467.7 138.7L467.1 138.2L466.5 137.5L466.1 136.6L465.7 135.6L465.4 134.5L465.1 133.2L465 131.8L465 130.3L465 128.7L465.1 127L465.4 125.3L465.7 123.4L466.1 121.6L466.5 119.6L467.1 117.7L467.7 115.8L468.4 113.8L469.1 111.9L469.9 110.1L470.8 108.2L471.7 106.5L472.6 104.8L473.5 103.2L474.5 101.8L475.5 100.4L476.5 99.2M469.2 139.4L468.6 139.1L468.1 138.6L467.6 137.9L467.2 137.1L466.8 136.1L466.5 135L466.3 133.7L466.2 132.3L466.2 130.8L466.2 129.2L466.3 127.5L466.5 125.8L466.8 123.9L467.2 122L467.6 120.1L468.1 118.1L468.6 116.1L469.2 114.2L469.9 112.2L470.6 110.3L471.4 108.5L472.2 106.7L473 105L473.9 103.4L474.7 101.9L475.6 100.5L476.5 99.2M470.1 139.7L469.6 139.4L469.1 138.9L468.7 138.3L468.3 137.5L468 136.5L467.7 135.4L467.6 134.2L467.5 132.8L467.4 131.3L467.5 129.7L467.6 128L467.7 126.2L468 124.3L468.3 122.4L468.7 120.5L469.1 118.5L469.6 116.5L470.1 114.5L470.7 112.5L471.3 110.6L472 108.7L472.7 106.9L473.4 105.1L474.2 103.5L475 101.9L475.7 100.5L476.5 99.2M471 140L470.6 139.7L470.1 139.3L469.8 138.6L469.5 137.9L469.2 136.9L469 135.8L468.8 134.6L468.8 133.2L468.7 131.7L468.8 130.1L468.8 128.4L469 126.6L469.2 124.7L469.5 122.8L469.8 120.8L470.1 118.8L470.6 116.8L471 114.8L471.5 112.8L472.1 110.8L472.6 108.9L473.2 107.1L473.9 105.3L474.5 103.6L475.2 102L475.9 100.5L476.5 99.2M471.9 140.2L471.6 140L471.2 139.5L470.9 138.9L470.7 138.2L470.4 137.2L470.3 136.1L470.1 134.9L470.1 133.5L470 132L470.1 130.4L470.1 128.7L470.3 126.9L470.4 125L470.7 123.1L470.9 121.1L471.2 119.1L471.6 117L471.9 115L472.4 113L472.8 111L473.3 109.1L473.8 107.2L474.3 105.4L474.9 103.7L475.4 102.1L476 100.6L476.5 99.2M472.9 140.4L472.6 140.2L472.3 139.8L472.1 139.2L471.9 138.4L471.7 137.5L471.6 136.4L471.5 135.2L471.4 133.8L471.4 132.3L471.4 130.7L471.5 129L471.6 127.2L471.7 125.3L471.9 123.3L472.1 121.3L472.3 119.3L472.6 117.3L472.9 115.2L473.2 113.2L473.6 111.2L474 109.2L474.4 107.3L474.8 105.5L475.2 103.8L475.6 102.1L476.1 100.6L476.5 99.2M473.9 140.6L473.6 140.4L473.4 139.9L473.3 139.4L473.1 138.6L473 137.7L472.9 136.6L472.8 135.4L472.8 134L472.8 132.5L472.8 130.9L472.8 129.2L472.9 127.4L473 125.5L473.1 123.5L473.3 121.5L473.4 119.5L473.6 117.4L473.9 115.4L474.1 113.3L474.4 111.3L474.6 109.3L474.9 107.4L475.2 105.6L475.6 103.8L475.9 102.2L476.2 100.6L476.5 99.2M474.8 140.7L474.7 140.5L474.6 140.1L474.5 139.5L474.4 138.7L474.3 137.8L474.2 136.8L474.2 135.5L474.1 134.2L474.1 132.7L474.1 131.1L474.2 129.3L474.2 127.5L474.3 125.6L474.4 123.7L474.5 121.7L474.6 119.6L474.7 117.5L474.8 115.5L475 113.4L475.2 111.4L475.3 109.4L475.5 107.5L475.7 105.6L475.9 103.9L476.1 102.2L476.3 100.6L476.5 99.2M475.8 140.8L475.8 140.6L475.7 140.2L475.7 139.6L475.6 138.8L475.6 137.9L475.6 136.8L475.5 135.6L475.5 134.3L475.5 132.8L475.5 131.1L475.5 129.4L475.6 127.6L475.6 125.7L475.6 123.7L475.7 121.7L475.7 119.7L475.8 117.6L475.8 115.5L475.9 113.5L476 111.4L476 109.4L476.1 107.5L476.2 105.7L476.3 103.9L476.4 102.2L476.5 100.6L476.5 99.2M476.8 140.8L476.8 140.6L476.9 140.2L476.9 139.6L476.9 138.9L476.9 137.9L476.9 136.9L476.9 135.7L476.9 134.3L476.9 132.8L476.9 131.2L476.9 129.5L476.9 127.6L476.9 125.7L476.9 123.8L476.9 121.8L476.9 119.7L476.8 117.6L476.8 115.6L476.8 113.5L476.8 111.5L476.7 109.5L476.7 107.5L476.7 105.7L476.6 103.9L476.6 102.2L476.6 100.6L476.5 99.2M477.8 140.8L477.9 140.6L478 140.2L478.1 139.6L478.2 138.8L478.2 137.9L478.3 136.8L478.3 135.6L478.3 134.3L478.3 132.8L478.3 131.1L478.3 129.4L478.3 127.6L478.2 125.7L478.2 123.7L478.1 121.7L478 119.7L477.9 117.6L477.8 115.5L477.7 113.5L477.6 111.4L477.4 109.4L477.3 107.5L477.1 105.7L477 103.9L476.8 102.2L476.7 100.6L476.5 99.2M478.8 140.7L479 140.5L479.1 140.1L479.3 139.5L479.4 138.7L479.5 137.8L479.6 136.8L479.7 135.5L479.7 134.2L479.7 132.7L479.7 131.1L479.7 129.3L479.6 127.5L479.5 125.6L479.4 123.7L479.3 121.7L479.1 119.6L479 117.5L478.8 115.5L478.6 113.4L478.4 111.4L478.1 109.4L477.9 107.5L477.6 105.6L477.4 103.9L477.1 102.2L476.8 100.6L476.5 99.2M479.7 140.6L480 140.4L480.3 139.9L480.5 139.4L480.7 138.6L480.8 137.7L480.9 136.6L481 135.4L481.1 134L481.1 132.5L481.1 130.9L481 129.2L480.9 127.4L480.8 125.5L480.7 123.5L480.5 121.5L480.3 119.5L480 117.4L479.7 115.4L479.5 113.3L479.1 111.3L478.8 109.3L478.5 107.4L478.1 105.6L477.7 103.8L477.3 102.2L476.9 100.6L476.5 99.2M480.7 140.4L481.1 140.2L481.4 139.8L481.6 139.2L481.9 138.4L482.1 137.5L482.2 136.4L482.3 135.2L482.4 133.8L482.4 132.3L482.4 130.7L482.3 129L482.2 127.2L482.1 125.3L481.9 123.3L481.6 121.3L481.4 119.3L481.1 117.3L480.7 115.2L480.3 113.2L479.9 111.2L479.5 109.2L479 107.3L478.6 105.5L478.1 103.8L477.6 102.1L477.1 100.6L476.5 99.2M481.6 140.2L482.1 140L482.5 139.5L482.8 138.9L483.1 138.2L483.3 137.2L483.5 136.1L483.7 134.9L483.7 133.5L483.8 132L483.7 130.4L483.7 128.7L483.5 126.9L483.3 125L483.1 123.1L482.8 121.1L482.5 119.1L482.1 117L481.6 115L481.2 113L480.7 111L480.2 109.1L479.6 107.2L479 105.4L478.4 103.7L477.8 102.1L477.2 100.6L476.5 99.2M482.6 140L483.1 139.7L483.5 139.3L483.9 138.6L484.3 137.9L484.6 136.9L484.8 135.8L484.9 134.6L485 133.2L485.1 131.7L485 130.1L484.9 128.4L484.8 126.6L484.6 124.7L484.3 122.8L483.9 120.8L483.5 118.8L483.1 116.8L482.6 114.8L482 112.8L481.4 110.8L480.8 108.9L480.1 107.1L479.5 105.3L478.7 103.6L478 102L477.3 100.5L476.5 99.2M483.5 139.7L484 139.4L484.6 138.9L485 138.3L485.4 137.5L485.7 136.5L486 135.4L486.2 134.2L486.3 132.8L486.3 131.3L486.3 129.7L486.2 128L486 126.2L485.7 124.3L485.4 122.4L485 120.5L484.6 118.5L484 116.5L483.5 114.5L482.8 112.5L482.2 110.6L481.4 108.7L480.7 106.9L479.9 105.1L479.1 103.5L478.2 101.9L477.4 100.5L476.5 99.2M485 139.1L485.6 138.6L486.1 137.9L486.5 137.1L486.9 136.1L487.2 135L487.4 133.7L487.5 132.3L487.6 130.8L487.5 129.2L487.4 127.5L487.2 125.8L486.9 123.9L486.5 122L486.1 120.1L485.6 118.1L485 116.1L484.3 114.2L483.6 112.2L482.9 110.3L482.1 108.5L481.2 106.7L480.3 105L479.4 103.4L478.5 101.9L477.5 100.5L476.5 99.2" stroke="#000" stroke-width="0.5" stroke-opacity="0.3" fill="none"/>
<path d="M455.5 110.5L455.5 124.5M457 107.4L457 128M458.4 105.3L458.4 130.4M459.9 103.6L459.9 132.3M461.3 102.2L461.3 133.9M462.8 101.1L462.8 135.2M464.2 100.1L464.2 136.3M465.7 99.3L465.7 137.2M467.1 98.6L467.1 138M468.6 98.1L468.6 138.6M470 97.6L470 139.1M471.5 97.3L471.5 139.5M472.9 97L472.9 139.8M474.4 96.8L474.4 140M475.8 96.7L475.8 140.1M477.3 96.7L477.3 140.1M478.7 96.8L478.7 140M480.2 97L480.2 139.8M481.6 97.3L481.6 139.5M483.1 97.6L483.1 139.1M484.5 98.1L484.5 138.6M486 98.7L486 137.9M487.4 99.3L487.4 137.2M488.9 100.2L488.9 136.2M490.3 101.1L490.3 135.1M491.8 102.3L491.8 133.8M493.2 103.7L493.2 132.3M494.7 105.3L494.7 130.3M496.1 107.5L496.1 127.9M497.6 110.6L497.6 124.4" stroke="#000" stroke-width="0.6" stroke-opacity="0.26" fill="none"/>
<ellipse cx="476.5" cy="99.2" rx="6.7" ry="3.1" fill="url(#sp23)"/>
<path d="M448.6 112.6L428.5 142.4L428.2 142.7L428 143.1L427.8 143.5L427.6 143.9L427.4 144.3L427.2 144.7L427.1 145.1L426.9 145.5L426.8 145.9L426.7 146.3L426.6 146.7L426.5 147.1L426.5 147.5L426.4 147.9L426.4 148.3L426.4 148.7L426.4 149.1L426.4 149.5L426.4 150L426.4 150.4L426.5 150.8L426.6 151.2L426.7 151.6L426.8 152L426.9 152.4L427 152.8L427.2 153.2L427.3 153.6L427.5 154L427.7 154.4L427.9 154.8L428.1 155.2L428.4 155.6L428.6 155.9L428.9 156.3L429.1 156.7L429.4 157L429.7 157.4L430 157.7L430.4 158.1L430.7 158.4L431.1 158.8L431.4 159.1L431.8 159.4L432.2 159.7L432.6 160L433 160.3L433.4 160.6L433.8 160.9L434.3 161.2L434.7 161.4L435.2 161.7L435.7 161.9L436.1 162.2L436.6 162.4L437.1 162.6L437.6 162.9L438.1 163.1L438.7 163.3L439.2 163.4L439.7 163.6L440.3 163.8L440.8 163.9L441.3 164.1L441.9 164.2L442.5 164.4L443 164.5L443.6 164.6L444.2 164.7L444.7 164.8L445.3 164.8L445.9 164.9L446.5 164.9L447 165L447.6 165L448.2 165L448.8 165.1L449.4 165.1L450 165L450.5 165L451.1 165L451.7 164.9L452.3 164.9L452.8 164.8L453.4 164.7L454 164.7L454.6 164.6L455.1 164.4L455.7 164.3L456.2 164.2L456.8 164.1L457.3 163.9L457.8 163.8L458.4 163.6L458.9 163.4L459.4 163.2L459.9 163L460.4 162.8L460.9 162.6L461.4 162.4L461.9 162.1L462.3 161.9L462.8 161.6L463.2 161.4L463.7 161.1L464.1 160.8L464.5 160.6L464.9 160.3L465.3 160L465.7 159.7L466 159.3L466.4 159L466.8 158.7L467.1 158.4L467.4 158L467.7 157.7L468 157.3L468.3 157L468.6 156.6L468.8 156.2L469.1 155.9L469.3 155.5L469.5 155.1L469.7 154.7L469.9 154.3L470 153.9L470.2 153.5L470.3 153.1L470.5 152.7L470.6 152.3L470.7 151.9L470.7 151.5L470.8 151.1L470.9 150.7L470.9 150.3L470.9 149.9L470.9 149.5L470.9 149.1L470.9 148.6L470.8 148.2L470.8 147.8L470.7 147.4L470.6 147L470.5 146.6L470.4 146.2L470.3 145.8L470.1 145.4L470 145L469.8 144.6L469.6 144.2L469.4 143.8L469.2 143.4L468.9 143Z" fill="url(#kg24)" stroke="#0a0a30" stroke-width="0.7" stroke-linejoin="round"/>
<path d="M448.6 112.6L460.9 162.6M448.6 112.6L462.5 161.8M448.6 112.6L463.9 160.9M448.6 112.6L465.3 160M448.6 112.6L466.5 158.9M448.6 112.6L467.6 157.8M448.6 112.6L468.6 156.6M448.6 112.6L469.4 155.4M448.6 112.6L470 154.1M448.6 112.6L470.5 152.7M448.6 112.6L470.8 151.4M448.6 112.6L470.9 150M448.6 112.6L470.9 148.6M448.6 112.6L470.7 147.3M448.6 112.6L470.3 145.9M448.6 112.6L469.8 144.6M448.6 112.6L469.1 143.3M448.6 112.6L427.9 143.2M448.6 112.6L427.3 144.5M448.6 112.6L426.8 145.9M448.6 112.6L426.5 147.2M448.6 112.6L426.4 148.6M448.6 112.6L426.4 150M448.6 112.6L426.6 151.3M448.6 112.6L427 152.7M448.6 112.6L427.5 154M448.6 112.6L428.2 155.3M448.6 112.6L429 156.5M448.6 112.6L430 157.7M448.6 112.6L431.2 158.9M448.6 112.6L432.5 159.9M448.6 112.6L433.8 160.9M448.6 112.6L435.4 161.8M448.6 112.6L437 162.6M448.6 112.6L438.7 163.3M448.6 112.6L440.4 163.8M448.6 112.6L442.3 164.3M448.6 112.6L444.2 164.7M448.6 112.6L446.1 164.9M448.6 112.6L448 165M448.6 112.6L450 165M448.6 112.6L451.9 164.9M448.6 112.6L453.8 164.7M448.6 112.6L455.7 164.3M448.6 112.6L457.5 163.9M448.6 112.6L459.2 163.3M447.7 113.9L447.7 114.4L448 114.8L448.6 114.9L449.3 114.8L449.6 114.4L449.6 113.9M446.8 115.3L446.7 116.2L447.4 117L448.6 117.3L449.9 117L450.6 116.3L450.5 115.3M445.9 116.6L445.7 118L446.7 119.2L448.6 119.7L450.5 119.3L451.6 118.1L451.4 116.7M445 118L444.6 119.6L445.6 121.1L447.5 122L449.8 122L451.7 121.2L452.6 119.7L452.3 118.1M444.1 119.3L443.6 120.9L444.1 122.4L445.5 123.7L447.5 124.4L449.7 124.4L451.7 123.8L453.2 122.6L453.7 121L453.3 119.5M443.1 120.7L442.6 122.3L443 124L444.3 125.5L446.2 126.5L448.6 126.9L451 126.6L453 125.6L454.3 124.2L454.7 122.5L454.2 120.9M442.2 122L441.6 123.6L441.7 125.3L442.6 126.8L444.2 128.1L446.3 128.9L448.6 129.3L450.9 129L453 128.3L454.6 127L455.5 125.5L455.7 123.9L455.1 122.3M441.3 123.4L440.6 124.9L440.6 126.6L441.2 128.2L442.5 129.6L444.2 130.7L446.3 131.4L448.6 131.6L450.9 131.4L453 130.8L454.7 129.8L456 128.4L456.7 126.8L456.7 125.2L456 123.6M440.4 124.7L439.7 126.3L439.5 127.9L440 129.5L440.9 130.9L442.4 132.2L444.2 133.2L446.3 133.8L448.6 134L450.8 133.9L453 133.3L454.8 132.4L456.3 131.2L457.3 129.7L457.7 128.2L457.6 126.6L456.9 125M439.5 126.1L438.7 127.6L438.5 129.2L438.8 130.8L439.5 132.3L440.7 133.6L442.3 134.8L444.2 135.6L446.3 136.2L448.6 136.4L450.8 136.3L452.9 135.8L454.9 135L456.5 133.9L457.7 132.6L458.5 131.1L458.8 129.5L458.6 127.9L457.9 126.4M438.6 127.5L437.8 128.9L437.5 130.5L437.6 132.1L438.2 133.6L439.2 135L440.6 136.3L442.3 137.3L444.2 138.1L446.4 138.6L448.6 138.8L450.8 138.7L452.9 138.2L454.9 137.5L456.6 136.5L458 135.3L459 133.9L459.6 132.4L459.8 130.9L459.5 129.3L458.8 127.8M437.6 128.8L436.9 130.3L436.5 132L436.6 133.6L437.1 135.2L438.1 136.7L439.4 138.1L441.1 139.2L443 140.1L445.1 140.8L447.4 141.1L449.7 141.2L452 140.9L454.1 140.3L456.1 139.5L457.8 138.4L459.1 137.1L460.1 135.6L460.7 134L460.8 132.4L460.5 130.7L459.7 129.2M436.7 130.2L435.9 131.7L435.5 133.3L435.5 134.9L435.9 136.5L436.7 138L437.8 139.4L439.3 140.7L441 141.8L443 142.6L445.2 143.2L447.4 143.5L449.7 143.6L452 143.3L454.1 142.8L456.1 142L457.9 141L459.4 139.8L460.5 138.4L461.3 136.9L461.7 135.3L461.8 133.7L461.4 132.1L460.6 130.6M435.8 131.5L435 133L434.6 134.6L434.5 136.2L434.8 137.8L435.4 139.3L436.4 140.8L437.6 142.1L439.2 143.3L441 144.3L443 145.1L445.2 145.6L447.4 145.9L449.7 145.9L451.9 145.7L454.1 145.3L456.1 144.5L457.9 143.6L459.5 142.5L460.8 141.2L461.8 139.8L462.5 138.2L462.8 136.7L462.7 135.1L462.3 133.5L461.6 132M434.9 132.9L434.1 134.4L433.6 135.9L433.5 137.5L433.6 139.1L434.1 140.6L435 142.1L436.1 143.5L437.5 144.8L439.2 145.9L441 146.8L443 147.5L445.2 148L447.4 148.3L449.7 148.3L451.9 148.1L454.1 147.7L456.1 147.1L458 146.2L459.6 145.1L461.1 143.9L462.2 142.6L463.1 141.1L463.6 139.6L463.8 138L463.7 136.4L463.2 134.8L462.5 133.3M434 134.2L433.2 135.7L432.7 137.2L432.4 138.8L432.5 140.4L433 141.9L433.7 143.5L434.6 144.9L435.9 146.2L437.4 147.4L439.1 148.4L441 149.3L443.1 150L445.2 150.4L447.4 150.7L449.7 150.7L451.9 150.5L454 150.1L456.1 149.5L458 148.7L459.7 147.8L461.2 146.6L462.5 145.3L463.5 144L464.3 142.5L464.7 140.9L464.8 139.3L464.7 137.8L464.2 136.2L463.4 134.7M433.1 135.6L432.2 137.1L431.7 138.7L431.4 140.3L431.5 141.9L431.9 143.5L432.5 145.1L433.5 146.6L434.7 147.9L436.2 149.2L437.9 150.3L439.8 151.3L441.8 152L444 152.6L446.2 153L448.5 153.1L450.8 153L453.1 152.8L455.3 152.3L457.3 151.6L459.2 150.7L460.9 149.6L462.4 148.4L463.7 147.1L464.7 145.6L465.4 144.1L465.8 142.5L465.8 140.9L465.6 139.2L465.1 137.6L464.3 136.1M432.1 136.9L431.3 138.4L430.7 140L430.4 141.6L430.4 143.2L430.7 144.8L431.3 146.4L432.1 147.9L433.2 149.3L434.6 150.6L436.1 151.8L437.9 152.9L439.8 153.8L441.8 154.5L444 155L446.3 155.4L448.5 155.5L450.8 155.4L453 155.2L455.2 154.7L457.3 154.1L459.2 153.2L461 152.2L462.6 151.1L463.9 149.8L465 148.4L465.9 146.9L466.5 145.4L466.8 143.8L466.8 142.2L466.6 140.6L466 139L465.2 137.5M431.2 138.3L430.4 139.8L429.8 141.3L429.5 142.9L429.4 144.5L429.6 146.1L430.1 147.7L430.8 149.2L431.8 150.7L433 152L434.4 153.3L436.1 154.4L437.9 155.4L439.8 156.3L441.9 156.9L444 157.4L446.3 157.8L448.5 157.9L450.8 157.8L453 157.6L455.2 157.2L457.3 156.6L459.2 155.8L461 154.8L462.7 153.8L464.1 152.5L465.4 151.2L466.4 149.8L467.1 148.3L467.6 146.7L467.9 145.1L467.8 143.5L467.5 142L467 140.4L466.2 138.9M430.3 139.7L429.5 141.1L428.9 142.7L428.5 144.2L428.4 145.8L428.5 147.4L428.9 149L429.6 150.5L430.4 152L431.5 153.4L432.8 154.7L434.3 155.9L436 157L437.8 157.9L439.8 158.7L441.9 159.4L444 159.8L446.3 160.1L448.5 160.3L450.8 160.2L453 160L455.2 159.6L457.2 159L459.2 158.3L461.1 157.4L462.8 156.4L464.3 155.2L465.6 154L466.7 152.6L467.6 151.1L468.3 149.6L468.7 148.1L468.9 146.5L468.8 144.9L468.5 143.3L467.9 141.8L467.1 140.3M429.4 141L428.5 142.5L427.9 144L427.5 145.5L427.4 147.1L427.5 148.7L427.8 150.3L428.3 151.8L429.1 153.3L430.1 154.7L431.3 156.1L432.7 157.4L434.2 158.5L436 159.5L437.8 160.4L439.8 161.2L441.9 161.8L444.1 162.3L446.3 162.5L448.5 162.7L450.7 162.6L453 162.4L455.1 162L457.2 161.5L459.2 160.8L461.1 160L462.8 159L464.4 157.9L465.8 156.7L467.1 155.4L468.1 154L468.9 152.5L469.5 151L469.8 149.4L469.9 147.8L469.8 146.2L469.4 144.7L468.8 143.1L468 141.7" stroke="#000" stroke-width="0.55" stroke-opacity="0.5" fill="none"/>
<path d="M352.5 88.9L353.4 89L355.1 89.3L357.7 89.7L361.2 90.3L364.5 90.6L367.6 90.6L370.5 90.4L373.2 90L375.9 89.7L378.7 89.5L381.4 89.6L384.1 89.7L387.1 89.6L390.2 89.3L393.6 88.6L397.3 87.8L400.7 87.1L403.8 86.8L406.8 86.8L409.5 87.1L412.5 87.4L415.7 87.9L419.1 88.4L422.7 89.1L426.4 89.5L430 89.8L433.6 90L437.3 90L440.9 89.8L444.5 89.5L448.2 89.1L451.8 88.4L455.1 88.1L458.1 88.1L460.7 88.4L463 89.1L465.3 89.7L467.5 90.3L469.8 90.9L472.1 91.6L474.5 92.2L477 92.8L479.6 93.3L482.3 93.9L485 94.8L487.8 96.1L490.5 97.7L493.2 99.7L495.9 101.8L498.7 103.9L501.4 106.1L504.1 108.4L506.7 110.4L509 112.3L511.2 113.9L513.2 115.2L514.7 116.3L515.7 117L516.2 117.3" stroke="#f01010" stroke-width="1.45" fill="none" stroke-linejoin="round" stroke-linecap="round"/>
<circle cx="352.6" cy="88.9" r="2.5" fill="#19e0e6" stroke="#18a0b4" stroke-width="0.8"/>
<circle cx="516" cy="117" r="2.5" fill="#f018f0" stroke="#9a2ab0" stroke-width="0.8"/>
<text x="356.3" y="91.3" font-size="6.1" text-anchor="start" fill="#262626" font-family="'Liberation Sans',Arial,sans-serif" stroke="#262626" stroke-width="0.18">Start</text>
<text x="519.8" y="119.5" font-size="6.1" text-anchor="start" fill="#262626" font-family="'Liberation Sans',Arial,sans-serif" stroke="#262626" stroke-width="0.18">Target</text>
<g>
<path d="M61 254.3L61 420.9" stroke="#e4e4e4" stroke-width="0.6" fill="none"/>
<path d="M94.3 254.3L94.3 420.9" stroke="#e4e4e4" stroke-width="0.6" fill="none"/>
<path d="M127.7 254.3L127.7 420.9" stroke="#e4e4e4" stroke-width="0.6" fill="none"/>
<path d="M161 254.3L161 420.9" stroke="#e4e4e4" stroke-width="0.6" fill="none"/>
<path d="M194.3 254.3L194.3 420.9" stroke="#e4e4e4" stroke-width="0.6" fill="none"/>
<path d="M27.7 254.3L219.3 254.3" stroke="#e4e4e4" stroke-width="0.6" fill="none"/>
<path d="M27.7 271L219.3 271" stroke="#e4e4e4" stroke-width="0.6" fill="none"/>
<path d="M27.7 287.6L219.3 287.6" stroke="#e4e4e4" stroke-width="0.6" fill="none"/>
<path d="M27.7 304.3L219.3 304.3" stroke="#e4e4e4" stroke-width="0.6" fill="none"/>
<path d="M27.7 320.9L219.3 320.9" stroke="#e4e4e4" stroke-width="0.6" fill="none"/>
<path d="M27.7 337.6L219.3 337.6" stroke="#e4e4e4" stroke-width="0.6" fill="none"/>
<path d="M27.7 354.3L219.3 354.3" stroke="#e4e4e4" stroke-width="0.6" fill="none"/>
<path d="M27.7 370.9L219.3 370.9" stroke="#e4e4e4" stroke-width="0.6" fill="none"/>
<path d="M27.7 387.6L219.3 387.6" stroke="#e4e4e4" stroke-width="0.6" fill="none"/>
<path d="M27.7 404.2L219.3 404.2" stroke="#e4e4e4" stroke-width="0.6" fill="none"/>
<path d="M27.7 254.3L27.7 420.9" stroke="#484848" stroke-width="0.8" fill="none"/>
<path d="M27.7 420.9L219.3 420.9" stroke="#484848" stroke-width="0.8" fill="none"/>
<path d="M27.7 420.9L27.7 423.5" stroke="#484848" stroke-width="0.7" fill="none"/>
<text x="27.7" y="437.9" font-size="6.9" text-anchor="middle" fill="#262626" font-family="'Liberation Sans',Arial,sans-serif" stroke="#262626" stroke-width="0.18">0</text>
<path d="M61 420.9L61 423.5" stroke="#484848" stroke-width="0.7" fill="none"/>
<text x="61" y="437.9" font-size="6.9" text-anchor="middle" fill="#262626" font-family="'Liberation Sans',Arial,sans-serif" stroke="#262626" stroke-width="0.18">2</text>
<path d="M94.3 420.9L94.3 423.5" stroke="#484848" stroke-width="0.7" fill="none"/>
<text x="94.3" y="437.9" font-size="6.9" text-anchor="middle" fill="#262626" font-family="'Liberation Sans',Arial,sans-serif" stroke="#262626" stroke-width="0.18">4</text>
<path d="M127.7 420.9L127.7 423.5" stroke="#484848" stroke-width="0.7" fill="none"/>
<text x="127.7" y="437.9" font-size="6.9" text-anchor="middle" fill="#262626" font-family="'Liberation Sans',Arial,sans-serif" stroke="#262626" stroke-width="0.18">6</text>
<path d="M161 420.9L161 423.5" stroke="#484848" stroke-width="0.7" fill="none"/>
<text x="161" y="437.9" font-size="6.9" text-anchor="middle" fill="#262626" font-family="'Liberation Sans',Arial,sans-serif" stroke="#262626" stroke-width="0.18">8</text>
<path d="M194.3 420.9L194.3 423.5" stroke="#484848" stroke-width="0.7" fill="none"/>
<text x="194.3" y="437.9" font-size="6.9" text-anchor="middle" fill="#262626" font-family="'Liberation Sans',Arial,sans-serif" stroke="#262626" stroke-width="0.18">10</text>
<path d="M27.7 254.3L25.1 254.3" stroke="#484848" stroke-width="0.7" fill="none"/>
<text x="20.7" y="256.8" font-size="6.9" text-anchor="end" fill="#262626" font-family="'Liberation Sans',Arial,sans-serif" stroke="#262626" stroke-width="0.18">0</text>
<path d="M27.7 271L25.1 271" stroke="#484848" stroke-width="0.7" fill="none"/>
<text x="20.7" y="273.4" font-size="6.9" text-anchor="end" fill="#262626" font-family="'Liberation Sans',Arial,sans-serif" stroke="#262626" stroke-width="0.18">1</text>
<path d="M27.7 287.6L25.1 287.6" stroke="#484848" stroke-width="0.7" fill="none"/>
<text x="20.7" y="290.1" font-size="6.9" text-anchor="end" fill="#262626" font-family="'Liberation Sans',Arial,sans-serif" stroke="#262626" stroke-width="0.18">2</text>
<path d="M27.7 304.3L25.1 304.3" stroke="#484848" stroke-width="0.7" fill="none"/>
<text x="20.7" y="306.8" font-size="6.9" text-anchor="end" fill="#262626" font-family="'Liberation Sans',Arial,sans-serif" stroke="#262626" stroke-width="0.18">3</text>
<path d="M27.7 320.9L25.1 320.9" stroke="#484848" stroke-width="0.7" fill="none"/>
<text x="20.7" y="323.4" font-size="6.9" text-anchor="end" fill="#262626" font-family="'Liberation Sans',Arial,sans-serif" stroke="#262626" stroke-width="0.18">4</text>
<path d="M27.7 337.6L25.1 337.6" stroke="#484848" stroke-width="0.7" fill="none"/>
<text x="20.7" y="340.1" font-size="6.9" text-anchor="end" fill="#262626" font-family="'Liberation Sans',Arial,sans-serif" stroke="#262626" stroke-width="0.18">5</text>
<path d="M27.7 354.3L25.1 354.3" stroke="#484848" stroke-width="0.7" fill="none"/>
<text x="20.7" y="356.7" font-size="6.9" text-anchor="end" fill="#262626" font-family="'Liberation Sans',Arial,sans-serif" stroke="#262626" stroke-width="0.18">6</text>
<path d="M27.7 370.9L25.1 370.9" stroke="#484848" stroke-width="0.7" fill="none"/>
<text x="20.7" y="373.4" font-size="6.9" text-anchor="end" fill="#262626" font-family="'Liberation Sans',Arial,sans-serif" stroke="#262626" stroke-width="0.18">7</text>
<path d="M27.7 387.6L25.1 387.6" stroke="#484848" stroke-width="0.7" fill="none"/>
<text x="20.7" y="390.1" font-size="6.9" text-anchor="end" fill="#262626" font-family="'Liberation Sans',Arial,sans-serif" stroke="#262626" stroke-width="0.18">8</text>
<path d="M27.7 404.2L25.1 404.2" stroke="#484848" stroke-width="0.7" fill="none"/>
<text x="20.7" y="406.7" font-size="6.9" text-anchor="end" fill="#262626" font-family="'Liberation Sans',Arial,sans-serif" stroke="#262626" stroke-width="0.18">9</text>
<path d="M27.7 420.9L25.1 420.9" stroke="#484848" stroke-width="0.7" fill="none"/>
<text x="20.7" y="423.4" font-size="6.9" text-anchor="end" fill="#262626" font-family="'Liberation Sans',Arial,sans-serif" stroke="#262626" stroke-width="0.18">10</text>
<text x="105.4" y="444.4" font-size="7.4" text-anchor="middle" fill="#262626" font-family="'Liberation Sans',Arial,sans-serif" stroke="#262626" stroke-width="0.18">y(km)</text>
<text x="0" y="0" font-size="7.4" text-anchor="middle" fill="#262626" font-family="'Liberation Sans',Arial,sans-serif" stroke="#262626" stroke-width="0.18" transform="translate(6.8 337.6) rotate(-90)">x(km)</text>
<text x="123.6" y="251.3" font-size="7.2" text-anchor="middle" fill="#262626" font-family="'Liberation Sans',Arial,sans-serif" stroke="#262626" stroke-width="0.18">RRT</text>
</g>
<g>
<ellipse cx="110.6" cy="286.8" rx="32.9" ry="32.9" fill="url(#rs25)" stroke="#000" stroke-width="1"/>
<g mask="url(#mk26)">
<path d="M118.8 287.2L143 288.2M118.7 287.9L142.7 291M118.6 288.6L142.2 293.8M118.4 289.3L141.5 296.5M118.1 289.9L140.5 299.2M117.8 290.6L139.3 301.8M117.5 291.2L137.9 304.2M117.1 291.8L136.3 306.5M116.6 292.3L134.5 308.7M116.1 292.8L132.5 310.7M115.6 293.3L130.3 312.5M115 293.7L128 314.1M114.4 294L125.6 315.5M113.7 294.3L123 316.7M113.1 294.6L120.3 317.7M112.4 294.8L117.6 318.4M111.7 294.9L114.8 318.9M111 295L112 319.2M110.2 295L109.2 319.2M109.5 294.9L106.4 318.9M108.8 294.8L103.6 318.4M108.1 294.6L100.9 317.7M107.5 294.3L98.2 316.7M106.8 294L95.6 315.5M106.2 293.7L93.2 314.1M105.6 293.3L90.9 312.5M105.1 292.8L88.7 310.7M104.6 292.3L86.7 308.7M104.1 291.8L84.9 306.5M103.7 291.2L83.3 304.2M103.4 290.6L81.9 301.8M103.1 289.9L80.7 299.2M102.8 289.3L79.7 296.5M102.6 288.6L79 293.8M102.5 287.9L78.5 291M102.4 287.2L78.2 288.2M102.4 286.4L78.2 285.4M102.5 285.7L78.5 282.6M102.6 285L79 279.8M102.8 284.3L79.7 277.1M103.1 283.7L80.7 274.4M103.4 283L81.9 271.8M103.7 282.4L83.3 269.4M104.1 281.8L84.9 267.1M104.6 281.3L86.7 264.9M105.1 280.8L88.7 262.9M105.6 280.3L90.9 261.1M106.2 279.9L93.2 259.5M106.8 279.6L95.6 258.1M107.5 279.3L98.2 256.9M108.1 279L100.9 255.9M108.8 278.8L103.6 255.2M109.5 278.7L106.4 254.7M110.2 278.6L109.2 254.4M111 278.6L112 254.4M111.7 278.7L114.8 254.7M112.4 278.8L117.6 255.2M113.1 279L120.3 255.9M113.7 279.3L123 256.9M114.4 279.6L125.6 258.1M115 279.9L128 259.5M115.6 280.3L130.3 261.1M116.1 280.8L132.5 262.9M116.6 281.3L134.5 264.9M117.1 281.8L136.3 267.1M117.5 282.4L137.9 269.4M117.8 283L139.3 271.8M118.1 283.7L140.5 274.4M118.4 284.3L141.5 277.1M118.6 285L142.2 279.8M118.7 285.7L142.7 282.6M118.8 286.4L143 285.4" stroke="#000" stroke-width="0.7" stroke-opacity="0.55" fill="none"/>
</g>
<ellipse cx="77.6" cy="320.6" rx="32.8" ry="32.8" fill="url(#rs28)" stroke="#000" stroke-width="1"/>
<g mask="url(#mk29)">
<path d="M85.7 321L109.9 322M85.7 321.7L109.6 324.8M85.5 322.4L109.1 327.6M85.4 323L108.4 330.3M85.1 323.7L107.4 333M84.8 324.4L106.3 335.5M84.5 325L104.8 338M84.1 325.6L103.2 340.3M83.6 326.1L101.4 342.4M83.1 326.6L99.4 344.4M82.6 327.1L97.3 346.2M82 327.5L95 347.8M81.4 327.8L92.5 349.3M80.7 328.1L90 350.4M80 328.4L87.3 351.4M79.4 328.5L84.6 352.1M78.7 328.7L81.8 352.6M78 328.7L79 352.9M77.2 328.7L76.2 352.9M76.5 328.7L73.4 352.6M75.8 328.5L70.6 352.1M75.2 328.4L67.9 351.4M74.5 328.1L65.2 350.4M73.8 327.8L62.7 349.3M73.2 327.5L60.2 347.8M72.6 327.1L57.9 346.2M72.1 326.6L55.8 344.4M71.6 326.1L53.8 342.4M71.1 325.6L52 340.3M70.7 325L50.4 338M70.4 324.4L48.9 335.5M70.1 323.7L47.8 333M69.8 323L46.8 330.3M69.7 322.4L46.1 327.6M69.5 321.7L45.6 324.8M69.5 321L45.3 322M69.5 320.2L45.3 319.2M69.5 319.5L45.6 316.4M69.7 318.8L46.1 313.6M69.8 318.2L46.8 310.9M70.1 317.5L47.8 308.2M70.4 316.8L48.9 305.7M70.7 316.2L50.4 303.2M71.1 315.6L52 300.9M71.6 315.1L53.8 298.8M72.1 314.6L55.8 296.8M72.6 314.1L57.9 295M73.2 313.7L60.2 293.4M73.8 313.4L62.7 291.9M74.5 313.1L65.2 290.8M75.2 312.8L67.9 289.8M75.8 312.7L70.6 289.1M76.5 312.5L73.4 288.6M77.2 312.5L76.2 288.3M78 312.5L79 288.3M78.7 312.5L81.8 288.6M79.4 312.7L84.6 289.1M80 312.8L87.3 289.8M80.7 313.1L90 290.8M81.4 313.4L92.5 291.9M82 313.7L95 293.4M82.6 314.1L97.3 295M83.1 314.6L99.4 296.8M83.6 315.1L101.4 298.8M84.1 315.6L103.2 300.9M84.5 316.2L104.8 303.2M84.8 316.8L106.3 305.7M85.1 317.5L107.4 308.2M85.4 318.2L108.4 310.9M85.5 318.8L109.1 313.6M85.7 319.5L109.6 316.4M85.7 320.2L109.9 319.2" stroke="#000" stroke-width="0.7" stroke-opacity="0.55" fill="none"/>
</g>
<ellipse cx="144.8" cy="320.6" rx="16.6" ry="16.6" fill="#0a80f8" stroke="#10203a" stroke-width="0.6"/>
<ellipse cx="110.6" cy="387.6" rx="33" ry="33" fill="url(#rs31)" stroke="#1a1a50" stroke-width="0.5"/>
<g mask="url(#mk32)">
<ellipse cx="110.6" cy="387.6" rx="10.3" ry="10.3" fill="none" stroke="#000" stroke-width="0.3" stroke-opacity="0.45"/>
<ellipse cx="110.6" cy="387.6" rx="12.4" ry="12.4" fill="none" stroke="#000" stroke-width="0.3" stroke-opacity="0.45"/>
<ellipse cx="110.6" cy="387.6" rx="14.4" ry="14.4" fill="none" stroke="#000" stroke-width="0.3" stroke-opacity="0.45"/>
<ellipse cx="110.6" cy="387.6" rx="16.5" ry="16.5" fill="none" stroke="#000" stroke-width="0.3" stroke-opacity="0.45"/>
<ellipse cx="110.6" cy="387.6" rx="18.6" ry="18.6" fill="none" stroke="#000" stroke-width="0.3" stroke-opacity="0.45"/>
<ellipse cx="110.6" cy="387.6" rx="20.6" ry="20.6" fill="none" stroke="#000" stroke-width="0.3" stroke-opacity="0.45"/>
<ellipse cx="110.6" cy="387.6" rx="22.7" ry="22.7" fill="none" stroke="#000" stroke-width="0.3" stroke-opacity="0.45"/>
<ellipse cx="110.6" cy="387.6" rx="24.8" ry="24.8" fill="none" stroke="#000" stroke-width="0.3" stroke-opacity="0.45"/>
<ellipse cx="110.6" cy="387.6" rx="26.8" ry="26.8" fill="none" stroke="#000" stroke-width="0.3" stroke-opacity="0.45"/>
<ellipse cx="110.6" cy="387.6" rx="28.9" ry="28.9" fill="none" stroke="#000" stroke-width="0.3" stroke-opacity="0.45"/>
<ellipse cx="110.6" cy="387.6" rx="30.9" ry="30.9" fill="none" stroke="#000" stroke-width="0.3" stroke-opacity="0.45"/>
<path d="M118.8 388L143.1 389.3M118.7 388.9L142.7 392.7M118.5 389.7L142 396M118.2 390.5L140.9 399.2M117.9 391.3L139.6 402.4M117.5 392.1L137.9 405.3M117 392.8L135.9 408.1M116.4 393.4L133.6 410.6M115.8 394L131.1 412.9M115.1 394.5L128.3 414.9M114.3 394.9L125.4 416.6M113.5 395.2L122.2 417.9M112.7 395.5L119 419M111.9 395.7L115.7 419.7M111 395.8L112.3 420.1M110.2 395.8L108.9 420.1M109.3 395.7L105.5 419.7M108.5 395.5L102.2 419M107.7 395.2L99 417.9M106.9 394.9L95.8 416.6M106.1 394.5L92.9 414.9M105.4 394L90.1 412.9M104.8 393.4L87.6 410.6M104.2 392.8L85.3 408.1M103.7 392.1L83.3 405.3M103.3 391.3L81.6 402.4M103 390.5L80.3 399.2M102.7 389.7L79.2 396M102.5 388.9L78.5 392.7M102.4 388L78.1 389.3M102.4 387.2L78.1 385.9M102.5 386.3L78.5 382.5M102.7 385.5L79.2 379.2M103 384.7L80.3 376M103.3 383.9L81.6 372.8M103.7 383.1L83.3 369.9M104.2 382.4L85.3 367.1M104.8 381.8L87.6 364.6M105.4 381.2L90.1 362.3M106.1 380.7L92.9 360.3M106.9 380.3L95.8 358.6M107.7 380L99 357.3M108.5 379.7L102.2 356.2M109.3 379.5L105.5 355.5M110.2 379.4L108.9 355.1M111 379.4L112.3 355.1M111.9 379.5L115.7 355.5M112.7 379.7L119 356.2M113.5 380L122.2 357.3M114.3 380.3L125.4 358.6M115.1 380.7L128.3 360.3M115.8 381.2L131.1 362.3M116.4 381.8L133.6 364.6M117 382.4L135.9 367.1M117.5 383.1L137.9 369.9M117.9 383.9L139.6 372.8M118.2 384.7L140.9 376M118.5 385.5L142 379.2M118.7 386.3L142.7 382.5M118.8 387.2L143.1 385.9" stroke="#000" stroke-width="0.7" stroke-opacity="0.55" fill="none"/>
</g>
<ellipse cx="160.6" cy="387.4" rx="32.9" ry="32.9" fill="url(#rs34)" stroke="#000" stroke-width="1"/>
<g mask="url(#mk35)">
<path d="M168.8 387.8L193 388.8M168.7 388.5L192.7 391.6M168.6 389.2L192.2 394.4M168.4 389.9L191.5 397.1M168.1 390.5L190.5 399.8M167.8 391.2L189.3 402.4M167.5 391.8L187.9 404.8M167.1 392.4L186.3 407.1M166.6 392.9L184.5 409.3M166.1 393.4L182.5 411.3M165.6 393.9L180.3 413.1M165 394.3L178 414.7M164.4 394.6L175.6 416.1M163.7 394.9L173 417.3M163.1 395.2L170.3 418.3M162.4 395.4L167.6 419M161.7 395.5L164.8 419.5M161 395.6L162 419.8M160.2 395.6L159.2 419.8M159.5 395.5L156.4 419.5M158.8 395.4L153.6 419M158.1 395.2L150.9 418.3M157.5 394.9L148.2 417.3M156.8 394.6L145.6 416.1M156.2 394.3L143.2 414.7M155.6 393.9L140.9 413.1M155.1 393.4L138.7 411.3M154.6 392.9L136.7 409.3M154.1 392.4L134.9 407.1M153.7 391.8L133.3 404.8M153.4 391.2L131.9 402.4M153.1 390.5L130.7 399.8M152.8 389.9L129.7 397.1M152.6 389.2L129 394.4M152.5 388.5L128.5 391.6M152.4 387.8L128.2 388.8M152.4 387L128.2 386M152.5 386.3L128.5 383.2M152.6 385.6L129 380.4M152.8 384.9L129.7 377.7M153.1 384.3L130.7 375M153.4 383.6L131.9 372.4M153.7 383L133.3 370M154.1 382.4L134.9 367.7M154.6 381.9L136.7 365.5M155.1 381.4L138.7 363.5M155.6 380.9L140.9 361.7M156.2 380.5L143.2 360.1M156.8 380.2L145.6 358.7M157.5 379.9L148.2 357.5M158.1 379.6L150.9 356.5M158.8 379.4L153.6 355.8M159.5 379.3L156.4 355.3M160.2 379.2L159.2 355M161 379.2L162 355M161.7 379.3L164.8 355.3M162.4 379.4L167.6 355.8M163.1 379.6L170.3 356.5M163.7 379.9L173 357.5M164.4 380.2L175.6 358.7M165 380.5L178 360.1M165.6 380.9L180.3 361.7M166.1 381.4L182.5 363.5M166.6 381.9L184.5 365.5M167.1 382.4L186.3 367.7M167.5 383L187.9 370M167.8 383.6L189.3 372.4M168.1 384.3L190.5 375M168.4 384.9L191.5 377.7M168.6 385.6L192.2 380.4M168.7 386.3L192.7 383.2M168.8 387L193 386" stroke="#000" stroke-width="0.7" stroke-opacity="0.55" fill="none"/>
</g>
</g>
<path d="M35.7 264.9L34.3 268M33 270L34.1 266.8M61.9 268.1L59 269.8M34.2 292.2L33.9 292.2M31.4 297L28.6 295.3M49 296.8L51.2 298.6M58.3 285.3L62.2 287.6M66.8 286.9L69.1 284.3M78.3 273.9L78.5 272M75.5 271.3L73.7 270.7M57.7 353.8L57.3 355.8M50.8 379.6L50.7 383.5M50.7 383.5L48.1 385.5M48.3 389.2L47.3 391.7M39.2 414.5L37.2 416M55.5 359.2L58.8 358.4M53.4 375.1L54.1 371.8M59.4 353.7L61.6 357.1M61.6 357.1L63.8 359.1M57.6 405.3L58.7 408.4M55 401L58.3 399.7M130.9 341.8L128.3 339.6M124.3 325.6L127.2 327.3M124 325.5L122.2 327.6M163.6 331.1L163.8 328.7M179.4 316.2L181 314.5M175.7 293.9L175.8 292.1M161.8 337.6L162 340.9M180.6 311.5L178.3 313.9M186.2 293.6L185.6 290.9M169.2 294.8L167.1 294.3M156 291.8L153.1 290.9M156 291.8L159.2 290.9M180.3 316.2L183.9 315.2M194.1 314.7L198.7 314.4M198.7 314.4L201 312.6M207.5 310.3L209.9 310.9M187.7 315.2L187.8 318.9M162.5 332L162.1 329.8M161.6 320.6L160.6 316.9M162.1 329.8L161 333M160.8 314.3L162.5 311.4M168.8 323.5L167 320.6M188.5 363L190.4 364.7M201.3 364.1L203.3 362.4M213.7 364.6L215.7 367.3M202.1 391.2L205.7 389.9M207.4 386.6L207.5 387.7M192.4 408.3L196.9 410.2M196.9 410.2L196.6 412.1M205.7 411L207.8 412.7M193.4 402.6L196.2 404.2M209 412.1L206.1 410.5M205.6 405.5L206.8 402.4M206.1 405.3L208.4 402.9M100.5 367.3L97.7 369.5M93.9 376.5L93.2 379.1M92.7 382.2L92 384.8M91.1 391.2L91.5 395.1M91.6 396.6L91.1 402.2M92.7 402.3L93 406.8M91.5 395.1L91.8 398.4M122.2 379.2L123.8 383.5M126.6 398.7L129.5 400.2M129.5 400.2L130.7 401.6M135.3 409.4L135.7 411.5M139 412.4L140.3 416.1M54.5 293.6L52.3 291.1M52.3 291.1L51.5 287.8M42.7 333.5L40.4 335.9M90.1 362.6L93.2 363.8M99.3 362.8L102.6 362.7M109.8 370.5L111.7 373.2M131.8 371.6L129.5 369.2M193.7 372.3L195.2 369.3M200.2 394L202.4 391.4" stroke="#edb120" stroke-width="1.45" fill="none" stroke-linecap="round"/>
<path d="M34.3 268L33 270M57.4 268.4L57.4 267.5M65.4 267.1L63.9 267.3M49.1 282L46.2 285.1M41.4 286.2L38.1 287.1M38.1 287.1L40.1 289.8M69.1 284.3L72.5 285.6M75.6 281.5L76.2 277.5M78.5 272L79.8 268.5M81.1 267.9L81.7 265.8M66.8 286.9L64.2 289M70 282.2L70.6 280.3M40.3 340.6L43.6 341M57.2 367.3L55.7 369.9M53.4 375.1L52.4 378.4M58.8 358.4L61.9 359.5M54.1 371.8L54.7 368.5M65.9 361.2L65.1 361.3M59.4 353.7L57.9 350.8M59.9 373.1L62.3 375.4M43.6 388.5L39.2 388.2M47.5 390L49.1 392.7M58.7 408.4L59.8 410.9M63.4 414.3L66 417.8M62 412L63.6 410.1M63.6 410.1L64.2 406.8M130.9 341.8L128.1 340M158.5 346.4L161.1 341.8M169.3 323.9L170.5 322.2M176.9 321.4L179.8 320M178.9 306.1L177.6 302.7M158.5 346.4L158.9 343.1M179.7 298.7L183 298.6M176 295.5L172.5 294.8M162.5 293.8L164.9 291.4M191.3 313.7L194.1 314.7M177.2 321.4L179.6 325.3M162.3 326.4L161.1 323.6M167 318.8L168.3 321.9M197.2 364.7L201.3 364.1M208.9 361.4L211.7 364.8M212.2 358.3L214.6 360.7M205.7 389.9L210.3 389.2M198.9 399.1L196.4 399.2M190.8 404.8L192.4 408.3M205.6 405.5L206.1 405.3M206.1 405.3L210.3 404.9M96.7 370.7L95.7 373.4M98.4 414.8L101.6 416.6M93 394.8L96.3 394.9M121.6 378.7L122.2 379.2M124.3 396.8L122.1 399.2M118.9 400.3L118.8 401.4M125.6 391.4L123 393.5M140.3 416.1L142 417M129 410.4L127.8 410.9M44.5 266.8L45.1 263.5M58.1 287L60.9 288.8M42.5 343.7L39.9 345.7M77.4 361.9L79.4 364.6M93.2 363.8L95.9 361.9M197.1 393.5L198.1 396.6M202.4 391.4L205.1 389.5" stroke="#d95319" stroke-width="1.45" fill="none" stroke-linecap="round"/>
<path d="M39 268L38.8 270.7M61.3 265.6L63.2 262.5M62.9 262.7L66.1 263.4M63.3 264.5L60.7 262.4M51.6 273.8L54.4 274.5M37.5 288.3L34.2 292.2M33.9 292.2L31.4 297M41 285.9L37.6 285.1M35.6 282.9L33.4 284.2M72.5 285.6L73.1 285.3M77.7 272.3L75.5 271.3M45.2 315.5L42.2 319.7M42.2 319.7L42 320.6M54.6 347.3L54.6 350.3M57.3 355.8L55.5 359.2M55.7 369.9L54.6 371.2M48.1 385.5L48.3 389.2M46.3 388.5L49 390.5M49.1 392.7L51.7 393.8M54.2 397L53.4 399.9M59.8 410.9L61.7 411.2M61.7 411.2L63.4 414.3M58.3 399.7L57.9 399.3M56.4 409.3L54.6 411.3M43.2 399.4L40.9 399.1M63.6 410.1L66 409.9M136.7 340.8L134.5 342.3M136.3 341.4L135.4 338.5M127.2 327.3L129.3 329.5M129.3 329.5L130.9 332.3M124.3 325.6L122.5 328.4M122.2 327.6L122.5 328.9M166.4 327.1L163.8 329.2M177.2 299.4L179.7 298.7M179.7 298.7L183.8 298.2M159.2 290.9L160.6 293.9M185.2 315L188.1 314.3M183.9 315.2L181.4 313M162.1 329.8L162.3 326.4M167 320.6L166 318.9M181.9 304.1L183.5 302.5M163.5 340.3L161.1 338.4M161.1 338.4L159.6 337.6M205.5 359.8L207.7 358.8M205.5 359.8L202.3 359.2M209.1 357.1L208 355.8M178 356L179.8 353.3M179.8 353.3L179.3 351M193.4 402.6L190.8 404.8M207.8 412.7L209 412.1M213.3 406.2L211.6 405.9M88.9 384L86.6 381.6M123.1 385.8L124.9 388.4M121.6 378.7L118.6 377.3M135.7 411.5L139 412.4M129 410.4L128.6 407.1M75 358.2L76.2 356.7M55.3 285.1L58.1 287M76.4 363.3L76.7 366.7M129.5 369.2L130.3 366M198 396.5L200.2 394M208 411.7L209.7 414.5" stroke="#77ac30" stroke-width="1.45" fill="none" stroke-linecap="round"/>
<path d="M38.8 270.7L40.4 272M45.2 273.3L47.6 271.7M53.9 268.7L57.4 268.4M57.4 267.5L61.3 265.6M65.4 267.1L63.3 264.5M38.1 287.1L37.5 288.3M50.5 287.5L49 288.5M49 288.5L46.9 292.7M62.2 287.6L64.2 290.1M73.1 285.3L77.8 286M75.6 282.4L75.6 281.5M69.3 284.8L70 282.2M41.8 338.4L40.3 340.6M37.1 341L34.1 339.5M54.6 350.3L57.7 353.8M55.5 359.2L57.3 360.9M57.3 360.9L58.5 364.2M46.8 394.2L46 397.5M46 397.5L43.4 401.7M42.1 405.7L39.1 407.1M39.1 407.1L35.7 406.9M63.8 359.1L65.9 361.2M58.8 369.9L58.2 373.4M60.1 375.7L62.4 373.3M47.5 390L46.3 388.5M49.3 389.4L48.5 386.1M43.2 399.4L46.3 398.3M139.6 343.9L136.7 340.8M134.5 342.3L130.9 341.8M120.5 322L123.1 324.1M164.1 340.7L162.9 336M163.8 328.7L166.4 327.1M174.2 322.4L176.9 321.4M180.6 311.5L179.8 307.6M181 314.5L184 312.9M186.2 293.6L187.3 296.7M172.5 294.8L169.2 294.8M164.6 295.5L162.5 293.8M157.7 292.2L156 291.8M203.7 312L207.5 310.3M209.9 310.9L211.6 307.2M211.6 307.2L210.7 305.9M187.8 318.9L188.1 319.5M179.6 325.3L178.1 326.6M178.1 326.6L180.8 327.7M160.6 316.9L160.8 314.3M211.7 364.8L213.7 364.6M215.7 367.3L217.6 370M202.3 362.3L203.5 364.9M197.3 390.5L200.3 390.9M196.4 399.2L193.4 402.6M210.3 404.9L213.3 406.2M208.4 402.9L211.7 403.3M92 384.8L91.3 387.3M91.5 395.1L91.6 396.6M95.4 412.8L98.4 414.8M100.9 418.7L101.6 419.1M94.9 407.5L91.9 406.2M88.9 384L90.3 384.9M123.7 394.3L124.3 396.8M131.1 403.4L132.6 406.9M131.8 408.2L129 410.4M86.9 363.4L84.9 364.2M43.4 340.5L42.5 343.7M68.9 362.2L67.2 365.1M74.8 360.5L76.4 363.3M95.9 363L99.3 362.8M107 368.8L109.8 370.5M135.7 366.5L132.5 367.4M142.5 354.1L144.9 351.8M170.1 356L171.4 352.9M171.4 352.9L174.6 352" stroke="#0072bd" stroke-width="1.45" fill="none" stroke-linecap="round"/>
<path d="M47.6 271.7L51.3 271M51.3 271L53.9 268.7M63.2 262.5L62.9 262.7M63.2 262.5L65.5 260.1M54.4 274.5L55.4 273.3M31.4 297L31 300M37.6 285.1L35.6 282.9M35.6 282.9L38.9 283.6M64.2 290.1L66.8 286.9M77.8 286L75.6 282.4M44 337L41.8 338.4M40.3 340.6L37.1 341M54.6 371.2L53.4 375.1M47.3 391.7L46.8 394.2M42 402.3L42.1 405.7M42.1 405.7L41.1 408.8M41.1 408.8L38.7 410.8M38.7 410.8L39.2 414.5M39.2 414.5L36.4 412.7M50.2 376.5L49.7 375.3M53.4 399.9L55.6 402.4M57.9 399.3L60.7 397.6M135.4 338.5L134.2 337.8M123.1 324.1L124.3 325.6M157.3 346.6L158.5 346.4M161.1 341.8L164.1 340.7M162.9 336L163.9 335M163.9 335L163.6 331.1M170.5 322.2L174.2 322.4M163.9 335L161.8 337.6M183.8 298.2L183.5 295.1M183 298.6L185.9 300.3M162.5 293.8L157.7 292.2M183.9 315.2L185.2 315M188.1 319.5L188.2 316.1M160.8 314.3L161.1 312.8M161.1 312.8L161.7 316.1M179.3 305.7L181.9 304.1M159.6 337.6L161.1 334.6M195.5 364L197.2 364.7M207.6 359.2L209.1 357.1M203.5 364.9L204.4 367.3M176.5 353.5L173.3 354.6M207.8 412.7L205.3 414.8M202.7 408.2L205.6 405.5M197.3 410.9L196.9 413.3M196.9 413.3L195.3 415M95.7 373.4L93.9 376.5M93.2 379.1L92.7 382.2M94.9 407.5L95.4 412.8M96.4 412.3L94.2 413.9M94.2 413.9L93.4 415.1M123.8 383.5L123.1 385.8M125.6 391.4L123.7 394.3M124.5 381L128 379.3M128 379.3L128.1 380.5M123.6 398.6L126.6 398.7M132.6 406.9L135.3 409.4M84.9 364.2L83.9 368.3M53.6 282.8L52.6 285.9M60.9 288.8L62.7 291.6M39.9 345.7L36.8 347M79.4 364.6L81.7 367M92.7 364L95.9 363M198.1 396.6L201.5 396.5M209.4 411.1L212.5 412.4" stroke="#7e2f8e" stroke-width="1.45" fill="none" stroke-linecap="round"/>
<path d="M47.6 271.7L44.9 269.7M61.9 268.1L65.4 267.1M51.4 271.2L51.6 273.8M46.2 285.1L44.3 285.6M46.9 292.7L47.9 295.6M47.9 295.6L49 296.8M56 285L58.3 285.3M79.8 268.5L81.1 267.9M78.3 273.9L81.6 274.7M42 320.6L39.1 319.6M39.1 319.6L36.9 320.4M42.5 328.9L40.9 330.6M37.1 341L34.5 341.3M52.4 378.4L50.8 379.6M54.6 350.3L57.2 352.4M43.4 401.7L41.5 404.5M57 352L59.4 353.7M55 370L58.8 369.9M60.1 375.7L61.9 377.1M53 377L50.2 376.5M46.3 388.5L43.6 388.5M55.6 402.4L57.6 405.3M49.1 392.7L49.3 389.4M58 407L56.4 409.3M140.5 345.6L139.6 343.9M128.3 339.6L126.8 337M166.4 327.1L169.3 323.9M179.8 320L179.4 316.2M177.6 302.7L176.7 300.3M176.7 300.3L176.8 295.8M176.8 295.8L175.7 293.9M164.1 340.7L167.2 339.7M183.5 295.1L186.2 293.6M188.1 314.3L191.3 313.7M191.3 313.7L188.5 311.8M209.7 310L211.1 310.6M211.1 310.6L211.8 312M161.1 323.6L161.6 320.6M166 318.9L167 318.8M181.9 304.1L184.2 301.8M190.4 364.7L195.5 364M203.3 362.4L205.5 359.8M207.7 358.8L208.9 361.4M208.9 361.4L206.6 359M206.6 359L204.3 356.6M209.1 357.1L212.2 358.3M179.8 353.3L176.5 353.5M210.3 389.2L211.2 388.3M205.5 390.5L207.4 386.6M200 396L198.9 399.1M196.6 412.1L199.8 409.7M199.8 409.7L202.8 408.4M202.8 408.4L205.7 411M196.4 399.2L199.6 398.2M196.9 413.3L199.6 415.2M97.7 369.5L96.7 370.7M101.6 416.6L100.9 418.7M91.8 398.4L91.6 401.7M92.3 385L88.9 384M90.9 394.5L94 394.5M115 372.5L113.8 370.6M113.8 370.6L114.3 368.5M120.9 374.1L121.6 378.7M124.9 388.4L125.6 391.4M122.1 399.2L118.9 400.3M142 417L145.2 419.5M37.1 265.9L38.9 268.7M52.6 285.9L53.9 289M40.4 335.9L37.5 337.6M68.8 358.9L68.9 362.2M132.5 367.4L131 370.4M192.7 367.1L191.2 364.1M206.9 408.8L209.4 411.1M209.7 414.5L209.4 417.8" stroke="#4dbeee" stroke-width="1.45" fill="none" stroke-linecap="round"/>
<path d="M60.9 264.9L61.9 268.1M55.4 273.3L59 272.7M51.4 280.6L49.1 282M44.3 285.6L41.4 286.2M76.2 277.5L78.3 273.9M40.9 330.6L38.9 330.6M58.5 364.2L57.2 367.3M43.4 401.7L42 402.3M65.1 361.3L68.4 361.2M58.2 373.4L60.1 375.7M58.8 369.9L59.9 373.1M51.7 393.8L54.2 397M45 397L43.2 399.4M46.3 398.3L49.2 396.7M122.5 328.4L122.9 331.7M181 314.5L180.6 311.5M179.8 307.6L178.9 306.1M167.1 294.3L164.6 295.5M201 312.6L203.7 312M161.1 334.6L159.7 331.6M213.7 364.6L216 365.6M202.3 359.2L199.3 357.7M200.3 390.9L202.1 391.2M211.2 388.3L211.2 387.3M91.3 387.3L91.1 391.2M91.1 402.2L92.7 402.3M93 406.8L94.9 407.5M94 394.5L93 394.8M124.3 396.8L124.1 400.2M130.7 401.6L131.1 403.4M76.2 356.7L78.1 354.4M34.8 263.4L37.1 265.9M45.3 270L44.5 266.8M53.9 289L54.5 292.3M139.3 355L142.5 354.1M174.6 352L177.1 349.8M195.2 369.3L192.7 367.1" stroke="#a2142f" stroke-width="1.45" fill="none" stroke-linecap="round"/>
<path d="M27 254.3L29.1 256.4L31.2 258.5L33.2 260.8L34.8 263.4L37.6 264.9L40.6 266.2L42.5 268.5L45.3 270L46.9 272.6L48.6 275.2L51.9 276.1L51.5 280.7L53.6 282.8L55.3 285.1L54.8 287.8L51.7 288.7L54.5 293.6L51.6 295.4L53.4 299.5L51 301.7L51.3 304.9" stroke="#f01010" stroke-width="2.6" fill="none" stroke-linejoin="round" stroke-linecap="round"/>
<path d="M47.4 312.9L46.6 315.8" stroke="#f01010" stroke-width="2.6" fill="none" stroke-linejoin="round" stroke-linecap="round"/>
<path d="M45.7 327.6L43.9 330.4L42.7 333.5L43.4 336.7L43.4 340.5L45.8 343L49.2 344.1L53.8 343.1" stroke="#f01010" stroke-width="2.6" fill="none" stroke-linejoin="round" stroke-linecap="round"/>
<path d="M58.3 346.9L61.1 347.9L63 350.4L64.7 353.4L65.7 358.2L68.8 358.9L72.6 358L74.8 360.5L77.4 361.9L81.3 360.5L84.5 360.5L87.1 362.1L90.1 362.6L92.7 364L95.2 366.1L98.4 366L101.4 366.2L103.6 369.5L107 368.8L109.8 370L112.8 370.5L115.8 371.3L118.6 371.9L121.4 371.8L123.5 374.7L125.8 373.6L128.6 372.8L131.8 371.6L135.8 370.3" stroke="#f01010" stroke-width="2.6" fill="none" stroke-linejoin="round" stroke-linecap="round"/>
<path d="M135.7 366.5L137.7 364.1L140.3 362L138.1 357.7L139.3 355L140.3 352L142.8 350.2L145.5 348.7L148.3 347.7L151.4 348.8L154.4 346.8L157.9 344.9L160.5 347.7L163 349.8L164.7 353.5L167.1 355.4L170.1 356L172.7 357.5" stroke="#f01010" stroke-width="2.6" fill="none" stroke-linejoin="round" stroke-linecap="round"/>
<path d="M175.7 358L179.5 357L181.4 359.6L182.8 362.2L184.9 363.8L188 365L187.6 368.5L190.2 370.4L193.7 372.3L194.6 375.2L194.9 378.2L196.7 380.8L194.5 384.6L197.3 386.9L197.4 390.1L197.1 393.5L198 396.5L200.8 398.5L201.4 401.6L202.9 404.2L205.6 406.2L206.9 408.8L208 411.7L209.9 414L210.9 416.8L212.4 419.5L211.8 420.4" stroke="#f01010" stroke-width="2.6" fill="none" stroke-linejoin="round" stroke-linecap="round"/>
<path d="M27 254.3L27.9 255.3L29.8 257.2L32.6 260.2L36.4 264.1L40.2 268.1L44.1 272.1L48 276.1L52 280.2L54.7 283.6L56.2 286.4L56.4 288.6L55.4 290.2L54.3 291.9L53.2 293.8L52.1 295.9L51 298.2L50 300.6L49.1 303L48.2 305.5L47.4 308.2L46.7 310.8L46 313.4L45.4 316L44.9 318.7L44.4 321.3L44 323.9L43.7 326.5L43.5 329.1L43.5 331.5L43.7 333.7L44.3 335.8L45 337.6L46.1 339.4L47.6 341.2L49.4 343L51.5 344.7L53.7 346.4L56.2 348.2L58.9 349.9L61.8 351.6L65.2 353.5L69.3 355.5L73.9 357.6L79.1 359.9L84.3 362L89.5 363.9L94.7 365.6L99.8 367L104.5 368.5L108.7 370L112.4 371.6L115.7 373.2L118.4 374.4L120.7 375.2L122.6 375.6L123.9 375.6L125.4 375.2L126.9 374.5L128.4 373.3L130.1 371.8L131.6 369.9L133.1 367.5L134.4 364.8L135.7 361.7L137 358.9L138.2 356.4L139.5 354.2L140.8 352.3L142.3 350.8L143.9 349.5L145.8 348.6L147.8 348L150 347.6L152.2 347.5L154.5 347.6L156.8 348L159.2 348.5L161.6 349.2L164 350L166.4 351.1L169 352.2L172 353.5L175.1 354.9L178.5 356.4L181.5 358L184 359.8L186.2 361.7L187.8 363.7L189.4 366L190.7 368.6L191.9 371.4L193 374.4L194 377.6L195 380.8L196 384.1L197.1 387.5L198.3 390.8L199.6 394.1L201.2 397.2L202.8 400.3L204.5 403.2L206 405.9L207.4 408.5L208.8 410.8L209.9 413L210.7 414.9L211.2 416.6L211.4 418.1L211.6 419.3L211.7 420L211.8 420.4" stroke="#10f010" stroke-width="1.8" fill="none" stroke-linejoin="round" stroke-linecap="round"/>
<circle cx="27" cy="254.4" r="2.9" fill="#19e0e6" stroke="#18a0b4" stroke-width="0.8"/>
<circle cx="211.8" cy="420.6" r="2.9" fill="#f018f0" stroke="#9a2ab0" stroke-width="0.8"/>
<text x="31.6" y="256.9" font-size="6.7" text-anchor="start" fill="#262626" font-family="'Liberation Sans',Arial,sans-serif" stroke="#262626" stroke-width="0.18">Start</text>
<text x="215.4" y="423.2" font-size="6.7" text-anchor="start" fill="#262626" font-family="'Liberation Sans',Arial,sans-serif" stroke="#262626" stroke-width="0.18">Target</text>
<rect x="170.5" y="253.2" width="47" height="34.7" fill="#fff" stroke="#7a7a7a" stroke-width="0.6" rx="0.6"/>
<circle cx="182.4" cy="258.5" r="2" fill="#19e0e6" stroke="#18a0b4" stroke-width="0.8"/>
<circle cx="182.4" cy="266.8" r="2" fill="#f018f0" stroke="#9a2ab0" stroke-width="0.8"/>
<path d="M173.3 274.9L192.2 274.9" stroke="#f01010" stroke-width="2" fill="none"/>
<path d="M173.3 283.2L192.2 283.2" stroke="#10f010" stroke-width="2" fill="none"/>
<text x="194.2" y="260.7" font-size="5.9" text-anchor="start" fill="#2a2a2a" font-family="'Liberation Sans',Arial,sans-serif" stroke="#2a2a2a" stroke-width="0.18">Start</text>
<text x="194.2" y="268.8" font-size="5.9" text-anchor="start" fill="#2a2a2a" font-family="'Liberation Sans',Arial,sans-serif" stroke="#2a2a2a" stroke-width="0.18">Target</text>
<text x="194.2" y="277.1" font-size="5.9" text-anchor="start" fill="#2a2a2a" font-family="'Liberation Sans',Arial,sans-serif" stroke="#2a2a2a" stroke-width="0.18">RRT</text>
<text x="194.2" y="285.1" font-size="5.9" text-anchor="start" fill="#2a2a2a" font-family="'Liberation Sans',Arial,sans-serif" stroke="#2a2a2a" stroke-width="0.18">MARRT</text>
<path d="M339.5 356.7L403.8 423.8M361.9 349.1L426.2 416.2M384.3 341.5L448.6 408.6M406.7 333.8L471 400.9M429.1 326.2L493.4 393.3M451.5 318.6L515.8 385.7M339.5 356.7L466.6 313.5M371.6 390.2L498.8 347M403.8 423.8L530.9 380.6M361.9 349.1L361.9 286.4M384.3 341.5L384.3 278.8M406.7 333.8L406.7 271.1M429.1 326.2L429.1 263.5M451.5 318.6L451.5 255.9M339.5 335.8L466.6 292.6M339.5 314.9L466.6 271.7M339.5 294L466.6 250.8M466.6 313.5L466.6 250.8M498.8 347L498.8 284.3M530.9 380.6L530.9 317.9M466.6 292.6L530.9 359.7M466.6 271.7L530.9 338.8M466.6 250.8L530.9 317.9M466.6 313.5L530.9 380.6" stroke="#dddddd" stroke-width="0.6" fill="none"/>
<text x="331.6" y="365.5" font-size="6.7" text-anchor="middle" fill="#262626" font-family="'Liberation Sans',Arial,sans-serif" stroke="#262626" stroke-width="0.18">0</text>
<text x="362.5" y="399.8" font-size="6.7" text-anchor="middle" fill="#262626" font-family="'Liberation Sans',Arial,sans-serif" stroke="#262626" stroke-width="0.18">5</text>
<text x="393" y="432.1" font-size="6.7" text-anchor="middle" fill="#262626" font-family="'Liberation Sans',Arial,sans-serif" stroke="#262626" stroke-width="0.18">10</text>
<text x="409.1" y="435" font-size="6.7" text-anchor="middle" fill="#262626" font-family="'Liberation Sans',Arial,sans-serif" stroke="#262626" stroke-width="0.18">0</text>
<text x="431.5" y="427.4" font-size="6.7" text-anchor="middle" fill="#262626" font-family="'Liberation Sans',Arial,sans-serif" stroke="#262626" stroke-width="0.18">2</text>
<text x="453.9" y="419.8" font-size="6.7" text-anchor="middle" fill="#262626" font-family="'Liberation Sans',Arial,sans-serif" stroke="#262626" stroke-width="0.18">4</text>
<text x="476.3" y="412.1" font-size="6.7" text-anchor="middle" fill="#262626" font-family="'Liberation Sans',Arial,sans-serif" stroke="#262626" stroke-width="0.18">6</text>
<text x="498.7" y="404.5" font-size="6.7" text-anchor="middle" fill="#262626" font-family="'Liberation Sans',Arial,sans-serif" stroke="#262626" stroke-width="0.18">8</text>
<text x="521.1" y="396.9" font-size="6.7" text-anchor="middle" fill="#262626" font-family="'Liberation Sans',Arial,sans-serif" stroke="#262626" stroke-width="0.18">10</text>
<text x="334.5" y="355.9" font-size="6.7" text-anchor="end" fill="#262626" font-family="'Liberation Sans',Arial,sans-serif" stroke="#262626" stroke-width="0.18">0</text>
<text x="334.5" y="335" font-size="6.7" text-anchor="end" fill="#262626" font-family="'Liberation Sans',Arial,sans-serif" stroke="#262626" stroke-width="0.18">2</text>
<text x="334.5" y="314.1" font-size="6.7" text-anchor="end" fill="#262626" font-family="'Liberation Sans',Arial,sans-serif" stroke="#262626" stroke-width="0.18">4</text>
<text x="334.5" y="293.2" font-size="6.7" text-anchor="end" fill="#262626" font-family="'Liberation Sans',Arial,sans-serif" stroke="#262626" stroke-width="0.18">6</text>
<path d="M339.5 356.7L339.5 294M339.5 356.7L403.8 423.8M403.8 423.8L530.9 380.6M339.5 356.7L337.2 357.5M371.6 390.2L369.4 391M403.8 423.8L401.5 424.6M403.8 423.8L405.5 425.5M426.2 416.2L427.9 417.9M448.6 408.6L450.3 410.3M471 400.9L472.7 402.7M493.4 393.3L495.1 395.1M515.8 385.7L517.5 387.4M339.5 356.7L337.1 356.7M339.5 335.8L337.1 335.8M339.5 314.9L337.1 314.9M339.5 294L337.1 294" stroke="#484848" stroke-width="0.6" fill="none"/>
<text x="360" y="426.8" font-size="7.4" text-anchor="middle" fill="#262626" font-family="'Liberation Sans',Arial,sans-serif" stroke="#262626" stroke-width="0.18">x(km)</text>
<text x="463.8" y="433.1" font-size="7.4" text-anchor="middle" fill="#262626" font-family="'Liberation Sans',Arial,sans-serif" stroke="#262626" stroke-width="0.18">y(km)</text>
<text x="0" y="0" font-size="7.4" text-anchor="middle" fill="#262626" font-family="'Liberation Sans',Arial,sans-serif" stroke="#262626" stroke-width="0.18" transform="translate(325.6 326) rotate(-90)">z(km)</text>
<text x="434.6" y="250.2" font-size="7.2" text-anchor="middle" fill="#262626" font-family="'Liberation Sans',Arial,sans-serif" stroke="#262626" stroke-width="0.18">RRT</text>
<path d="M421.3 364.6L424.2 363.5L426.8 362.2L429 360.6L430.9 359L432.4 357.1L433.5 355.2L434.2 353.2L434.4 351.2L434.2 349.1L433.6 347.1L432.5 345.2L431 343.4L429.1 341.7L426.9 340.1L424.3 338.8L421.5 337.6L418.4 336.7L415.2 336L411.8 335.6L408.4 335.5L405 335.6L401.7 336L398.4 336.6L395.4 337.5L392.5 338.6L390 340L387.7 341.5L385.8 343.2L384.3 345L383.2 346.9L382.5 348.9L382.3 351L382.5 353L383.1 355L384.2 356.9L385.7 358.8L387.6 360.5L389.9 362L392.4 363.4L395.3 364.5L398.3 365.4L401.5 366.1L404.9 366.5L408.3 366.7L411.7 366.5L415.1 366.2L418.3 365.5L421.3 364.6Z" stroke="#36a0e0" stroke-width="1.0" fill="none"/>
<path d="M419.5 362.7L422 361.8L424.2 360.6L426.2 359.3L427.8 357.9L429.1 356.3L430.1 354.6L430.6 352.9L430.8 351.2L430.6 349.4L430.1 347.7L429.1 346L427.8 344.4L426.2 343L424.3 341.6L422.1 340.5L419.6 339.5L417 338.7L414.2 338.1L411.3 337.8L408.4 337.6L405.5 337.7L402.6 338.1L399.8 338.6L397.2 339.4L394.7 340.4L392.5 341.5L390.6 342.8L388.9 344.3L387.6 345.8L386.7 347.5L386.1 349.2L385.9 351L386.1 352.7L386.6 354.5L387.6 356.1L388.9 357.7L390.5 359.2L392.4 360.5L394.6 361.7L397.1 362.6L399.7 363.4L402.5 364L405.4 364.4L408.3 364.5L411.2 364.4L414.1 364.1L416.9 363.5L419.5 362.7Z" stroke="#38bcd8" stroke-width="1.0" fill="none"/>
<path d="M417.7 360.9L419.8 360.1L421.7 359.1L423.3 358L424.7 356.8L425.8 355.5L426.6 354.1L427 352.6L427.2 351.2L427.1 349.7L426.6 348.2L425.8 346.8L424.7 345.5L423.3 344.3L421.7 343.2L419.9 342.2L417.8 341.4L415.6 340.7L413.3 340.2L410.9 339.9L408.4 339.8L405.9 339.9L403.5 340.2L401.2 340.6L399 341.3L396.9 342.1L395.1 343L393.4 344.1L392.1 345.4L391 346.7L390.2 348.1L389.7 349.5L389.5 351L389.7 352.5L390.1 353.9L390.9 355.3L392 356.6L393.4 357.9L395 359L396.8 360L398.9 360.8L401.1 361.4L403.4 361.9L405.9 362.2L408.3 362.3L410.8 362.2L413.2 362L415.5 361.5L417.7 360.9Z" stroke="#46c6b4" stroke-width="1.0" fill="none"/>
<path d="M411.8 385.7L414.7 384.5L417.2 383.2L419.5 381.7L421.4 380L422.9 378.2L424 376.3L424.7 374.3L424.9 372.2L424.7 370.2L424 368.2L422.9 366.2L421.4 364.4L419.6 362.7L417.3 361.2L414.8 359.8L411.9 358.7L408.9 357.8L405.6 357.1L402.3 356.7L398.9 356.5L395.5 356.6L392.1 357L388.9 357.7L385.8 358.6L383 359.7L380.4 361L378.2 362.5L376.3 364.2L374.7 366L373.6 368L373 370L372.7 372L372.9 374L373.6 376L374.7 378L376.2 379.8L378.1 381.5L380.3 383.1L382.9 384.4L385.7 385.6L388.8 386.5L392 387.1L395.4 387.5L398.8 387.7L402.2 387.6L405.5 387.2L408.7 386.6L411.8 385.7Z" stroke="#36a0e0" stroke-width="1.0" fill="none"/>
<path d="M410 383.8L412.5 382.8L414.7 381.7L416.6 380.4L418.3 378.9L419.6 377.3L420.5 375.7L421.1 374L421.3 372.2L421.1 370.5L420.5 368.7L419.6 367.1L418.3 365.5L416.7 364L414.7 362.7L412.5 361.5L410.1 360.5L407.5 359.7L404.7 359.2L401.8 358.8L398.9 358.7L395.9 358.8L393.1 359.1L390.3 359.7L387.6 360.4L385.2 361.4L383 362.5L381 363.9L379.4 365.3L378.1 366.9L377.1 368.5L376.5 370.3L376.3 372L376.5 373.8L377.1 375.5L378 377.2L379.3 378.7L381 380.2L382.9 381.5L385.1 382.7L387.5 383.7L390.2 384.5L393 385.1L395.8 385.4L398.8 385.5L401.7 385.4L404.6 385.1L407.4 384.6L410 383.8Z" stroke="#38bcd8" stroke-width="1.0" fill="none"/>
<path d="M408.2 381.9L410.3 381.1L412.1 380.1L413.8 379L415.1 377.8L416.2 376.5L417 375.1L417.5 373.7L417.7 372.2L417.5 370.7L417 369.3L416.3 367.9L415.2 366.5L413.8 365.3L412.2 364.2L410.3 363.2L408.3 362.4L406.1 361.7L403.7 361.2L401.3 361L398.9 360.8L396.4 360.9L394 361.2L391.6 361.7L389.4 362.3L387.4 363.1L385.5 364.1L383.9 365.2L382.5 366.4L381.4 367.7L380.6 369.1L380.1 370.6L380 372L380.1 373.5L380.6 374.9L381.4 376.3L382.5 377.7L383.8 378.9L385.5 380L387.3 381L389.4 381.8L391.6 382.5L393.9 383L396.3 383.3L398.8 383.4L401.2 383.3L403.7 383L406 382.5L408.2 381.9Z" stroke="#46c6b4" stroke-width="1.0" fill="none"/>
<path d="M493.5 393.5L496.4 392.3L498.9 391L501.2 389.5L503.1 387.8L504.6 386L505.7 384L506.4 382L506.6 380L506.4 378L505.8 376L504.7 374L503.2 372.2L501.3 370.5L499 369L496.5 367.6L493.6 366.5L490.6 365.5L487.4 364.9L484 364.5L480.6 364.3L477.2 364.4L473.8 364.8L470.6 365.5L467.6 366.3L464.7 367.5L462.1 368.8L459.9 370.3L458 372L456.5 373.8L455.4 375.8L454.7 377.8L454.5 379.8L454.7 381.8L455.3 383.8L456.4 385.8L457.9 387.6L459.8 389.3L462 390.8L464.6 392.2L467.4 393.3L470.5 394.3L473.7 394.9L477.1 395.3L480.5 395.5L483.9 395.4L487.2 395L490.5 394.3L493.5 393.5Z" stroke="#36a0e0" stroke-width="1.0" fill="none"/>
<path d="M491.7 391.6L494.2 390.6L496.4 389.5L498.3 388.1L500 386.7L501.3 385.1L502.2 383.5L502.8 381.7L503 380L502.8 378.2L502.3 376.5L501.3 374.9L500 373.3L498.4 371.8L496.5 370.5L494.3 369.3L491.8 368.3L489.2 367.5L486.4 367L483.5 366.6L480.6 366.5L477.7 366.6L474.8 366.9L472 367.5L469.4 368.2L466.9 369.2L464.7 370.3L462.7 371.7L461.1 373.1L459.8 374.7L458.8 376.3L458.3 378.1L458.1 379.8L458.3 381.6L458.8 383.3L459.8 384.9L461.1 386.5L462.7 388L464.6 389.3L466.8 390.5L469.3 391.5L471.9 392.3L474.7 392.8L477.6 393.2L480.5 393.3L483.4 393.2L486.3 392.9L489.1 392.3L491.7 391.6Z" stroke="#38bcd8" stroke-width="1.0" fill="none"/>
<path d="M489.9 389.7L492 388.9L493.8 387.9L495.5 386.8L496.8 385.6L497.9 384.3L498.7 382.9L499.2 381.5L499.4 380L499.2 378.5L498.8 377.1L498 375.7L496.9 374.3L495.5 373.1L493.9 372L492.1 371L490 370.2L487.8 369.5L485.5 369L483 368.7L480.6 368.6L478.1 368.7L475.7 369L473.4 369.5L471.2 370.1L469.1 370.9L467.2 371.9L465.6 373L464.2 374.2L463.1 375.5L462.3 376.9L461.9 378.3L461.7 379.8L461.8 381.3L462.3 382.7L463.1 384.1L464.2 385.5L465.6 386.7L467.2 387.8L469 388.8L471.1 389.6L473.3 390.3L475.6 390.8L478 391.1L480.5 391.2L483 391.1L485.4 390.8L487.7 390.3L489.9 389.7Z" stroke="#46c6b4" stroke-width="1.0" fill="none"/>
<ellipse cx="408.4" cy="331.4" rx="25.5" ry="24.9" fill="url(#sg37)" stroke="#000" stroke-width="1.0"/>
<ellipse cx="408.4" cy="331.4" rx="25.5" ry="24.9" fill="url(#sr38)"/>
<path d="M417.3 354.7L418.1 354.2L418.8 353.6L419.4 352.8L419.9 351.8L420.3 350.7L420.6 349.4L420.9 348L421 346.4L421.1 344.8L421 343L420.9 341.2L420.6 339.3L420.3 337.3L419.9 335.3L419.4 333.2L418.8 331.2L418.1 329.1L417.3 327L416.5 325L415.6 323.1L414.7 321.2L413.7 319.3L412.7 317.6L411.6 316L410.6 314.5L409.5 313.1L408.4 311.8M418.3 354.3L419.1 353.8L419.9 353.2L420.5 352.3L421.1 351.3L421.6 350.2L421.9 348.9L422.2 347.5L422.4 345.9L422.4 344.3L422.4 342.5L422.2 340.7L421.9 338.8L421.6 336.8L421.1 334.8L420.5 332.8L419.9 330.7L419.1 328.7L418.3 326.7L417.4 324.7L416.4 322.8L415.4 320.9L414.3 319.1L413.2 317.4L412 315.8L410.8 314.4L409.6 313L408.4 311.8M419.2 353.9L420.1 353.4L420.9 352.7L421.7 351.8L422.3 350.8L422.8 349.7L423.2 348.4L423.5 346.9L423.7 345.4L423.7 343.7L423.7 342L423.5 340.1L423.2 338.3L422.8 336.3L422.3 334.3L421.7 332.3L420.9 330.3L420.1 328.3L419.2 326.3L418.2 324.3L417.2 322.5L416 320.6L414.9 318.9L413.6 317.2L412.3 315.7L411 314.3L409.7 313L408.4 311.8M421.1 352.9L422 352.2L422.7 351.3L423.4 350.3L424 349.1L424.4 347.8L424.7 346.3L424.9 344.8L425 343.1L424.9 341.4L424.7 339.6L424.4 337.7L424 335.7L423.4 333.8L422.7 331.8L422 329.8L421.1 327.8L420.1 325.9L419 324L417.9 322.1L416.7 320.3L415.4 318.6L414 317L412.7 315.5L411.2 314.2L409.8 312.9L408.4 311.8M422 352.4L422.9 351.7L423.8 350.8L424.5 349.7L425.1 348.5L425.6 347.2L425.9 345.7L426.1 344.1L426.2 342.5L426.1 340.7L425.9 338.9L425.6 337L425.1 335.1L424.5 333.2L423.8 331.2L422.9 329.3L422 327.3L420.9 325.4L419.8 323.5L418.6 321.7L417.3 320L415.9 318.4L414.4 316.8L413 315.4L411.5 314.1L409.9 312.9L408.4 311.8M422.8 351.9L423.8 351.1L424.7 350.2L425.5 349.1L426.1 347.8L426.6 346.5L427 345L427.2 343.4L427.3 341.8L427.2 340L427 338.2L426.6 336.4L426.1 334.5L425.5 332.5L424.7 330.6L423.8 328.7L422.8 326.8L421.7 324.9L420.5 323.1L419.2 321.3L417.8 319.7L416.4 318.1L414.8 316.6L413.3 315.2L411.6 313.9L410 312.8L408.4 311.8M424.7 350.5L425.6 349.5L426.4 348.4L427.1 347.1L427.6 345.8L428 344.3L428.2 342.7L428.3 341L428.2 339.3L428 337.5L427.6 335.7L427.1 333.8L426.4 331.9L425.6 330L424.7 328.1L423.6 326.2L422.5 324.4L421.2 322.6L419.8 320.9L418.3 319.3L416.8 317.7L415.2 316.3L413.5 315L411.8 313.8L410.1 312.7L408.4 311.8M425.5 349.9L426.5 348.8L427.3 347.7L428 346.4L428.6 345L428.9 343.5L429.2 341.9L429.3 340.3L429.2 338.5L428.9 336.7L428.6 334.9L428 333L427.3 331.2L426.5 329.3L425.5 327.5L424.4 325.6L423.1 323.8L421.8 322.1L420.3 320.5L418.8 318.9L417.2 317.4L415.5 316.1L413.8 314.8L412 313.7L410.2 312.7L408.4 311.8M427.2 348.1L428.1 347L428.8 345.7L429.4 344.2L429.8 342.7L430.1 341.1L430.1 339.5L430.1 337.7L429.8 335.9L429.4 334.1L428.8 332.3L428.1 330.4L427.2 328.6L426.2 326.8L425 325L423.8 323.3L422.4 321.6L420.9 320L419.2 318.5L417.6 317.1L415.8 315.8L414 314.6L412.1 313.5L410.3 312.6L408.4 311.8M427.9 347.4L428.8 346.2L429.6 344.9L430.2 343.4L430.6 341.9L430.8 340.3L430.9 338.6L430.8 336.9L430.6 335.1L430.2 333.3L429.6 331.5L428.8 329.7L427.9 327.9L426.8 326.1L425.6 324.4L424.3 322.7L422.9 321.1L421.3 319.5L419.6 318.1L417.9 316.7L416.1 315.5L414.2 314.4L412.3 313.4L410.3 312.5L408.4 311.8M429.4 345.4L430.2 344L430.8 342.6L431.3 341L431.5 339.4L431.6 337.7L431.5 336L431.3 334.3L430.8 332.5L430.2 330.7L429.4 328.9L428.5 327.1L427.4 325.4L426.2 323.7L424.8 322.1L423.3 320.5L421.7 319L420 317.6L418.2 316.4L416.3 315.2L414.4 314.1L412.4 313.2L410.4 312.5L408.4 311.8M430.8 343.2L431.4 341.7L431.9 340.2L432.1 338.5L432.2 336.9L432.1 335.1L431.9 333.4L431.4 331.6L430.8 329.8L430 328.1L429 326.3L427.9 324.7L426.7 323L425.2 321.4L423.7 319.9L422.1 318.5L420.3 317.2L418.5 316L416.5 314.9L414.5 313.9L412.5 313.1L410.4 312.4L408.4 311.8M431.3 342.3L431.9 340.8L432.4 339.3L432.7 337.6L432.8 335.9L432.7 334.2L432.4 332.5L431.9 330.7L431.3 329L430.5 327.3L429.5 325.6L428.3 323.9L427 322.3L425.6 320.8L424 319.3L422.4 318L420.6 316.7L418.7 315.6L416.7 314.6L414.7 313.7L412.6 312.9L410.5 312.3L408.4 311.8M432.3 339.9L432.8 338.3L433.1 336.7L433.2 335L433.1 333.3L432.8 331.6L432.3 329.8L431.7 328.1L430.8 326.4L429.8 324.7L428.7 323.1L427.4 321.6L425.9 320.1L424.3 318.7L422.6 317.4L420.8 316.3L418.8 315.2L416.8 314.2L414.8 313.4L412.7 312.8L410.5 312.2L408.4 311.8M433.1 337.4L433.4 335.7L433.5 334.1L433.4 332.3L433.1 330.6L432.6 328.9L432 327.2L431.1 325.5L430.1 323.9L428.9 322.4L427.6 320.9L426.1 319.4L424.5 318.1L422.8 316.9L420.9 315.8L419 314.8L417 313.9L414.9 313.2L412.7 312.6L410.6 312.1L408.4 311.8M433.6 334.8L433.7 333.1L433.6 331.4L433.3 329.7L432.8 328L432.2 326.3L431.3 324.7L430.3 323.1L429.1 321.6L427.8 320.1L426.3 318.8L424.7 317.5L422.9 316.4L421 315.3L419.1 314.4L417 313.6L414.9 312.9L412.8 312.4L410.6 312.1L408.4 311.8M433.8 332.1L433.7 330.4L433.4 328.7L433 327L432.3 325.4L431.4 323.8L430.4 322.3L429.2 320.8L427.9 319.4L426.4 318.1L424.7 316.9L423 315.8L421.1 314.8L419.1 314L417.1 313.3L415 312.7L412.8 312.3L410.6 312L408.4 311.8M433.8 329.5L433.5 327.8L433 326.1L432.3 324.5L431.5 322.9L430.4 321.4L429.2 320L427.9 318.6L426.4 317.4L424.7 316.3L423 315.2L421.1 314.3L419.1 313.6L417.1 312.9L415 312.4L412.8 312.1L410.6 311.9L408.4 311.8M433.4 326.8L432.9 325.2L432.2 323.6L431.4 322L430.4 320.6L429.2 319.2L427.8 317.9L426.3 316.7L424.7 315.6L422.9 314.7L421.1 313.9L419.1 313.2L417.1 312.6L414.9 312.2L412.8 311.9L410.6 311.8L408.4 311.8M432.7 324.2L432.1 322.7L431.2 321.2L430.2 319.7L429 318.4L427.7 317.2L426.2 316L424.6 315L422.8 314.1L421 313.4L419 312.8L417 312.3L414.9 311.9L412.7 311.8L410.6 311.7L408.4 311.8M432.5 323.3L431.8 321.8L431 320.3L430 318.9L428.8 317.6L427.5 316.4L426 315.4L424.4 314.4L422.7 313.6L420.8 312.9L418.9 312.3L416.9 311.9L414.8 311.7L412.7 311.6L410.5 311.6L408.4 311.8M431.5 320.9L430.6 319.4L429.6 318.1L428.5 316.8L427.2 315.7L425.7 314.7L424.2 313.8L422.5 313L420.6 312.4L418.7 312L416.8 311.6L414.7 311.4L412.6 311.4L410.5 311.6L408.4 311.8M430.2 318.6L429.2 317.3L428.1 316.1L426.8 315L425.4 314L423.9 313.2L422.2 312.5L420.4 312L418.5 311.6L416.6 311.3L414.6 311.2L412.5 311.3L410.5 311.5L408.4 311.8M428.7 316.5L427.6 315.3L426.4 314.3L425 313.4L423.5 312.6L421.9 312L420.1 311.5L418.3 311.2L416.4 311L414.5 311L412.4 311.1L410.4 311.4L408.4 311.8M428.2 315.7L427.1 314.6L425.9 313.6L424.5 312.8L423.1 312.1L421.5 311.5L419.8 311.1L418 310.8L416.2 310.7L414.3 310.7L412.3 311L410.4 311.3L408.4 311.8M426.5 313.9L425.3 313L424 312.2L422.6 311.5L421 311L419.4 310.6L417.7 310.4L415.9 310.4L414.1 310.5L412.2 310.8L410.3 311.2L408.4 311.8M425.8 313.2L424.7 312.3L423.4 311.6L422 311L420.6 310.5L419 310.2L417.4 310.1L415.6 310.1L413.9 310.3L412.1 310.7L410.2 311.2L408.4 311.8M423.9 311.7L422.7 311L421.4 310.5L420 310.1L418.5 309.8L417 309.8L415.3 309.8L413.6 310.1L411.9 310.5L410.1 311.1L408.4 311.8M423.2 311.1L422 310.5L420.8 310L419.5 309.6L418 309.4L416.5 309.4L415 309.6L413.4 309.9L411.7 310.4L410 311L408.4 311.8M421.3 310L420.1 309.5L418.8 309.2L417.5 309.1L416.1 309.1L414.6 309.3L413.1 309.7L411.5 310.3L410 311L408.4 311.8M420.5 309.5L419.4 309.1L418.2 308.8L416.9 308.8L415.6 308.8L414.2 309.1L412.8 309.5L411.3 310.1L409.9 310.9L408.4 311.8M419.6 309L418.6 308.7L417.5 308.5L416.3 308.4L415.1 308.6L413.8 308.9L412.5 309.4L411.1 310L409.7 310.9L408.4 311.8M417.7 308.3L416.7 308.1L415.7 308.1L414.5 308.3L413.4 308.7L412.1 309.2L410.9 309.9L409.6 310.8L408.4 311.8M416.9 308L416 307.8L415 307.9L414 308.1L412.9 308.5L411.8 309.1L410.7 309.8L409.5 310.8L408.4 311.8M416 307.6L415.2 307.5L414.3 307.6L413.4 307.9L412.4 308.3L411.4 309L410.4 309.8L409.4 310.7L408.4 311.8M415.1 307.4L414.3 307.3L413.6 307.4L412.8 307.7L411.9 308.2L411.1 308.9L410.2 309.7L409.3 310.7L408.4 311.8M414.1 307.1L413.5 307.1L412.8 307.2L412.1 307.6L411.4 308.1L410.7 308.8L409.9 309.6L409.1 310.6L408.4 311.8M412.6 306.9L412.1 307.1L411.5 307.4L410.9 308L410.3 308.7L409.7 309.6L409 310.6L408.4 311.8M411.7 306.8L411.3 306.9L410.8 307.3L410.4 307.9L409.9 308.6L409.4 309.5L408.9 310.6L408.4 311.8M410.8 306.6L410.5 306.8L410.2 307.2L409.8 307.8L409.5 308.6L409.1 309.5L408.7 310.6L408.4 311.8M409.9 306.6L409.7 306.8L409.5 307.2L409.3 307.8L409.1 308.5L408.8 309.5L408.6 310.6L408.4 311.8M409 306.5L408.9 306.7L408.8 307.1L408.7 307.7L408.7 308.5L408.6 309.4L408.5 310.6L408.4 311.8M408.1 306.5L408.1 306.7L408.2 307.1L408.2 307.7L408.2 308.5L408.3 309.4L408.3 310.6L408.4 311.8M407.2 306.5L407.3 306.8L407.5 307.2L407.7 307.7L407.8 308.5L408 309.5L408.2 310.6L408.4 311.8M406.3 306.6L406.5 306.8L406.8 307.2L407.1 307.8L407.4 308.5L407.7 309.5L408 310.6L408.4 311.8M405.4 306.7L405.7 306.9L406.1 307.3L406.6 307.8L407 308.6L407.4 309.5L407.9 310.6L408.4 311.8M404.5 306.8L405 307L405.5 307.4L406 307.9L406.6 308.6L407.2 309.5L407.8 310.6L408.4 311.8M403.6 307L404.2 307.1L404.8 307.5L405.5 308L406.2 308.7L406.9 309.6L407.6 310.6L408.4 311.8M402 307.2L402.7 307.2L403.4 307.3L404.2 307.6L405 308.1L405.8 308.8L406.7 309.6L407.5 310.7L408.4 311.8M401.1 307.5L401.9 307.4L402.7 307.5L403.6 307.8L404.5 308.3L405.4 308.9L406.4 309.7L407.4 310.7L408.4 311.8M400.2 307.8L401.1 307.7L402 307.7L403 308L404 308.4L405.1 309L406.2 309.8L407.3 310.7L408.4 311.8M399.3 308.1L400.3 308L401.3 308L402.4 308.2L403.6 308.6L404.7 309.2L405.9 309.9L407.1 310.8L408.4 311.8M398.5 308.5L399.5 308.3L400.7 308.3L401.9 308.4L403.1 308.8L404.4 309.3L405.7 310L407 310.8L408.4 311.8M396.6 309.2L397.7 308.8L398.8 308.6L400.1 308.6L401.3 308.7L402.7 309L404.1 309.5L405.5 310.1L406.9 310.9L408.4 311.8M395.8 309.7L396.9 309.3L398.2 309L399.5 308.9L400.8 309L402.3 309.2L403.8 309.6L405.3 310.2L406.8 310.9L408.4 311.8M395 310.2L396.2 309.7L397.5 309.4L398.9 309.2L400.4 309.3L401.9 309.4L403.5 309.8L405.1 310.3L406.7 311L408.4 311.8M393.1 311.4L394.3 310.7L395.5 310.2L396.9 309.8L398.4 309.6L399.9 309.6L401.5 309.7L403.2 310L404.9 310.4L406.6 311.1L408.4 311.8M392.3 312L393.6 311.3L394.9 310.7L396.4 310.3L397.9 310L399.5 309.9L401.2 310L402.9 310.2L404.7 310.6L406.5 311.1L408.4 311.8M390.5 313.5L391.7 312.6L393 311.8L394.4 311.2L395.9 310.7L397.5 310.4L399.2 310.2L400.9 310.2L402.7 310.4L404.6 310.7L406.5 311.2L408.4 311.8M389.9 314.2L391.1 313.3L392.4 312.4L393.9 311.7L395.4 311.2L397.1 310.8L398.8 310.6L400.6 310.5L402.5 310.6L404.4 310.9L406.4 311.3L408.4 311.8M388.2 316.1L389.3 314.9L390.5 313.9L391.9 313L393.4 312.3L395 311.7L396.7 311.3L398.5 311L400.4 310.8L402.3 310.8L404.3 311L406.3 311.3L408.4 311.8M386.7 318.1L387.7 316.9L388.8 315.7L390.1 314.6L391.5 313.7L393 312.9L394.7 312.2L396.4 311.7L398.3 311.3L400.2 311.1L402.2 311.1L404.2 311.2L406.3 311.4L408.4 311.8M386.3 319L387.2 317.6L388.4 316.4L389.7 315.3L391.1 314.3L392.7 313.5L394.4 312.7L396.2 312.2L398.1 311.7L400 311.4L402 311.3L404.1 311.3L406.2 311.5L408.4 311.8M385 321.3L385.9 319.8L386.9 318.5L388 317.2L389.4 316L390.8 315L392.4 314.1L394.1 313.3L396 312.6L397.9 312.1L399.9 311.8L401.9 311.6L404.1 311.5L406.2 311.6L408.4 311.8M384.1 323.7L384.7 322.2L385.6 320.7L386.6 319.3L387.8 318L389.1 316.8L390.6 315.7L392.2 314.7L393.9 313.8L395.8 313.1L397.7 312.5L399.8 312.1L401.9 311.8L404 311.7L406.2 311.7L408.4 311.8M383.4 326.3L383.9 324.6L384.5 323.1L385.4 321.5L386.4 320.1L387.6 318.8L388.9 317.5L390.4 316.3L392.1 315.3L393.8 314.4L395.7 313.6L397.6 312.9L399.7 312.4L401.8 312L404 311.8L406.2 311.8L408.4 311.8M383 328.9L383.3 327.2L383.8 325.6L384.4 324L385.3 322.4L386.3 320.9L387.5 319.5L388.8 318.2L390.3 317L392 315.9L393.7 314.9L395.6 314.1L397.6 313.3L399.6 312.7L401.8 312.3L403.9 312L406.1 311.8L408.4 311.8M382.9 331.6L383 329.9L383.3 328.2L383.7 326.5L384.4 324.9L385.3 323.3L386.3 321.8L387.5 320.3L388.8 319L390.3 317.7L392 316.5L393.7 315.5L395.6 314.6L397.6 313.7L399.6 313.1L401.8 312.5L403.9 312.2L406.1 311.9L408.4 311.8M383 334.2L382.9 332.6L383 330.8L383.3 329.1L383.8 327.5L384.5 325.8L385.3 324.2L386.3 322.6L387.5 321.1L388.9 319.7L390.4 318.4L392 317.2L393.8 316L395.7 315L397.6 314.2L399.7 313.4L401.8 312.8L403.9 312.3L406.1 312L408.4 311.8M383.5 336.9L383.2 335.2L383.1 333.5L383.2 331.8L383.5 330.1L384 328.4L384.6 326.7L385.5 325.1L386.5 323.5L387.7 321.9L389 320.5L390.5 319.1L392.1 317.8L393.9 316.6L395.7 315.5L397.7 314.6L399.7 313.7L401.8 313L404 312.5L406.2 312.1L408.4 311.8M383.8 337.8L383.5 336.2L383.4 334.5L383.5 332.8L383.8 331L384.3 329.3L384.9 327.6L385.7 325.9L386.7 324.3L387.9 322.7L389.2 321.2L390.7 319.7L392.3 318.4L394 317.1L395.9 316L397.8 315L399.8 314.1L401.9 313.3L404 312.7L406.2 312.2L408.4 311.8M384.6 340.3L384.2 338.7L383.9 337.1L383.8 335.4L383.9 333.7L384.2 332L384.6 330.2L385.3 328.5L386.1 326.8L387.1 325.1L388.2 323.5L389.5 321.9L391 320.4L392.6 319L394.3 317.7L396.1 316.5L398 315.4L400 314.4L402 313.5L404.1 312.8L406.2 312.3L408.4 311.8M385.7 342.7L385.1 341.2L384.6 339.7L384.3 338L384.3 336.3L384.3 334.6L384.6 332.9L385.1 331.1L385.7 329.4L386.5 327.6L387.5 325.9L388.6 324.2L389.9 322.6L391.3 321.1L392.9 319.6L394.5 318.2L396.3 316.9L398.2 315.8L400.1 314.7L402.1 313.8L404.2 313L406.3 312.3L408.4 311.8M387 345L386.2 343.6L385.6 342.1L385.2 340.6L384.9 338.9L384.8 337.2L384.9 335.5L385.2 333.8L385.6 332L386.2 330.2L387 328.4L388 326.7L389.1 325L390.3 323.3L391.7 321.7L393.2 320.2L394.9 318.7L396.6 317.4L398.4 316.1L400.3 315L402.3 314L404.3 313.1L406.3 312.4L408.4 311.8M387.6 345.8L386.9 344.4L386.3 343L385.8 341.4L385.6 339.8L385.5 338.1L385.6 336.4L385.8 334.6L386.3 332.8L386.9 331L387.6 329.2L388.6 327.5L389.6 325.7L390.8 324L392.2 322.3L393.7 320.7L395.2 319.2L396.9 317.8L398.7 316.5L400.5 315.3L402.4 314.2L404.4 313.3L406.4 312.5L408.4 311.8M389.2 347.7L388.3 346.5L387.6 345.2L387 343.8L386.6 342.3L386.3 340.7L386.2 339L386.3 337.3L386.6 335.5L387 333.7L387.6 331.8L388.3 330L389.2 328.2L390.2 326.4L391.4 324.6L392.7 322.9L394.1 321.3L395.7 319.7L397.3 318.3L399 316.9L400.8 315.6L402.6 314.5L404.5 313.4L406.4 312.6L408.4 311.8M389.9 348.5L389.1 347.3L388.4 346L387.8 344.6L387.4 343.1L387.2 341.5L387.1 339.8L387.2 338.1L387.4 336.3L387.8 334.5L388.4 332.6L389.1 330.8L389.9 328.9L390.9 327.1L392.1 325.3L393.3 323.5L394.7 321.8L396.2 320.2L397.7 318.7L399.4 317.2L401.1 315.9L402.9 314.7L404.7 313.6L406.5 312.6L408.4 311.8M391.7 350.1L390.7 349.1L389.9 348L389.2 346.7L388.7 345.4L388.3 343.9L388.1 342.3L388 340.6L388.1 338.9L388.3 337.1L388.7 335.2L389.2 333.4L389.9 331.5L390.7 329.6L391.7 327.7L392.8 325.9L394 324.1L395.3 322.3L396.7 320.7L398.2 319.1L399.8 317.6L401.4 316.2L403.1 314.9L404.8 313.7L406.6 312.7L408.4 311.8M392.5 350.8L391.6 349.8L390.8 348.7L390.2 347.5L389.7 346.1L389.3 344.6L389.1 343L389 341.4L389.1 339.6L389.3 337.8L389.7 336L390.2 334.1L390.8 332.2L391.6 330.3L392.5 328.4L393.5 326.5L394.7 324.6L395.9 322.8L397.3 321.1L398.7 319.4L400.2 317.9L401.7 316.4L403.4 315.1L405 313.9L406.7 312.8L408.4 311.8M394.4 352.1L393.4 351.4L392.5 350.4L391.8 349.3L391.2 348.1L390.7 346.8L390.4 345.3L390.2 343.8L390.1 342.1L390.2 340.3L390.4 338.5L390.7 336.7L391.2 334.8L391.8 332.8L392.5 330.9L393.4 328.9L394.4 327L395.4 325.1L396.6 323.3L397.9 321.5L399.2 319.8L400.6 318.2L402.1 316.7L403.6 315.3L405.2 314L406.8 312.8L408.4 311.8M395.3 352.7L394.3 351.9L393.5 351L392.9 350L392.3 348.8L391.8 347.4L391.5 346L391.3 344.4L391.3 342.8L391.3 341L391.5 339.2L391.8 337.3L392.3 335.4L392.9 333.4L393.5 331.5L394.3 329.5L395.3 327.5L396.3 325.6L397.4 323.7L398.5 321.9L399.8 320.1L401.1 318.5L402.5 316.9L403.9 315.4L405.4 314.1L406.9 312.9L408.4 311.8M396.2 353.1L395.3 352.4L394.6 351.6L394 350.5L393.4 349.4L393 348L392.7 346.6L392.5 345.1L392.5 343.4L392.5 341.6L392.7 339.8L393 337.9L393.4 336L394 334L394.6 332L395.3 330L396.2 328L397.1 326.1L398.1 324.1L399.2 322.3L400.4 320.5L401.6 318.7L402.9 317.1L404.2 315.6L405.6 314.2L407 313L408.4 311.8M398 354.1L397.2 353.6L396.4 352.9L395.7 352.1L395.1 351.1L394.6 349.9L394.3 348.6L394 347.2L393.8 345.6L393.8 344L393.8 342.2L394 340.4L394.3 338.5L394.6 336.5L395.1 334.5L395.7 332.5L396.4 330.5L397.2 328.5L398 326.5L399 324.5L400 322.6L401.1 320.8L402.2 319L403.4 317.3L404.6 315.8L405.8 314.3L407.1 313L408.4 311.8M399 354.5L398.2 354L397.5 353.3L396.9 352.5L396.3 351.5L395.9 350.4L395.5 349.1L395.3 347.7L395.1 346.2L395.1 344.5L395.1 342.8L395.3 340.9L395.5 339L395.9 337L396.3 335L396.9 333L397.5 330.9L398.2 328.9L399 326.8L399.8 324.8L400.8 322.9L401.7 321L402.8 319.2L403.8 317.5L404.9 315.9L406.1 314.4L407.2 313L408.4 311.8M400 354.8L399.3 354.4L398.6 353.7L398.1 352.9L397.6 352L397.2 350.9L396.9 349.6L396.7 348.2L396.5 346.6L396.5 345L396.5 343.2L396.7 341.4L396.9 339.5L397.2 337.5L397.6 335.5L398.1 333.4L398.6 331.3L399.3 329.2L400 327.2L400.7 325.2L401.6 323.2L402.4 321.3L403.3 319.4L404.3 317.7L405.3 316L406.3 314.5L407.3 313.1L408.4 311.8M401 355.1L400.4 354.7L399.8 354.1L399.3 353.3L398.9 352.4L398.6 351.3L398.3 350L398.1 348.6L398 347.1L397.9 345.4L398 343.7L398.1 341.8L398.3 339.9L398.6 337.9L398.9 335.8L399.3 333.8L399.8 331.7L400.4 329.6L401 327.5L401.7 325.4L402.4 323.4L403.1 321.5L404 319.6L404.8 317.8L405.7 316.1L406.5 314.6L407.5 313.1L408.4 311.8M402 355.4L401.5 355L401 354.4L400.6 353.6L400.3 352.7L400 351.6L399.7 350.4L399.5 349L399.4 347.4L399.4 345.8L399.4 344L399.5 342.2L399.7 340.2L400 338.2L400.3 336.2L400.6 334.1L401 332L401.5 329.9L402 327.8L402.6 325.7L403.2 323.6L403.9 321.7L404.6 319.8L405.3 317.9L406 316.2L406.8 314.6L407.6 313.2L408.4 311.8M403.6 355.8L403.1 355.6L402.7 355.2L402.3 354.7L401.9 353.9L401.6 353L401.4 351.9L401.2 350.7L401 349.3L401 347.8L400.9 346.1L401 344.4L401 342.5L401.2 340.6L401.4 338.5L401.6 336.5L401.9 334.4L402.3 332.2L402.7 330.1L403.1 328L403.6 325.9L404.1 323.8L404.6 321.8L405.2 319.9L405.8 318L406.4 316.3L407.1 314.7L407.7 313.2L408.4 311.8M404.6 356L404.2 355.8L403.9 355.4L403.5 354.9L403.3 354.1L403 353.2L402.8 352.1L402.7 350.9L402.6 349.5L402.5 348L402.5 346.4L402.5 344.6L402.6 342.7L402.7 340.8L402.8 338.8L403 336.7L403.3 334.6L403.5 332.4L403.9 330.3L404.2 328.2L404.6 326L405 324L405.4 321.9L405.9 320L406.3 318.1L406.8 316.4L407.3 314.7L407.8 313.2L408.4 311.8M405.6 356.1L405.3 355.9L405.1 355.6L404.8 355L404.6 354.3L404.5 353.4L404.3 352.3L404.2 351.1L404.1 349.7L404.1 348.2L404 346.6L404.1 344.8L404.1 342.9L404.2 341L404.3 339L404.5 336.9L404.6 334.8L404.8 332.6L405.1 330.5L405.3 328.3L405.6 326.2L405.9 324.1L406.2 322L406.5 320.1L406.9 318.2L407.2 316.4L407.6 314.8L408 313.2L408.4 311.8M406.6 356.2L406.4 356L406.3 355.7L406.1 355.1L406 354.4L405.9 353.5L405.8 352.5L405.7 351.2L405.7 349.9L405.6 348.4L405.6 346.7L405.6 344.9L405.7 343.1L405.7 341.1L405.8 339.1L405.9 337L406 334.9L406.1 332.7L406.3 330.6L406.4 328.4L406.6 326.3L406.8 324.2L407 322.1L407.2 320.1L407.4 318.3L407.7 316.5L407.9 314.8L408.1 313.2L408.4 311.8M407.6 356.2L407.6 356.1L407.5 355.7L407.4 355.2L407.4 354.5L407.3 353.6L407.3 352.5L407.3 351.3L407.2 349.9L407.2 348.4L407.2 346.8L407.2 345L407.2 343.2L407.3 341.2L407.3 339.2L407.3 337.1L407.4 334.9L407.4 332.8L407.5 330.6L407.6 328.5L407.6 326.3L407.7 324.2L407.8 322.2L407.9 320.2L408 318.3L408.1 316.5L408.2 314.8L408.3 313.2L408.4 311.8M408.7 356.3L408.7 356.1L408.7 355.8L408.7 355.2L408.8 354.5L408.8 353.6L408.8 352.6L408.8 351.3L408.8 350L408.8 348.4L408.8 346.8L408.8 345L408.8 343.2L408.8 341.2L408.8 339.2L408.8 337.1L408.8 335L408.7 332.8L408.7 330.6L408.7 328.5L408.7 326.3L408.6 324.2L408.6 322.2L408.6 320.2L408.5 318.3L408.5 316.5L408.4 314.8L408.4 313.2L408.4 311.8M409.7 356.2L409.8 356.1L409.9 355.7L410.1 355.2L410.2 354.5L410.2 353.6L410.3 352.5L410.4 351.3L410.4 349.9L410.4 348.4L410.4 346.8L410.4 345L410.4 343.1L410.4 341.2L410.3 339.1L410.2 337.1L410.2 334.9L410.1 332.8L409.9 330.6L409.8 328.4L409.7 326.3L409.5 324.2L409.4 322.1L409.2 320.2L409.1 318.3L408.9 316.5L408.7 314.8L408.5 313.2L408.4 311.8M410.7 356.2L411 356L411.2 355.6L411.4 355.1L411.5 354.4L411.7 353.5L411.8 352.4L411.9 351.2L412 349.8L412 348.3L412 346.7L412 344.9L412 343L411.9 341.1L411.8 339L411.7 337L411.5 334.8L411.4 332.7L411.2 330.5L411 328.4L410.7 326.2L410.5 324.1L410.2 322.1L409.9 320.1L409.6 318.2L409.3 316.5L409 314.8L408.7 313.2L408.4 311.8M411.7 356.1L412.1 355.9L412.4 355.5L412.7 355L412.9 354.2L413.1 353.3L413.3 352.3L413.4 351L413.5 349.7L413.6 348.1L413.6 346.5L413.6 344.7L413.5 342.9L413.4 340.9L413.3 338.9L413.1 336.8L412.9 334.7L412.7 332.5L412.4 330.4L412.1 328.2L411.7 326.1L411.4 324L411 322L410.6 320L410.2 318.2L409.7 316.4L409.3 314.8L408.8 313.2L408.4 311.8M412.7 355.9L413.2 355.7L413.6 355.3L413.9 354.8L414.2 354L414.5 353.1L414.7 352L414.9 350.8L415.1 349.4L415.1 347.9L415.2 346.3L415.1 344.5L415.1 342.6L414.9 340.7L414.7 338.7L414.5 336.6L414.2 334.5L413.9 332.4L413.6 330.2L413.2 328.1L412.7 326L412.3 323.9L411.8 321.9L411.2 320L410.7 318.1L410.1 316.3L409.5 314.7L409 313.2L408.4 311.8M413.7 355.7L414.2 355.5L414.7 355.1L415.2 354.5L415.6 353.8L415.9 352.9L416.2 351.8L416.4 350.5L416.6 349.2L416.7 347.6L416.7 346L416.7 344.2L416.6 342.4L416.4 340.4L416.2 338.4L415.9 336.4L415.6 334.3L415.2 332.1L414.7 330L414.2 327.9L413.7 325.8L413.1 323.7L412.5 321.8L411.9 319.8L411.2 318L410.5 316.3L409.8 314.7L409.1 313.2L408.4 311.8M415.3 355.3L415.9 354.9L416.4 354.3L416.9 353.5L417.3 352.6L417.6 351.5L417.8 350.2L418 348.8L418.1 347.3L418.2 345.6L418.1 343.9L418 342L417.8 340.1L417.6 338.1L417.3 336L416.9 334L416.4 331.9L415.9 329.7L415.3 327.6L414.7 325.6L414 323.5L413.3 321.6L412.5 319.7L411.7 317.9L410.9 316.2L410.1 314.6L409.2 313.1L408.4 311.8M416.3 355L417 354.6L417.6 353.9L418.1 353.2L418.6 352.2L419 351.1L419.3 349.8L419.5 348.4L419.6 346.9L419.6 345.2L419.6 343.5L419.5 341.6L419.3 339.7L419 337.7L418.6 335.7L418.1 333.6L417.6 331.5L417 329.4L416.3 327.4L415.6 325.3L414.8 323.3L414 321.4L413.1 319.5L412.2 317.8L411.3 316.1L410.3 314.5L409.3 313.1L408.4 311.8" stroke="#000" stroke-width="0.5" stroke-opacity="0.3" fill="none"/>
<path d="M384.1 324.9L384.1 338.7M385.5 321.9L385.5 342.1M387 319.8L387 344.5M388.4 318.1L388.4 346.4M389.9 316.7L389.9 348M391.3 315.6L391.3 349.3M392.8 314.6L392.8 350.5M394.2 313.7L394.2 351.5M395.7 312.9L395.7 352.3M397.1 312.3L397.1 353M398.6 311.7L398.6 353.7M400 311.3L400 354.2M401.5 310.9L401.5 354.6M402.9 310.6L402.9 355M404.4 310.4L404.4 355.2M405.8 310.2L405.8 355.4M407.3 310.1L407.3 355.5M408.7 310.1L408.7 355.5M410.2 310.2L410.2 355.5M411.6 310.3L411.6 355.3M413.1 310.5L413.1 355.1M414.5 310.7L414.5 354.8M416 311.1L416 354.4M417.4 311.5L417.4 354M418.9 312L418.9 353.4M420.3 312.6L420.3 352.7M421.8 313.3L421.8 351.9M423.2 314.1L423.2 351M424.7 315L424.7 349.9M426.1 316.1L426.1 348.7M427.6 317.4L427.6 347.3M429 318.9L429 345.5M430.5 320.8L430.5 343.4M431.9 323.2L431.9 340.6" stroke="#000" stroke-width="0.6" stroke-opacity="0.26" fill="none"/>
<ellipse cx="408.4" cy="311.8" rx="7.6" ry="3.2" fill="url(#sp39)"/>
<path d="M430.7 296.1L430.7 356.9A12.9 7.7 0 0 0 456.5 356.9L456.5 296.1Z" fill="url(#cg40)" stroke="#10103a" stroke-width="0.6"/>
<path d="M450.1 302.8L450.1 363.6M451.6 302.2L451.6 363M452.9 301.4L452.9 362.2M454.1 300.6L454.1 361.4M455.1 299.6L455.1 360.5M455.8 298.6L455.8 359.4M456.3 297.6L456.3 358.4M456.5 296.5L456.5 357.3M430.8 296.7L430.8 357.5M431.1 297.8L431.1 358.6M431.6 298.9L431.6 359.7M432.4 299.9L432.4 360.7M433.4 300.8L433.4 361.6M434.7 301.6L434.7 362.4M436.1 302.3L436.1 363.1M437.7 302.9L437.7 363.7M439.4 303.3L439.4 364.1M441.1 303.6L441.1 364.4M443 303.8L443 364.6M444.8 303.7L444.8 364.6M446.6 303.6L446.6 364.4M448.4 303.2L448.4 364.1" stroke="#000" stroke-width="0.45" stroke-opacity="0.4" fill="none"/>
<path d="M430.7 296.1L430.7 356.9A12.9 7.7 0 0 0 456.5 356.9L456.5 296.1Z" fill="url(#cs41)"/>
<path d="M450.1 302.8L451.5 302.2L452.7 301.5L453.8 300.8L454.8 300L455.5 299.1L456.1 298.1L456.4 297.1L456.5 296.1L456.4 295.1L456.1 294.1L455.6 293.1L454.8 292.2L453.9 291.4L452.8 290.6L451.5 290L450.1 289.4L448.6 288.9L447 288.6L445.3 288.4L443.7 288.3L442 288.4L440.3 288.6L438.7 288.9L437.2 289.3L435.8 289.9L434.5 290.6L433.4 291.3L432.5 292.1L431.7 293L431.2 294L430.8 295L430.7 296L430.8 297L431.1 298L431.7 299L432.4 299.9L433.4 300.7L434.5 301.5L435.7 302.1L437.1 302.7L438.6 303.2L440.2 303.5L441.9 303.7L443.6 303.8L445.3 303.7L446.9 303.5L448.5 303.2Z" fill="#0a80f8" stroke="#0a1020" stroke-width="0.7"/>
<ellipse cx="398.8" cy="352.4" rx="25.5" ry="24.9" fill="url(#sg42)" stroke="#000" stroke-width="1.0"/>
<ellipse cx="398.8" cy="352.4" rx="25.5" ry="24.9" fill="url(#sr43)"/>
<path d="M407.8 375.7L408.5 375.3L409.2 374.6L409.8 373.8L410.3 372.8L410.8 371.7L411.1 370.4L411.3 369L411.5 367.5L411.5 365.8L411.5 364.1L411.3 362.2L411.1 360.3L410.8 358.3L410.3 356.3L409.8 354.3L409.2 352.2L408.5 350.1L407.8 348.1L407 346.1L406.1 344.1L405.2 342.2L404.2 340.4L403.2 338.6L402.1 337L401 335.5L399.9 334.1L398.8 332.9M408.8 375.4L409.6 374.9L410.3 374.2L411 373.4L411.6 372.4L412 371.2L412.4 369.9L412.7 368.5L412.8 367L412.9 365.3L412.8 363.6L412.7 361.7L412.4 359.8L412 357.9L411.6 355.9L411 353.8L410.3 351.8L409.6 349.7L408.8 347.7L407.9 345.7L406.9 343.8L405.8 341.9L404.8 340.2L403.6 338.5L402.5 336.9L401.3 335.4L400 334.1L398.8 332.9M409.7 375L410.6 374.4L411.4 373.7L412.1 372.9L412.7 371.9L413.3 370.7L413.7 369.4L414 368L414.1 366.4L414.2 364.8L414.1 363L414 361.2L413.7 359.3L413.3 357.3L412.7 355.4L412.1 353.3L411.4 351.3L410.6 349.3L409.7 347.3L408.7 345.4L407.6 343.5L406.5 341.7L405.3 339.9L404.1 338.3L402.8 336.7L401.5 335.3L400.2 334L398.8 332.9M411.5 374L412.4 373.2L413.2 372.4L413.9 371.3L414.4 370.1L414.9 368.8L415.2 367.4L415.4 365.8L415.4 364.2L415.4 362.4L415.2 360.6L414.9 358.7L414.4 356.8L413.9 354.8L413.2 352.8L412.4 350.8L411.5 348.9L410.6 346.9L409.5 345L408.4 343.1L407.1 341.4L405.8 339.7L404.5 338.1L403.1 336.6L401.7 335.2L400.3 334L398.8 332.9M412.5 373.5L413.4 372.7L414.2 371.8L414.9 370.7L415.5 369.5L416 368.2L416.3 366.7L416.5 365.2L416.6 363.5L416.5 361.8L416.3 360L416 358.1L415.5 356.2L414.9 354.2L414.2 352.3L413.4 350.3L412.5 348.4L411.4 346.4L410.3 344.6L409 342.8L407.7 341L406.3 339.4L404.9 337.8L403.4 336.4L401.9 335.1L400.4 333.9L398.8 332.9M413.3 372.9L414.3 372.1L415.2 371.2L416 370.1L416.6 368.9L417.1 367.5L417.4 366.1L417.7 364.5L417.7 362.8L417.7 361.1L417.4 359.3L417.1 357.4L416.6 355.5L416 353.6L415.2 351.7L414.3 349.7L413.3 347.8L412.2 346L411 344.1L409.7 342.4L408.3 340.7L406.8 339.1L405.3 337.6L403.7 336.2L402.1 335L400.5 333.9L398.8 332.9M415.2 371.5L416.1 370.6L416.9 369.4L417.6 368.2L418.1 366.8L418.5 365.3L418.7 363.7L418.8 362.1L418.7 360.3L418.5 358.5L418.1 356.7L417.6 354.8L416.9 352.9L416.1 351L415.2 349.1L414.1 347.3L412.9 345.4L411.6 343.7L410.3 342L408.8 340.3L407.2 338.8L405.6 337.4L404 336L402.3 334.8L400.6 333.8L398.8 332.9M415.9 370.9L416.9 369.9L417.8 368.7L418.5 367.5L419 366.1L419.4 364.6L419.6 363L419.7 361.3L419.6 359.6L419.4 357.8L419 355.9L418.5 354.1L417.8 352.2L416.9 350.3L415.9 348.5L414.8 346.7L413.6 344.9L412.3 343.2L410.8 341.5L409.3 339.9L407.7 338.5L406 337.1L404.2 335.8L402.4 334.7L400.6 333.7L398.8 332.9M417.7 369.2L418.6 368L419.3 366.7L419.9 365.3L420.3 363.8L420.5 362.2L420.6 360.5L420.5 358.8L420.3 357L419.9 355.2L419.3 353.3L418.6 351.5L417.7 349.6L416.7 347.8L415.5 346L414.2 344.3L412.8 342.6L411.3 341L409.7 339.5L408 338.1L406.3 336.8L404.5 335.6L402.6 334.6L400.7 333.6L398.8 332.9M418.4 368.5L419.3 367.2L420 365.9L420.6 364.5L421 362.9L421.3 361.3L421.4 359.7L421.3 357.9L421 356.2L420.6 354.4L420 352.5L419.3 350.7L418.4 348.9L417.3 347.1L416.1 345.4L414.8 343.7L413.3 342.1L411.8 340.6L410.1 339.1L408.4 337.8L406.5 336.5L404.7 335.4L402.7 334.4L400.8 333.6L398.8 332.9M419.9 366.4L420.7 365.1L421.3 363.6L421.7 362.1L422 360.5L422.1 358.8L422 357.1L421.7 355.3L421.3 353.5L420.7 351.7L419.9 349.9L419 348.2L417.9 346.4L416.6 344.7L415.3 343.1L413.8 341.5L412.2 340.1L410.5 338.7L408.7 337.4L406.8 336.2L404.8 335.2L402.9 334.3L400.8 333.5L398.8 332.9M421.3 364.2L421.9 362.8L422.3 361.2L422.6 359.6L422.7 357.9L422.6 356.2L422.3 354.4L421.9 352.6L421.3 350.9L420.5 349.1L419.5 347.4L418.4 345.7L417.1 344L415.7 342.5L414.2 341L412.5 339.5L410.8 338.2L408.9 337L407 335.9L405 335L403 334.1L400.9 333.4L398.8 332.9M421.7 363.4L422.4 361.9L422.8 360.3L423.1 358.7L423.2 357L423.1 355.3L422.8 353.5L422.4 351.8L421.7 350L420.9 348.3L419.9 346.6L418.8 344.9L417.5 343.3L416.1 341.8L414.5 340.4L412.8 339L411 337.8L409.1 336.6L407.2 335.6L405.1 334.7L403.1 334L400.9 333.3L398.8 332.9M422.8 361L423.3 359.4L423.5 357.7L423.6 356L423.5 354.3L423.3 352.6L422.8 350.9L422.1 349.1L421.3 347.4L420.3 345.8L419.1 344.2L417.8 342.6L416.4 341.2L414.8 339.8L413.1 338.5L411.2 337.3L409.3 336.2L407.3 335.3L405.2 334.5L403.1 333.8L401 333.3L398.8 332.9M423.6 358.4L423.9 356.8L424 355.1L423.9 353.4L423.6 351.7L423.1 349.9L422.4 348.2L421.6 346.6L420.6 345L419.4 343.4L418.1 341.9L416.6 340.5L415 339.2L413.2 337.9L411.4 336.8L409.4 335.8L407.4 335L405.3 334.2L403.2 333.6L401 333.2L398.8 332.9M424.1 355.8L424.2 354.1L424.1 352.4L423.8 350.7L423.3 349L422.6 347.3L421.8 345.7L420.8 344.1L419.6 342.6L418.2 341.2L416.7 339.8L415.1 338.5L413.4 337.4L411.5 336.3L409.5 335.4L407.5 334.6L405.4 334L403.2 333.5L401 333.1L398.8 332.9M424.3 353.2L424.2 351.5L423.9 349.8L423.4 348.1L422.8 346.4L421.9 344.8L420.9 343.3L419.7 341.8L418.3 340.4L416.8 339.1L415.2 337.9L413.4 336.8L411.6 335.9L409.6 335L407.5 334.3L405.4 333.7L403.2 333.3L401 333L398.8 332.9M424.2 350.5L423.9 348.8L423.4 347.1L422.8 345.5L421.9 344L420.9 342.5L419.7 341L418.4 339.7L416.8 338.4L415.2 337.3L413.4 336.3L411.6 335.4L409.6 334.6L407.5 334L405.4 333.5L403.2 333.1L401 332.9L398.8 332.9M423.8 347.9L423.4 346.2L422.7 344.6L421.9 343.1L420.8 341.6L419.6 340.2L418.3 338.9L416.8 337.8L415.2 336.7L413.4 335.7L411.5 334.9L409.6 334.2L407.5 333.6L405.4 333.2L403.2 333L401 332.8L398.8 332.9M423.2 345.3L422.5 343.7L421.7 342.2L420.7 340.8L419.5 339.4L418.2 338.2L416.7 337.1L415 336.1L413.3 335.2L411.4 334.4L409.5 333.8L407.5 333.3L405.4 333L403.2 332.8L401 332.8L398.8 332.9M422.9 344.4L422.3 342.8L421.4 341.3L420.4 340L419.3 338.7L417.9 337.5L416.5 336.4L414.9 335.4L413.1 334.6L411.3 333.9L409.4 333.4L407.4 333L405.3 332.7L403.2 332.6L401 332.7L398.8 332.9M421.9 341.9L421.1 340.5L420.1 339.1L419 337.9L417.6 336.8L416.2 335.7L414.6 334.8L412.9 334.1L411.1 333.5L409.2 333L407.2 332.7L405.2 332.5L403.1 332.5L401 332.6L398.8 332.9M420.7 339.6L419.7 338.3L418.6 337.1L417.3 336L415.9 335.1L414.3 334.2L412.6 333.6L410.9 333L409 332.6L407.1 332.3L405.1 332.2L403 332.3L400.9 332.5L398.8 332.9M419.2 337.5L418.1 336.4L416.8 335.3L415.5 334.4L413.9 333.7L412.3 333L410.6 332.5L408.8 332.2L406.9 332L404.9 332L402.9 332.1L400.9 332.4L398.8 332.9M418.6 336.8L417.6 335.7L416.3 334.7L415 333.8L413.5 333.1L411.9 332.5L410.3 332.1L408.5 331.8L406.6 331.7L404.7 331.8L402.8 332L400.8 332.4L398.8 332.9M416.9 335L415.8 334L414.5 333.2L413 332.5L411.5 332L409.9 331.7L408.2 331.5L406.4 331.4L404.5 331.6L402.7 331.8L400.7 332.3L398.8 332.9M416.2 334.3L415.1 333.4L413.9 332.6L412.5 332L411 331.6L409.5 331.3L407.8 331.1L406.1 331.2L404.3 331.3L402.5 331.7L400.7 332.2L398.8 332.9M414.4 332.8L413.2 332.1L411.9 331.5L410.5 331.1L409 330.9L407.4 330.8L405.8 330.9L404.1 331.1L402.4 331.6L400.6 332.1L398.8 332.9M413.6 332.2L412.5 331.5L411.3 331L409.9 330.7L408.5 330.5L407 330.5L405.4 330.6L403.8 330.9L402.2 331.4L400.5 332.1L398.8 332.9M411.7 331L410.6 330.6L409.3 330.3L408 330.1L406.5 330.2L405.1 330.4L403.5 330.8L402 331.3L400.4 332L398.8 332.9M410.9 330.5L409.8 330.1L408.6 329.9L407.4 329.8L406.1 329.9L404.7 330.2L403.2 330.6L401.8 331.2L400.3 332L398.8 332.9M410.1 330.1L409 329.7L407.9 329.5L406.8 329.5L405.5 329.6L404.3 329.9L402.9 330.4L401.6 331.1L400.2 331.9L398.8 332.9M408.2 329.3L407.2 329.2L406.1 329.2L405 329.4L403.8 329.7L402.6 330.3L401.4 331L400.1 331.8L398.8 332.9M407.3 329L406.4 328.9L405.5 328.9L404.4 329.1L403.4 329.6L402.3 330.1L401.1 330.9L400 331.8L398.8 332.9M406.4 328.7L405.6 328.6L404.8 328.7L403.8 328.9L402.9 329.4L401.9 330L400.9 330.8L399.9 331.8L398.8 332.9M405.5 328.4L404.8 328.3L404 328.5L403.2 328.8L402.4 329.2L401.5 329.9L400.6 330.7L399.7 331.7L398.8 332.9M404.6 328.2L404 328.1L403.3 328.3L402.6 328.6L401.9 329.1L401.1 329.8L400.4 330.7L399.6 331.7L398.8 332.9M403.1 327.9L402.5 328.1L402 328.5L401.4 329L400.7 329.7L400.1 330.6L399.5 331.7L398.8 332.9M402.2 327.8L401.8 328L401.3 328.4L400.8 328.9L400.3 329.7L399.8 330.6L399.3 331.6L398.8 332.9M401.3 327.7L401 327.9L400.6 328.3L400.3 328.8L399.9 329.6L399.6 330.5L399.2 331.6L398.8 332.9M400.4 327.6L400.2 327.8L400 328.2L399.8 328.8L399.5 329.6L399.3 330.5L399.1 331.6L398.8 332.9M399.5 327.6L399.4 327.8L399.3 328.2L399.2 328.8L399.1 329.5L399 330.5L398.9 331.6L398.8 332.9M398.5 327.6L398.6 327.8L398.6 328.2L398.7 328.8L398.7 329.5L398.7 330.5L398.8 331.6L398.8 332.9M397.6 327.6L397.8 327.8L397.9 328.2L398.1 328.8L398.3 329.6L398.5 330.5L398.6 331.6L398.8 332.9M396.7 327.6L397 327.8L397.3 328.2L397.6 328.8L397.9 329.6L398.2 330.5L398.5 331.6L398.8 332.9M395.8 327.7L396.2 327.9L396.6 328.3L397 328.9L397.5 329.6L397.9 330.5L398.4 331.6L398.8 332.9M394.9 327.9L395.4 328L395.9 328.4L396.5 329L397.1 329.7L397.6 330.6L398.2 331.6L398.8 332.9M394 328L394.7 328.2L395.3 328.5L396 329.1L396.7 329.8L397.4 330.6L398.1 331.7L398.8 332.9M392.5 328.3L393.2 328.2L393.9 328.4L394.7 328.7L395.5 329.2L396.3 329.8L397.1 330.7L398 331.7L398.8 332.9M391.6 328.5L392.3 328.4L393.2 328.6L394.1 328.8L395 329.3L395.9 329.9L396.9 330.8L397.8 331.7L398.8 332.9M390.7 328.8L391.5 328.7L392.5 328.8L393.5 329L394.5 329.5L395.5 330.1L396.6 330.8L397.7 331.8L398.8 332.9M389.8 329.1L390.8 329L391.8 329L392.9 329.2L394 329.6L395.2 330.2L396.4 330.9L397.6 331.8L398.8 332.9M388.9 329.5L390 329.3L391.1 329.3L392.3 329.5L393.6 329.8L394.8 330.3L396.2 331L397.5 331.9L398.8 332.9M387.1 330.3L388.1 329.9L389.3 329.7L390.5 329.6L391.8 329.7L393.1 330L394.5 330.5L395.9 331.1L397.4 331.9L398.8 332.9M386.2 330.7L387.4 330.3L388.6 330L389.9 329.9L391.3 330L392.7 330.2L394.2 330.7L395.7 331.2L397.3 332L398.8 332.9M385.4 331.2L386.7 330.8L388 330.4L389.4 330.3L390.8 330.3L392.4 330.5L393.9 330.8L395.5 331.4L397.2 332L398.8 332.9M383.5 332.4L384.7 331.8L386 331.2L387.4 330.9L388.8 330.7L390.4 330.6L392 330.7L393.7 331L395.4 331.5L397.1 332.1L398.8 332.9M382.8 333L384 332.3L385.4 331.7L386.8 331.3L388.4 331L390 330.9L391.7 331L393.4 331.2L395.2 331.6L397 332.2L398.8 332.9M381 334.6L382.1 333.7L383.4 332.9L384.8 332.2L386.3 331.8L387.9 331.4L389.6 331.3L391.4 331.3L393.2 331.4L395 331.8L396.9 332.2L398.8 332.9M380.3 335.3L381.5 334.3L382.9 333.5L384.3 332.8L385.9 332.2L387.5 331.9L389.3 331.6L391.1 331.6L393 331.7L394.9 331.9L396.9 332.3L398.8 332.9M378.7 337.1L379.8 336L381 335L382.4 334.1L383.9 333.3L385.5 332.7L387.2 332.3L389 332L390.9 331.9L392.8 331.9L394.8 332.1L396.8 332.4L398.8 332.9M377.2 339.2L378.1 337.9L379.3 336.7L380.5 335.6L381.9 334.7L383.5 333.9L385.1 333.3L386.9 332.7L388.7 332.4L390.7 332.2L392.6 332.1L394.7 332.2L396.7 332.5L398.8 332.9M376.7 340L377.7 338.7L378.8 337.5L380.1 336.4L381.6 335.4L383.1 334.5L384.8 333.8L386.6 333.2L388.5 332.8L390.5 332.5L392.5 332.4L394.6 332.4L396.7 332.5L398.8 332.9M375.5 342.3L376.3 340.9L377.3 339.5L378.5 338.2L379.8 337.1L381.3 336L382.9 335.1L384.6 334.3L386.4 333.7L388.3 333.2L390.3 332.8L392.4 332.6L394.5 332.5L396.7 332.6L398.8 332.9M374.5 344.8L375.2 343.2L376 341.7L377.1 340.3L378.2 339L379.6 337.8L381 336.7L382.7 335.7L384.4 334.9L386.3 334.1L388.2 333.6L390.2 333.1L392.3 332.8L394.5 332.7L396.6 332.7L398.8 332.9M373.9 347.3L374.3 345.7L375 344.1L375.8 342.6L376.9 341.1L378.1 339.8L379.4 338.5L380.9 337.4L382.5 336.3L384.3 335.4L386.1 334.6L388.1 334L390.1 333.5L392.3 333.1L394.4 332.9L396.6 332.8L398.8 332.9M373.4 350L373.7 348.3L374.2 346.6L374.9 345L375.7 343.5L376.8 342L378 340.6L379.3 339.3L380.8 338.1L382.4 337L384.2 336L386.1 335.1L388.1 334.4L390.1 333.8L392.2 333.3L394.4 333L396.6 332.9L398.8 332.9M373.3 352.6L373.4 350.9L373.7 349.2L374.2 347.6L374.9 345.9L375.7 344.3L376.7 342.8L377.9 341.4L379.3 340L380.8 338.7L382.4 337.6L384.2 336.5L386.1 335.6L388 334.8L390.1 334.1L392.2 333.6L394.4 333.2L396.6 333L398.8 332.9M373.5 355.3L373.4 353.6L373.5 351.9L373.8 350.2L374.3 348.5L374.9 346.8L375.8 345.2L376.8 343.7L378 342.2L379.4 340.8L380.8 339.4L382.5 338.2L384.2 337.1L386.1 336.1L388.1 335.2L390.1 334.5L392.2 333.8L394.4 333.4L396.6 333L398.8 332.9M374 357.9L373.7 356.2L373.6 354.6L373.7 352.8L374 351.1L374.4 349.4L375.1 347.7L375.9 346.1L377 344.5L378.1 343L379.5 341.5L381 340.1L382.6 338.8L384.3 337.6L386.2 336.6L388.2 335.6L390.2 334.8L392.3 334.1L394.4 333.5L396.6 333.1L398.8 332.9M374.2 358.9L374 357.2L373.9 355.5L374 353.8L374.2 352.1L374.7 350.3L375.4 348.6L376.2 347L377.2 345.3L378.4 343.7L379.7 342.2L381.2 340.8L382.8 339.4L384.5 338.2L386.3 337L388.3 336L390.3 335.1L392.4 334.3L394.5 333.7L396.6 333.2L398.8 332.9M375.1 361.4L374.6 359.8L374.3 358.1L374.2 356.5L374.3 354.7L374.6 353L375.1 351.3L375.7 349.5L376.5 347.8L377.5 346.1L378.7 344.5L380 342.9L381.4 341.5L383 340L384.7 338.7L386.5 337.5L388.4 336.4L390.4 335.4L392.5 334.6L394.6 333.9L396.7 333.3L398.8 332.9M376.2 363.8L375.5 362.3L375.1 360.7L374.8 359.1L374.7 357.4L374.8 355.7L375.1 353.9L375.5 352.2L376.2 350.4L377 348.7L377.9 346.9L379.1 345.3L380.4 343.7L381.8 342.1L383.3 340.6L385 339.3L386.8 338L388.6 336.8L390.6 335.7L392.6 334.8L394.6 334L396.7 333.4L398.8 332.9M377.5 366L376.7 364.6L376.1 363.1L375.6 361.6L375.4 360L375.3 358.3L375.4 356.6L375.6 354.8L376.1 353L376.7 351.3L377.5 349.5L378.4 347.7L379.5 346L380.8 344.4L382.2 342.7L383.7 341.2L385.3 339.8L387.1 338.4L388.9 337.2L390.8 336.1L392.7 335.1L394.7 334.2L396.8 333.5L398.8 332.9M378.1 366.8L377.3 365.4L376.7 364L376.3 362.5L376 360.8L376 359.2L376 357.4L376.3 355.7L376.7 353.9L377.3 352.1L378.1 350.3L379 348.5L380.1 346.7L381.3 345L382.6 343.4L384.1 341.8L385.7 340.3L387.4 338.9L389.2 337.6L391 336.4L392.9 335.3L394.8 334.3L396.8 333.5L398.8 332.9M379.7 368.8L378.8 367.6L378 366.3L377.5 364.8L377 363.3L376.8 361.7L376.7 360L376.8 358.3L377 356.5L377.5 354.7L378 352.9L378.8 351.1L379.7 349.2L380.7 347.4L381.9 345.7L383.2 344L384.6 342.3L386.1 340.8L387.8 339.3L389.5 337.9L391.3 336.7L393.1 335.5L395 334.5L396.9 333.6L398.8 332.9M380.4 369.5L379.5 368.3L378.8 367L378.3 365.6L377.9 364.1L377.6 362.5L377.5 360.9L377.6 359.1L377.9 357.3L378.3 355.5L378.8 353.7L379.5 351.8L380.4 350L381.4 348.1L382.5 346.3L383.8 344.6L385.1 342.9L386.6 341.2L388.2 339.7L389.8 338.3L391.5 336.9L393.3 335.7L395.1 334.6L397 333.7L398.8 332.9M382.2 371.2L381.2 370.2L380.4 369L379.7 367.8L379.2 366.4L378.8 364.9L378.5 363.3L378.5 361.7L378.5 359.9L378.8 358.1L379.2 356.3L379.7 354.4L380.4 352.5L381.2 350.6L382.2 348.8L383.2 346.9L384.4 345.1L385.7 343.4L387.1 341.7L388.6 340.1L390.2 338.6L391.9 337.2L393.6 335.9L395.3 334.8L397 333.7L398.8 332.9M383 371.8L382.1 370.8L381.3 369.7L380.6 368.5L380.1 367.1L379.8 365.7L379.5 364.1L379.5 362.4L379.5 360.7L379.8 358.9L380.1 357L380.6 355.1L381.3 353.2L382.1 351.3L383 349.4L384 347.5L385.1 345.7L386.4 343.9L387.7 342.1L389.1 340.5L390.6 338.9L392.2 337.5L393.8 336.1L395.5 334.9L397.1 333.8L398.8 332.9M384.8 373.2L383.9 372.4L383 371.5L382.3 370.4L381.7 369.2L381.2 367.8L380.8 366.4L380.6 364.8L380.6 363.1L380.6 361.4L380.8 359.6L381.2 357.7L381.7 355.8L382.3 353.9L383 351.9L383.9 350L384.8 348.1L385.9 346.2L387.1 344.3L388.3 342.6L389.7 340.8L391.1 339.2L392.6 337.7L394.1 336.3L395.6 335L397.2 333.9L398.8 332.9M385.7 373.7L384.8 373L384 372L383.3 371L382.7 369.8L382.3 368.5L382 367L381.8 365.5L381.7 363.8L381.8 362.1L382 360.2L382.3 358.4L382.7 356.4L383.3 354.5L384 352.5L384.8 350.5L385.7 348.6L386.7 346.6L387.8 344.8L389 342.9L390.3 341.2L391.6 339.5L393 337.9L394.4 336.5L395.8 335.1L397.3 333.9L398.8 332.9M386.6 374.2L385.8 373.5L385.1 372.6L384.4 371.6L383.9 370.4L383.5 369.1L383.2 367.6L383 366.1L382.9 364.4L383 362.7L383.2 360.9L383.5 359L383.9 357L384.4 355.1L385.1 353.1L385.8 351.1L386.6 349.1L387.6 347.1L388.6 345.2L389.7 343.3L390.9 341.5L392.1 339.8L393.4 338.2L394.7 336.6L396.1 335.3L397.4 334L398.8 332.9M388.5 375.1L387.6 374.6L386.9 373.9L386.2 373.1L385.6 372.1L385.1 370.9L384.7 369.6L384.4 368.2L384.3 366.7L384.2 365L384.3 363.3L384.4 361.4L384.7 359.5L385.1 357.6L385.6 355.6L386.2 353.6L386.9 351.5L387.6 349.5L388.5 347.5L389.4 345.5L390.4 343.6L391.5 341.8L392.6 340L393.8 338.4L395 336.8L396.3 335.4L397.5 334L398.8 332.9M389.4 375.5L388.7 375L388 374.4L387.3 373.6L386.8 372.6L386.4 371.4L386 370.2L385.8 368.7L385.6 367.2L385.6 365.6L385.6 363.8L385.8 362L386 360L386.4 358.1L386.8 356.1L387.3 354L388 352L388.7 349.9L389.4 347.9L390.3 345.9L391.2 343.9L392.2 342.1L393.2 340.3L394.3 338.5L395.4 336.9L396.5 335.4L397.7 334.1L398.8 332.9M390.4 375.9L389.7 375.4L389.1 374.8L388.5 374L388.1 373L387.7 371.9L387.4 370.6L387.1 369.2L387 367.7L387 366L387 364.3L387.1 362.4L387.4 360.5L387.7 358.5L388.1 356.5L388.5 354.4L389.1 352.4L389.7 350.3L390.4 348.2L391.2 346.2L392 344.2L392.9 342.3L393.8 340.5L394.8 338.7L395.7 337.1L396.8 335.5L397.8 334.1L398.8 332.9M391.4 376.2L390.8 375.7L390.3 375.1L389.8 374.4L389.4 373.4L389 372.3L388.7 371L388.5 369.6L388.4 368.1L388.4 366.5L388.4 364.7L388.5 362.9L388.7 360.9L389 358.9L389.4 356.9L389.8 354.8L390.3 352.7L390.8 350.6L391.4 348.5L392.1 346.5L392.8 344.5L393.6 342.5L394.4 340.6L395.3 338.9L396.1 337.2L397 335.6L397.9 334.2L398.8 332.9M392.5 376.4L392 376L391.5 375.4L391.1 374.7L390.7 373.7L390.4 372.6L390.2 371.4L390 370L389.9 368.5L389.9 366.8L389.9 365.1L390 363.2L390.2 361.3L390.4 359.3L390.7 357.2L391.1 355.1L391.5 353L392 350.9L392.5 348.8L393.1 346.7L393.7 344.7L394.3 342.7L395 340.8L395.8 339L396.5 337.3L397.3 335.7L398 334.2L398.8 332.9M394 376.9L393.6 376.7L393.1 376.3L392.7 375.7L392.4 374.9L392.1 374L391.8 372.9L391.6 371.7L391.5 370.3L391.4 368.8L391.4 367.2L391.4 365.4L391.5 363.5L391.6 361.6L391.8 359.6L392.1 357.5L392.4 355.4L392.7 353.3L393.1 351.1L393.6 349L394 346.9L394.6 344.9L395.1 342.9L395.7 340.9L396.3 339.1L396.9 337.4L397.5 335.7L398.2 334.2L398.8 332.9M395 377L394.7 376.8L394.3 376.5L394 375.9L393.7 375.2L393.5 374.3L393.3 373.2L393.1 372L393 370.6L393 369.1L392.9 367.4L393 365.6L393 363.8L393.1 361.8L393.3 359.8L393.5 357.7L393.7 355.6L394 353.5L394.3 351.3L394.7 349.2L395 347.1L395.4 345L395.9 343L396.3 341L396.8 339.2L397.3 337.4L397.8 335.8L398.3 334.3L398.8 332.9M396 377.1L395.8 377L395.5 376.6L395.3 376.1L395.1 375.3L394.9 374.4L394.8 373.4L394.7 372.1L394.6 370.8L394.5 369.3L394.5 367.6L394.5 365.8L394.6 364L394.7 362L394.8 360L394.9 357.9L395.1 355.8L395.3 353.7L395.5 351.5L395.8 349.3L396 347.2L396.3 345.1L396.7 343.1L397 341.1L397.3 339.2L397.7 337.5L398.1 335.8L398.4 334.3L398.8 332.9M397.1 377.2L396.9 377.1L396.7 376.7L396.6 376.2L396.5 375.5L396.3 374.6L396.3 373.5L396.2 372.3L396.1 370.9L396.1 369.4L396.1 367.7L396.1 366L396.1 364.1L396.2 362.2L396.3 360.1L396.3 358.1L396.5 355.9L396.6 353.8L396.7 351.6L396.9 349.4L397.1 347.3L397.3 345.2L397.5 343.2L397.7 341.2L397.9 339.3L398.1 337.5L398.3 335.8L398.6 334.3L398.8 332.9M398.1 377.3L398 377.1L398 376.8L397.9 376.2L397.8 375.5L397.8 374.6L397.8 373.6L397.7 372.4L397.7 371L397.7 369.5L397.7 367.8L397.7 366.1L397.7 364.2L397.7 362.2L397.8 360.2L397.8 358.1L397.8 356L397.9 353.8L398 351.7L398 349.5L398.1 347.3L398.2 345.2L398.3 343.2L398.3 341.2L398.4 339.3L398.5 337.5L398.6 335.8L398.7 334.3L398.8 332.9M399.1 377.3L399.2 377.1L399.2 376.8L399.2 376.3L399.2 375.5L399.2 374.7L399.3 373.6L399.3 372.4L399.3 371L399.3 369.5L399.3 367.8L399.3 366.1L399.3 364.2L399.3 362.3L399.3 360.2L399.2 358.1L399.2 356L399.2 353.8L399.2 351.7L399.2 349.5L399.1 347.4L399.1 345.3L399.1 343.2L399 341.2L399 339.3L398.9 337.5L398.9 335.8L398.9 334.3L398.8 332.9M400.2 377.3L400.3 377.1L400.4 376.8L400.5 376.2L400.6 375.5L400.7 374.6L400.8 373.6L400.8 372.3L400.9 371L400.9 369.4L400.9 367.8L400.9 366L400.9 364.2L400.8 362.2L400.8 360.2L400.7 358.1L400.6 356L400.5 353.8L400.4 351.6L400.3 349.5L400.2 347.3L400 345.2L399.9 343.2L399.7 341.2L399.5 339.3L399.4 337.5L399.2 335.8L399 334.3L398.8 332.9M401.2 377.2L401.4 377L401.6 376.7L401.8 376.1L402 375.4L402.1 374.5L402.3 373.5L402.4 372.2L402.4 370.9L402.5 369.3L402.5 367.7L402.5 365.9L402.4 364.1L402.4 362.1L402.3 360.1L402.1 358L402 355.9L401.8 353.7L401.6 351.6L401.4 349.4L401.2 347.3L400.9 345.2L400.7 343.1L400.4 341.2L400.1 339.3L399.8 337.5L399.5 335.8L399.1 334.3L398.8 332.9M402.2 377.1L402.5 376.9L402.8 376.6L403.1 376L403.4 375.3L403.6 374.4L403.7 373.3L403.9 372.1L404 370.7L404 369.2L404.1 367.5L404 365.8L404 363.9L403.9 362L403.7 359.9L403.6 357.9L403.4 355.7L403.1 353.6L402.8 351.4L402.5 349.3L402.2 347.2L401.8 345.1L401.4 343L401 341.1L400.6 339.2L400.2 337.4L399.7 335.8L399.3 334.3L398.8 332.9M403.2 377L403.6 376.8L404 376.4L404.4 375.8L404.7 375.1L405 374.2L405.2 373.1L405.4 371.9L405.5 370.5L405.6 368.9L405.6 367.3L405.6 365.5L405.5 363.7L405.4 361.7L405.2 359.7L405 357.6L404.7 355.5L404.4 353.4L404 351.3L403.6 349.1L403.2 347L402.7 344.9L402.2 342.9L401.7 341L401.1 339.1L400.6 337.4L400 335.8L399.4 334.2L398.8 332.9M404.2 376.8L404.7 376.6L405.2 376.2L405.6 375.6L406 374.8L406.4 373.9L406.6 372.8L406.9 371.6L407 370.2L407.1 368.7L407.1 367L407.1 365.3L407 363.4L406.9 361.5L406.6 359.5L406.4 357.4L406 355.3L405.6 353.2L405.2 351L404.7 348.9L404.2 346.8L403.6 344.8L403 342.8L402.3 340.9L401.7 339L401 337.3L400.3 335.7L399.5 334.2L398.8 332.9M405.8 376.3L406.3 375.9L406.9 375.3L407.3 374.5L407.7 373.6L408.1 372.5L408.3 371.3L408.5 369.9L408.6 368.3L408.6 366.7L408.6 364.9L408.5 363.1L408.3 361.1L408.1 359.1L407.7 357.1L407.3 355L406.9 352.9L406.3 350.8L405.8 348.7L405.1 346.6L404.5 344.6L403.7 342.6L403 340.7L402.2 338.9L401.4 337.2L400.5 335.6L399.7 334.2L398.8 332.9M406.8 376L407.5 375.6L408.1 375L408.6 374.2L409 373.2L409.4 372.1L409.7 370.9L409.9 369.5L410.1 367.9L410.1 366.3L410.1 364.5L409.9 362.7L409.7 360.8L409.4 358.8L409 356.7L408.6 354.7L408.1 352.6L407.5 350.5L406.8 348.4L406.1 346.4L405.3 344.4L404.5 342.4L403.6 340.6L402.7 338.8L401.7 337.1L400.8 335.6L399.8 334.2L398.8 332.9" stroke="#000" stroke-width="0.5" stroke-opacity="0.3" fill="none"/>
<path d="M374.5 346L374.5 359.7M376 343L376 363.1M377.4 340.9L377.4 365.5M378.9 339.2L378.9 367.5M380.3 337.8L380.3 369M381.8 336.6L381.8 370.4M383.2 335.6L383.2 371.5M384.7 334.7L384.7 372.5M386.1 334L386.1 373.4M387.6 333.3L387.6 374.1M389 332.8L389 374.7M390.5 332.3L390.5 375.2M391.9 331.9L391.9 375.7M393.4 331.6L393.4 376M394.8 331.4L394.8 376.3M396.3 331.3L396.3 376.4M397.7 331.2L397.7 376.5M399.2 331.2L399.2 376.6M400.6 331.2L400.6 376.5M402.1 331.3L402.1 376.4M403.5 331.5L403.5 376.1M405 331.8L405 375.9M406.4 332.1L406.4 375.5M407.9 332.5L407.9 375M409.3 333L409.3 374.4M410.8 333.6L410.8 373.7M412.2 334.3L412.2 373M413.7 335.1L413.7 372M415.1 336.1L415.1 371M416.6 337.1L416.6 369.8M418 338.4L418 368.3M419.5 339.9L419.5 366.6M420.9 341.8L420.9 364.5M422.4 344.3L422.4 361.7" stroke="#000" stroke-width="0.6" stroke-opacity="0.26" fill="none"/>
<ellipse cx="398.8" cy="332.9" rx="7.6" ry="3.2" fill="url(#sp44)"/>
<ellipse cx="480.5" cy="360.2" rx="25.5" ry="24.9" fill="url(#sg45)" stroke="#000" stroke-width="1.0"/>
<ellipse cx="480.5" cy="360.2" rx="25.5" ry="24.9" fill="url(#sr46)"/>
<path d="M489.5 383.5L490.3 383L490.9 382.4L491.5 381.6L492 380.6L492.5 379.5L492.8 378.2L493 376.8L493.2 375.3L493.2 373.6L493.2 371.9L493 370L492.8 368.1L492.5 366.1L492 364.1L491.5 362.1L490.9 360L490.3 357.9L489.5 355.9L488.7 353.9L487.8 351.9L486.9 350L485.9 348.2L484.9 346.4L483.8 344.8L482.7 343.3L481.6 341.9L480.5 340.7M490.5 383.1L491.3 382.7L492.1 382L492.7 381.2L493.3 380.2L493.8 379L494.1 377.7L494.4 376.3L494.5 374.8L494.6 373.1L494.5 371.4L494.4 369.5L494.1 367.6L493.8 365.7L493.3 363.6L492.7 361.6L492.1 359.6L491.3 357.5L490.5 355.5L489.6 353.5L488.6 351.6L487.6 349.7L486.5 347.9L485.3 346.3L484.2 344.7L483 343.2L481.8 341.9L480.5 340.7M491.4 382.8L492.3 382.2L493.1 381.5L493.8 380.7L494.5 379.7L495 378.5L495.4 377.2L495.7 375.8L495.8 374.2L495.9 372.6L495.8 370.8L495.7 369L495.4 367.1L495 365.1L494.5 363.1L493.8 361.1L493.1 359.1L492.3 357.1L491.4 355.1L490.4 353.2L489.4 351.3L488.2 349.5L487 347.7L485.8 346.1L484.5 344.5L483.2 343.1L481.9 341.8L480.5 340.7M493.3 381.8L494.2 381L494.9 380.2L495.6 379.1L496.2 377.9L496.6 376.6L496.9 375.2L497.1 373.6L497.2 372L497.1 370.2L496.9 368.4L496.6 366.5L496.2 364.6L495.6 362.6L494.9 360.6L494.2 358.6L493.3 356.6L492.3 354.7L491.2 352.8L490.1 350.9L488.8 349.2L487.6 347.5L486.2 345.9L484.8 344.4L483.4 343L482 341.8L480.5 340.7M494.2 381.3L495.1 380.5L496 379.6L496.7 378.5L497.3 377.3L497.7 376L498.1 374.5L498.3 373L498.3 371.3L498.3 369.6L498.1 367.7L497.7 365.9L497.3 364L496.7 362L496 360L495.1 358.1L494.2 356.1L493.1 354.2L492 352.4L490.7 350.6L489.4 348.8L488.1 347.2L486.6 345.6L485.1 344.2L483.6 342.9L482.1 341.7L480.5 340.7M495 380.7L496 379.9L496.9 379L497.7 377.9L498.3 376.7L498.8 375.3L499.2 373.8L499.4 372.3L499.4 370.6L499.4 368.9L499.2 367.1L498.8 365.2L498.3 363.3L497.7 361.4L496.9 359.4L496 357.5L495 355.6L493.9 353.7L492.7 351.9L491.4 350.2L490 348.5L488.5 346.9L487 345.4L485.4 344L483.8 342.8L482.2 341.6L480.5 340.7M496.9 379.3L497.8 378.3L498.6 377.2L499.3 376L499.8 374.6L500.2 373.1L500.4 371.5L500.5 369.9L500.4 368.1L500.2 366.3L499.8 364.5L499.3 362.6L498.6 360.7L497.8 358.8L496.9 356.9L495.8 355L494.6 353.2L493.4 351.4L492 349.7L490.5 348.1L489 346.6L487.4 345.1L485.7 343.8L484 342.6L482.3 341.6L480.5 340.7M497.7 378.7L498.6 377.7L499.5 376.5L500.2 375.2L500.7 373.9L501.1 372.4L501.4 370.8L501.4 369.1L501.4 367.4L501.1 365.6L500.7 363.7L500.2 361.9L499.5 360L498.6 358.1L497.7 356.3L496.6 354.5L495.3 352.7L494 351L492.5 349.3L491 347.7L489.4 346.3L487.7 344.9L486 343.6L484.2 342.5L482.4 341.5L480.5 340.7M499.4 377L500.3 375.8L501 374.5L501.6 373.1L502 371.6L502.2 370L502.3 368.3L502.2 366.6L502 364.8L501.6 363L501 361.1L500.3 359.3L499.4 357.4L498.4 355.6L497.2 353.8L495.9 352.1L494.5 350.4L493 348.8L491.4 347.3L489.7 345.9L488 344.6L486.2 343.4L484.3 342.4L482.4 341.4L480.5 340.7M500.1 376.2L501 375L501.7 373.7L502.3 372.3L502.8 370.7L503 369.1L503.1 367.4L503 365.7L502.8 363.9L502.3 362.1L501.7 360.3L501 358.5L500.1 356.7L499 354.9L497.8 353.2L496.5 351.5L495 349.9L493.5 348.4L491.8 346.9L490.1 345.6L488.3 344.3L486.4 343.2L484.5 342.2L482.5 341.4L480.5 340.7M501.6 374.2L502.4 372.9L503 371.4L503.5 369.9L503.7 368.3L503.8 366.6L503.7 364.9L503.5 363.1L503 361.3L502.4 359.5L501.6 357.7L500.7 356L499.6 354.2L498.4 352.5L497 350.9L495.5 349.3L493.9 347.9L492.2 346.5L490.4 345.2L488.5 344L486.6 343L484.6 342.1L482.6 341.3L480.5 340.7M503 372L503.6 370.6L504.1 369L504.3 367.4L504.4 365.7L504.3 364L504.1 362.2L503.6 360.4L503 358.7L502.2 356.9L501.2 355.2L500.1 353.5L498.8 351.8L497.4 350.3L495.9 348.8L494.2 347.3L492.5 346L490.6 344.8L488.7 343.7L486.7 342.7L484.7 341.9L482.6 341.2L480.5 340.7M503.5 371.2L504.1 369.7L504.6 368.1L504.8 366.5L504.9 364.8L504.8 363L504.6 361.3L504.1 359.6L503.5 357.8L502.6 356.1L501.7 354.4L500.5 352.7L499.2 351.1L497.8 349.6L496.2 348.2L494.5 346.8L492.7 345.6L490.8 344.4L488.9 343.4L486.9 342.5L484.8 341.7L482.7 341.1L480.5 340.7M504.5 368.8L505 367.2L505.3 365.5L505.4 363.8L505.3 362.1L505 360.4L504.5 358.7L503.9 356.9L503 355.2L502 353.6L500.9 352L499.5 350.4L498.1 349L496.5 347.6L494.8 346.3L492.9 345.1L491 344L489 343.1L487 342.3L484.8 341.6L482.7 341L480.5 340.7M505.3 366.2L505.6 364.6L505.7 362.9L505.6 361.2L505.3 359.4L504.8 357.7L504.2 356L503.3 354.4L502.3 352.8L501.1 351.2L499.8 349.7L498.3 348.3L496.7 347L495 345.7L493.1 344.6L491.2 343.6L489.1 342.8L487 342L484.9 341.4L482.7 341L480.5 340.7M505.8 363.6L505.9 361.9L505.8 360.2L505.5 358.5L505 356.8L504.4 355.1L503.5 353.5L502.5 351.9L501.3 350.4L500 349L498.5 347.6L496.8 346.3L495.1 345.2L493.2 344.1L491.3 343.2L489.2 342.4L487.1 341.8L484.9 341.3L482.7 340.9L480.5 340.7M506 361L505.9 359.3L505.6 357.6L505.1 355.9L504.5 354.2L503.6 352.6L502.6 351.1L501.4 349.6L500.1 348.2L498.6 346.9L496.9 345.7L495.2 344.6L493.3 343.7L491.3 342.8L489.3 342.1L487.1 341.5L485 341.1L482.8 340.8L480.5 340.7M505.9 358.3L505.6 356.6L505.2 354.9L504.5 353.3L503.6 351.7L502.6 350.2L501.4 348.8L500.1 347.5L498.6 346.2L496.9 345.1L495.2 344.1L493.3 343.2L491.3 342.4L489.3 341.8L487.1 341.3L485 340.9L482.8 340.7L480.5 340.7M505.6 355.6L505.1 354L504.4 352.4L503.6 350.9L502.6 349.4L501.4 348L500 346.7L498.5 345.5L496.9 344.5L495.1 343.5L493.2 342.7L491.3 342L489.2 341.4L487.1 341L485 340.8L482.8 340.6L480.5 340.7M504.9 353.1L504.3 351.5L503.4 350L502.4 348.6L501.2 347.2L499.9 346L498.4 344.9L496.8 343.9L495 343L493.2 342.2L491.2 341.6L489.2 341.1L487.1 340.8L484.9 340.6L482.7 340.5L480.5 340.7M504.6 352.1L504 350.6L503.2 349.1L502.2 347.7L501 346.5L499.7 345.3L498.2 344.2L496.6 343.2L494.9 342.4L493 341.7L491.1 341.2L489.1 340.8L487 340.5L484.9 340.4L482.7 340.5L480.5 340.7M503.6 349.7L502.8 348.3L501.8 346.9L500.7 345.7L499.4 344.5L497.9 343.5L496.3 342.6L494.6 341.9L492.8 341.3L490.9 340.8L488.9 340.5L486.9 340.3L484.8 340.3L482.7 340.4L480.5 340.7M502.4 347.4L501.4 346.1L500.3 344.9L499 343.8L497.6 342.9L496 342L494.4 341.3L492.6 340.8L490.7 340.4L488.8 340.1L486.8 340L484.7 340.1L482.6 340.3L480.5 340.7M500.9 345.3L499.8 344.2L498.6 343.1L497.2 342.2L495.7 341.5L494 340.8L492.3 340.3L490.5 340L488.6 339.8L486.6 339.8L484.6 339.9L482.6 340.2L480.5 340.7M500.3 344.6L499.3 343.5L498.1 342.5L496.7 341.6L495.2 340.9L493.7 340.3L492 339.9L490.2 339.6L488.4 339.5L486.5 339.6L484.5 339.8L482.5 340.1L480.5 340.7M498.7 342.7L497.5 341.8L496.2 341L494.8 340.3L493.2 339.8L491.6 339.5L489.9 339.3L488.1 339.2L486.3 339.4L484.4 339.6L482.5 340.1L480.5 340.7M498 342.1L496.8 341.2L495.6 340.4L494.2 339.8L492.7 339.3L491.2 339.1L489.5 338.9L487.8 338.9L486 339.1L484.2 339.5L482.4 340L480.5 340.7M496.1 340.6L494.9 339.8L493.6 339.3L492.2 338.9L490.7 338.7L489.1 338.6L487.5 338.7L485.8 338.9L484.1 339.4L482.3 339.9L480.5 340.7M495.4 340L494.2 339.3L493 338.8L491.6 338.5L490.2 338.3L488.7 338.3L487.2 338.4L485.5 338.7L483.9 339.2L482.2 339.9L480.5 340.7M493.5 338.8L492.3 338.3L491 338L489.7 337.9L488.3 338L486.8 338.2L485.3 338.6L483.7 339.1L482.1 339.8L480.5 340.7M492.6 338.3L491.5 337.9L490.4 337.7L489.1 337.6L487.8 337.7L486.4 337.9L485 338.4L483.5 339L482 339.7L480.5 340.7M491.8 337.9L490.8 337.5L489.7 337.3L488.5 337.3L487.3 337.4L486 337.7L484.7 338.2L483.3 338.9L481.9 339.7L480.5 340.7M489.9 337.1L488.9 337L487.8 337L486.7 337.2L485.5 337.5L484.3 338.1L483.1 338.8L481.8 339.6L480.5 340.7M489.1 336.8L488.1 336.7L487.2 336.7L486.1 336.9L485.1 337.3L484 337.9L482.8 338.7L481.7 339.6L480.5 340.7M488.2 336.5L487.3 336.4L486.5 336.5L485.6 336.7L484.6 337.2L483.6 337.8L482.6 338.6L481.6 339.5L480.5 340.7M487.2 336.2L486.5 336.1L485.8 336.3L484.9 336.6L484.1 337L483.2 337.7L482.4 338.5L481.4 339.5L480.5 340.7M486.3 336L485.7 335.9L485 336.1L484.3 336.4L483.6 336.9L482.9 337.6L482.1 338.5L481.3 339.5L480.5 340.7M484.8 335.7L484.3 335.9L483.7 336.3L483.1 336.8L482.5 337.5L481.8 338.4L481.2 339.4L480.5 340.7M483.9 335.6L483.5 335.8L483 336.2L482.6 336.7L482.1 337.4L481.6 338.4L481.1 339.4L480.5 340.7M483 335.5L482.7 335.7L482.4 336.1L482 336.6L481.7 337.4L481.3 338.3L480.9 339.4L480.5 340.7M482.1 335.4L481.9 335.6L481.7 336L481.5 336.6L481.2 337.4L481 338.3L480.8 339.4L480.5 340.7M481.2 335.4L481.1 335.6L481 336L480.9 336.6L480.8 337.3L480.7 338.3L480.6 339.4L480.5 340.7M480.3 335.3L480.3 335.6L480.3 336L480.4 336.6L480.4 337.3L480.5 338.3L480.5 339.4L480.5 340.7M479.4 335.4L479.5 335.6L479.7 336L479.8 336.6L480 337.3L480.2 338.3L480.4 339.4L480.5 340.7M478.4 335.4L478.7 335.6L479 336L479.3 336.6L479.6 337.4L479.9 338.3L480.2 339.4L480.5 340.7M477.5 335.5L477.9 335.7L478.3 336.1L478.7 336.7L479.2 337.4L479.6 338.3L480.1 339.4L480.5 340.7M476.6 335.7L477.1 335.8L477.7 336.2L478.2 336.7L478.8 337.5L479.4 338.4L479.9 339.4L480.5 340.7M475.8 335.8L476.4 336L477 336.3L477.7 336.8L478.4 337.5L479.1 338.4L479.8 339.5L480.5 340.7M474.2 336.1L474.9 336L475.6 336.1L476.4 336.5L477.2 337L478 337.6L478.8 338.5L479.7 339.5L480.5 340.7M473.3 336.3L474.1 336.2L474.9 336.3L475.8 336.6L476.7 337.1L477.6 337.7L478.6 338.5L479.6 339.5L480.5 340.7M472.4 336.6L473.3 336.5L474.2 336.6L475.2 336.8L476.2 337.2L477.3 337.9L478.3 338.6L479.4 339.6L480.5 340.7M471.5 336.9L472.5 336.8L473.5 336.8L474.6 337L475.7 337.4L476.9 338L478.1 338.7L479.3 339.6L480.5 340.7M470.7 337.3L471.7 337.1L472.9 337.1L474 337.3L475.3 337.6L476.6 338.1L477.9 338.8L479.2 339.7L480.5 340.7M468.8 338.1L469.9 337.7L471 337.5L472.2 337.4L473.5 337.5L474.9 337.8L476.2 338.3L477.7 338.9L479.1 339.7L480.5 340.7M468 338.5L469.1 338.1L470.3 337.8L471.6 337.7L473 337.8L474.5 338L475.9 338.5L477.4 339L479 339.8L480.5 340.7M467.2 339L468.4 338.5L469.7 338.2L471.1 338.1L472.5 338.1L474.1 338.3L475.6 338.6L477.3 339.1L478.9 339.8L480.5 340.7M465.3 340.2L466.4 339.5L467.7 339L469.1 338.6L470.6 338.4L472.1 338.4L473.7 338.5L475.4 338.8L477.1 339.3L478.8 339.9L480.5 340.7M464.5 340.8L465.8 340.1L467.1 339.5L468.6 339.1L470.1 338.8L471.7 338.7L473.4 338.8L475.1 339L476.9 339.4L478.7 340L480.5 340.7M462.7 342.4L463.9 341.4L465.1 340.7L466.5 340L468 339.6L469.7 339.2L471.3 339.1L473.1 339.1L474.9 339.2L476.8 339.6L478.6 340L480.5 340.7M462.1 343.1L463.3 342.1L464.6 341.3L466 340.6L467.6 340L469.3 339.7L471 339.4L472.8 339.4L474.7 339.4L476.6 339.7L478.6 340.1L480.5 340.7M460.4 344.9L461.5 343.8L462.7 342.8L464.1 341.9L465.6 341.1L467.2 340.5L468.9 340.1L470.7 339.8L472.6 339.7L474.5 339.7L476.5 339.8L478.5 340.2L480.5 340.7M458.9 347L459.9 345.7L461 344.5L462.2 343.4L463.7 342.5L465.2 341.7L466.8 341L468.6 340.5L470.4 340.2L472.4 340L474.4 339.9L476.4 340L478.5 340.3L480.5 340.7M458.4 347.8L459.4 346.5L460.6 345.3L461.9 344.1L463.3 343.2L464.9 342.3L466.5 341.6L468.3 341L470.2 340.6L472.2 340.3L474.2 340.1L476.3 340.2L478.4 340.3L480.5 340.7M457.2 350.1L458.1 348.7L459.1 347.3L460.2 346L461.5 344.9L463 343.8L464.6 342.9L466.3 342.1L468.1 341.5L470.1 341L472.1 340.6L474.1 340.4L476.2 340.3L478.4 340.4L480.5 340.7M456.3 352.6L456.9 351L457.8 349.5L458.8 348.1L460 346.8L461.3 345.6L462.8 344.5L464.4 343.5L466.1 342.7L468 341.9L469.9 341.4L471.9 340.9L474 340.6L476.2 340.5L478.3 340.5L480.5 340.7M455.6 355.1L456.1 353.5L456.7 351.9L457.6 350.4L458.6 348.9L459.8 347.6L461.1 346.3L462.6 345.2L464.2 344.1L466 343.2L467.9 342.4L469.8 341.8L471.9 341.2L474 340.9L476.1 340.7L478.3 340.6L480.5 340.7M455.2 357.7L455.5 356.1L455.9 354.4L456.6 352.8L457.5 351.3L458.5 349.8L459.7 348.4L461 347.1L462.5 345.8L464.2 344.7L465.9 343.8L467.8 342.9L469.8 342.2L471.8 341.6L473.9 341.1L476.1 340.8L478.3 340.7L480.5 340.7M455 360.4L455.1 358.7L455.4 357L455.9 355.3L456.6 353.7L457.4 352.1L458.5 350.6L459.7 349.2L461 347.8L462.5 346.5L464.2 345.4L465.9 344.3L467.8 343.4L469.8 342.6L471.8 341.9L473.9 341.4L476.1 341L478.3 340.8L480.5 340.7M455.2 363.1L455.1 361.4L455.2 359.7L455.5 358L456 356.3L456.7 354.6L457.5 353L458.5 351.5L459.7 350L461.1 348.5L462.6 347.2L464.2 346L466 344.9L467.8 343.9L469.8 343L471.8 342.2L474 341.6L476.1 341.2L478.3 340.8L480.5 340.7M455.7 365.7L455.4 364L455.3 362.3L455.4 360.6L455.7 358.9L456.2 357.2L456.8 355.5L457.7 353.9L458.7 352.3L459.9 350.7L461.2 349.3L462.7 347.9L464.3 346.6L466.1 345.4L467.9 344.3L469.9 343.4L471.9 342.6L474 341.9L476.2 341.3L478.3 340.9L480.5 340.7M456 366.6L455.7 365L455.6 363.3L455.7 361.6L456 359.9L456.4 358.1L457.1 356.4L457.9 354.8L458.9 353.1L460.1 351.5L461.4 350L462.9 348.6L464.5 347.2L466.2 346L468.1 344.8L470 343.8L472 342.9L474.1 342.1L476.2 341.5L478.4 341L480.5 340.7M456.8 369.2L456.3 367.6L456.1 365.9L456 364.2L456.1 362.5L456.3 360.8L456.8 359L457.4 357.3L458.3 355.6L459.3 353.9L460.4 352.3L461.7 350.7L463.2 349.2L464.7 347.8L466.4 346.5L468.3 345.3L470.2 344.2L472.1 343.2L474.2 342.4L476.3 341.7L478.4 341.1L480.5 340.7M457.9 371.6L457.3 370.1L456.8 368.5L456.5 366.9L456.4 365.2L456.5 363.4L456.8 361.7L457.3 359.9L457.9 358.2L458.7 356.4L459.7 354.7L460.8 353.1L462.1 351.4L463.5 349.9L465 348.4L466.7 347L468.5 345.8L470.4 344.6L472.3 343.5L474.3 342.6L476.4 341.8L478.4 341.2L480.5 340.7M459.2 373.8L458.4 372.4L457.8 370.9L457.4 369.4L457.1 367.8L457 366.1L457.1 364.4L457.4 362.6L457.8 360.8L458.4 359L459.2 357.3L460.2 355.5L461.3 353.8L462.5 352.1L463.9 350.5L465.4 349L467 347.6L468.8 346.2L470.6 345L472.5 343.8L474.4 342.8L476.5 342L478.5 341.2L480.5 340.7M459.8 374.6L459.1 373.2L458.5 371.8L458 370.3L457.8 368.6L457.7 367L457.8 365.2L458 363.5L458.5 361.7L459.1 359.9L459.8 358.1L460.7 356.3L461.8 354.5L463 352.8L464.4 351.2L465.8 349.6L467.4 348.1L469.1 346.7L470.9 345.3L472.7 344.2L474.6 343.1L476.6 342.1L478.5 341.3L480.5 340.7M461.4 376.6L460.5 375.4L459.8 374L459.2 372.6L458.8 371.1L458.5 369.5L458.4 367.8L458.5 366.1L458.8 364.3L459.2 362.5L459.8 360.7L460.5 358.8L461.4 357L462.4 355.2L463.6 353.5L464.9 351.8L466.3 350.1L467.9 348.6L469.5 347.1L471.2 345.7L473 344.4L474.8 343.3L476.7 342.3L478.6 341.4L480.5 340.7M462.1 377.3L461.3 376.1L460.5 374.8L460 373.4L459.6 371.9L459.3 370.3L459.3 368.6L459.3 366.9L459.6 365.1L460 363.3L460.5 361.5L461.3 359.6L462.1 357.7L463.1 355.9L464.2 354.1L465.5 352.4L466.9 350.7L468.3 349L469.9 347.5L471.5 346.1L473.3 344.7L475 343.5L476.8 342.4L478.7 341.5L480.5 340.7M463.9 379L462.9 378L462.1 376.8L461.4 375.6L460.9 374.2L460.5 372.7L460.3 371.1L460.2 369.4L460.3 367.7L460.5 365.9L460.9 364.1L461.4 362.2L462.1 360.3L462.9 358.4L463.9 356.6L465 354.7L466.2 352.9L467.5 351.2L468.9 349.5L470.4 347.9L471.9 346.4L473.6 345L475.3 343.7L477 342.6L478.8 341.5L480.5 340.7M464.7 379.6L463.8 378.6L463 377.5L462.4 376.3L461.9 374.9L461.5 373.4L461.3 371.9L461.2 370.2L461.3 368.5L461.5 366.7L461.9 364.8L462.4 362.9L463 361L463.8 359.1L464.7 357.2L465.7 355.3L466.9 353.5L468.1 351.7L469.4 349.9L470.9 348.3L472.4 346.7L473.9 345.3L475.5 343.9L477.2 342.7L478.9 341.6L480.5 340.7M466.6 381L465.6 380.2L464.7 379.3L464 378.2L463.4 377L462.9 375.6L462.6 374.1L462.3 372.6L462.3 370.9L462.3 369.2L462.6 367.4L462.9 365.5L463.4 363.6L464 361.7L464.7 359.7L465.6 357.8L466.6 355.8L467.6 354L468.8 352.1L470.1 350.3L471.4 348.6L472.8 347L474.3 345.5L475.8 344.1L477.4 342.8L478.9 341.7L480.5 340.7M467.4 381.5L466.5 380.7L465.7 379.8L465 378.8L464.5 377.6L464 376.3L463.7 374.8L463.5 373.3L463.4 371.6L463.5 369.8L463.7 368L464 366.1L464.5 364.2L465 362.3L465.7 360.3L466.5 358.3L467.4 356.4L468.4 354.4L469.5 352.6L470.7 350.7L472 349L473.3 347.3L474.7 345.7L476.1 344.3L477.6 342.9L479 341.7L480.5 340.7M468.4 382L467.5 381.3L466.8 380.4L466.1 379.4L465.6 378.2L465.2 376.9L464.9 375.4L464.7 373.9L464.7 372.2L464.7 370.5L464.9 368.6L465.2 366.8L465.6 364.8L466.1 362.8L466.8 360.8L467.5 358.8L468.4 356.9L469.3 354.9L470.3 353L471.4 351.1L472.6 349.3L473.8 347.6L475.1 346L476.4 344.4L477.8 343L479.2 341.8L480.5 340.7M470.2 382.9L469.4 382.4L468.6 381.7L467.9 380.9L467.3 379.9L466.8 378.7L466.4 377.4L466.2 376L466 374.5L465.9 372.8L466 371.1L466.2 369.2L466.4 367.3L466.8 365.4L467.3 363.4L467.9 361.3L468.6 359.3L469.4 357.3L470.2 355.3L471.2 353.3L472.2 351.4L473.2 349.6L474.4 347.8L475.5 346.1L476.8 344.6L478 343.1L479.3 341.8L480.5 340.7M471.2 383.3L470.4 382.8L469.7 382.2L469.1 381.4L468.5 380.4L468.1 379.2L467.7 378L467.5 376.5L467.3 375L467.3 373.3L467.3 371.6L467.5 369.7L467.7 367.8L468.1 365.9L468.5 363.9L469.1 361.8L469.7 359.8L470.4 357.7L471.2 355.7L472 353.7L472.9 351.7L473.9 349.8L474.9 348L476 346.3L477.1 344.7L478.2 343.2L479.4 341.9L480.5 340.7M472.1 383.7L471.4 383.2L470.8 382.6L470.3 381.8L469.8 380.8L469.4 379.7L469.1 378.4L468.9 377L468.7 375.5L468.7 373.8L468.7 372.1L468.9 370.2L469.1 368.3L469.4 366.3L469.8 364.3L470.3 362.2L470.8 360.2L471.4 358.1L472.1 356L472.9 354L473.7 352L474.6 350.1L475.5 348.2L476.5 346.5L477.5 344.9L478.5 343.3L479.5 341.9L480.5 340.7M473.2 384L472.6 383.5L472 382.9L471.5 382.1L471.1 381.2L470.7 380.1L470.5 378.8L470.3 377.4L470.2 375.9L470.1 374.3L470.2 372.5L470.3 370.6L470.5 368.7L470.7 366.7L471.1 364.7L471.5 362.6L472 360.5L472.6 358.4L473.2 356.3L473.8 354.3L474.6 352.3L475.3 350.3L476.1 348.4L477 346.6L477.8 345L478.7 343.4L479.6 342L480.5 340.7M474.2 384.2L473.7 383.8L473.2 383.2L472.8 382.5L472.4 381.5L472.1 380.4L471.9 379.2L471.7 377.8L471.6 376.3L471.6 374.6L471.6 372.9L471.7 371L471.9 369.1L472.1 367.1L472.4 365L472.8 362.9L473.2 360.8L473.7 358.7L474.2 356.6L474.8 354.5L475.4 352.5L476.1 350.5L476.8 348.6L477.5 346.8L478.2 345.1L479 343.5L479.8 342L480.5 340.7M475.8 384.6L475.3 384.4L474.8 384.1L474.5 383.5L474.1 382.7L473.8 381.8L473.6 380.7L473.4 379.5L473.2 378.1L473.1 376.6L473.1 374.9L473.1 373.2L473.2 371.3L473.4 369.4L473.6 367.4L473.8 365.3L474.1 363.2L474.5 361.1L474.8 358.9L475.3 356.8L475.8 354.7L476.3 352.6L476.8 350.6L477.4 348.7L478 346.9L478.6 345.1L479.2 343.5L479.9 342L480.5 340.7M476.8 384.8L476.4 384.6L476 384.3L475.7 383.7L475.4 383L475.2 382.1L475 381L474.9 379.7L474.7 378.4L474.7 376.8L474.7 375.2L474.7 373.4L474.7 371.6L474.9 369.6L475 367.6L475.2 365.5L475.4 363.4L475.7 361.3L476 359.1L476.4 357L476.8 354.9L477.2 352.8L477.6 350.8L478.1 348.8L478.5 347L479 345.2L479.5 343.6L480 342L480.5 340.7M477.8 384.9L477.5 384.8L477.2 384.4L477 383.9L476.8 383.1L476.6 382.2L476.5 381.2L476.4 379.9L476.3 378.6L476.2 377L476.2 375.4L476.2 373.6L476.3 371.8L476.4 369.8L476.5 367.8L476.6 365.7L476.8 363.6L477 361.4L477.2 359.3L477.5 357.1L477.8 355L478.1 352.9L478.4 350.9L478.7 348.9L479.1 347L479.4 345.3L479.8 343.6L480.2 342.1L480.5 340.7M478.8 385L478.6 384.9L478.5 384.5L478.3 384L478.2 383.3L478.1 382.4L478 381.3L477.9 380.1L477.9 378.7L477.8 377.2L477.8 375.5L477.8 373.8L477.9 371.9L477.9 370L478 367.9L478.1 365.8L478.2 363.7L478.3 361.6L478.5 359.4L478.6 357.2L478.8 355.1L479 353L479.2 350.9L479.4 349L479.6 347.1L479.8 345.3L480.1 343.6L480.3 342.1L480.5 340.7M479.8 385.1L479.7 384.9L479.7 384.6L479.6 384L479.6 383.3L479.5 382.4L479.5 381.4L479.4 380.1L479.4 378.8L479.4 377.3L479.4 375.6L479.4 373.9L479.4 372L479.4 370L479.5 368L479.5 365.9L479.6 363.8L479.6 361.6L479.7 359.4L479.7 357.3L479.8 355.1L479.9 353L480 351L480.1 349L480.2 347.1L480.2 345.3L480.3 343.6L480.4 342.1L480.5 340.7M480.8 385.1L480.9 384.9L480.9 384.6L480.9 384L480.9 383.3L481 382.4L481 381.4L481 380.2L481 378.8L481 377.3L481 375.6L481 373.9L481 372L481 370L481 368L481 365.9L480.9 363.8L480.9 361.6L480.9 359.5L480.9 357.3L480.8 355.1L480.8 353L480.8 351L480.7 349L480.7 347.1L480.7 345.3L480.6 343.6L480.6 342.1L480.5 340.7M481.9 385.1L482 384.9L482.1 384.5L482.2 384L482.3 383.3L482.4 382.4L482.5 381.3L482.5 380.1L482.6 378.7L482.6 377.2L482.6 375.6L482.6 373.8L482.6 372L482.5 370L482.5 368L482.4 365.9L482.3 363.8L482.2 361.6L482.1 359.4L482 357.3L481.9 355.1L481.7 353L481.6 351L481.4 349L481.2 347.1L481.1 345.3L480.9 343.6L480.7 342.1L480.5 340.7M482.9 385L483.1 384.8L483.3 384.5L483.5 383.9L483.7 383.2L483.9 382.3L484 381.2L484.1 380L484.1 378.6L484.2 377.1L484.2 375.5L484.2 373.7L484.1 371.9L484.1 369.9L484 367.9L483.9 365.8L483.7 363.7L483.5 361.5L483.3 359.3L483.1 357.2L482.9 355.1L482.6 353L482.4 350.9L482.1 348.9L481.8 347.1L481.5 345.3L481.2 343.6L480.9 342.1L480.5 340.7M483.9 384.9L484.2 384.7L484.6 384.3L484.8 383.8L485.1 383.1L485.3 382.2L485.5 381.1L485.6 379.9L485.7 378.5L485.8 377L485.8 375.3L485.8 373.6L485.7 371.7L485.6 369.7L485.5 367.7L485.3 365.6L485.1 363.5L484.8 361.4L484.6 359.2L484.2 357.1L483.9 354.9L483.5 352.9L483.2 350.8L482.8 348.9L482.3 347L481.9 345.2L481.5 343.6L481 342.1L480.5 340.7M484.9 384.7L485.3 384.5L485.7 384.2L486.1 383.6L486.4 382.9L486.7 382L486.9 380.9L487.1 379.6L487.2 378.3L487.3 376.7L487.3 375.1L487.3 373.3L487.2 371.5L487.1 369.5L486.9 367.5L486.7 365.4L486.4 363.3L486.1 361.2L485.7 359L485.3 356.9L484.9 354.8L484.4 352.7L483.9 350.7L483.4 348.8L482.9 346.9L482.3 345.2L481.7 343.5L481.1 342L480.5 340.7M485.9 384.6L486.4 384.3L486.9 384L487.4 383.4L487.8 382.6L488.1 381.7L488.4 380.6L488.6 379.4L488.7 378L488.8 376.5L488.9 374.8L488.8 373.1L488.7 371.2L488.6 369.3L488.4 367.2L488.1 365.2L487.8 363.1L487.4 361L486.9 358.8L486.4 356.7L485.9 354.6L485.3 352.6L484.7 350.6L484.1 348.7L483.4 346.8L482.7 345.1L482 343.5L481.3 342L480.5 340.7M487.5 384.1L488.1 383.7L488.6 383.1L489 382.3L489.4 381.4L489.8 380.3L490 379L490.2 377.6L490.3 376.1L490.4 374.5L490.3 372.7L490.2 370.9L490 368.9L489.8 366.9L489.4 364.9L489 362.8L488.6 360.7L488.1 358.6L487.5 356.5L486.9 354.4L486.2 352.4L485.5 350.4L484.7 348.5L483.9 346.7L483.1 345L482.2 343.4L481.4 342L480.5 340.7M488.5 383.8L489.2 383.4L489.8 382.8L490.3 382L490.8 381L491.1 379.9L491.4 378.7L491.7 377.3L491.8 375.7L491.8 374.1L491.8 372.3L491.7 370.5L491.4 368.5L491.1 366.6L490.8 364.5L490.3 362.4L489.8 360.4L489.2 358.3L488.5 356.2L487.8 354.1L487 352.1L486.2 350.2L485.3 348.4L484.4 346.6L483.5 344.9L482.5 343.4L481.5 341.9L480.5 340.7" stroke="#000" stroke-width="0.5" stroke-opacity="0.3" fill="none"/>
<path d="M456.2 353.8L456.2 367.5M457.7 350.8L457.7 370.9M459.1 348.6L459.1 373.3M460.6 347L460.6 375.2M462 345.6L462 376.8M463.5 344.4L463.5 378.2M464.9 343.4L464.9 379.3M466.4 342.5L466.4 380.3M467.8 341.8L467.8 381.1M469.3 341.1L469.3 381.9M470.7 340.6L470.7 382.5M472.2 340.1L472.2 383M473.6 339.7L473.6 383.5M475.1 339.4L475.1 383.8M476.5 339.2L476.5 384.1M478 339.1L478 384.2M479.4 339L479.4 384.3M480.9 338.9L480.9 384.4M482.3 339L482.3 384.3M483.8 339.1L483.8 384.2M485.2 339.3L485.2 383.9M486.7 339.6L486.7 383.6M488.1 339.9L488.1 383.3M489.6 340.3L489.6 382.8M491 340.8L491 382.2M492.5 341.4L492.5 381.5M493.9 342.1L493.9 380.7M495.4 342.9L495.4 379.8M496.8 343.9L496.8 378.8M498.3 344.9L498.3 377.5M499.7 346.2L499.7 376.1M501.2 347.7L501.2 374.4M502.6 349.6L502.6 372.2M504.1 352L504.1 369.5" stroke="#000" stroke-width="0.6" stroke-opacity="0.26" fill="none"/>
<ellipse cx="480.5" cy="340.7" rx="7.6" ry="3.2" fill="url(#sp47)"/>
<path d="M446.9 352.1L423.1 385.3L422.8 385.7L422.6 386.1L422.4 386.5L422.2 386.8L422 387.2L421.8 387.6L421.7 388L421.6 388.4L421.4 388.8L421.3 389.2L421.3 389.6L421.2 390L421.1 390.4L421.1 390.8L421.1 391.2L421.1 391.6L421.1 392L421.2 392.4L421.2 392.8L421.3 393.2L421.4 393.6L421.5 394L421.7 394.4L421.8 394.8L422 395.2L422.2 395.6L422.4 396L422.6 396.4L422.8 396.8L423.1 397.1L423.3 397.5L423.6 397.9L423.9 398.2L424.2 398.6L424.5 398.9L424.9 399.3L425.2 399.6L425.6 400L426 400.3L426.4 400.6L426.8 401L427.3 401.3L427.7 401.6L428.2 401.9L428.6 402.2L429.1 402.4L429.6 402.7L430.1 403L430.6 403.3L431.2 403.5L431.7 403.7L432.3 404L432.8 404.2L433.4 404.4L434 404.6L434.6 404.8L435.2 405L435.8 405.2L436.4 405.4L437 405.5L437.6 405.7L438.3 405.8L438.9 406L439.5 406.1L440.2 406.2L440.8 406.3L441.5 406.4L442.2 406.5L442.8 406.6L443.5 406.6L444.2 406.7L444.9 406.7L445.5 406.7L446.2 406.8L446.9 406.8L447.6 406.8L448.2 406.7L448.9 406.7L449.6 406.7L450.2 406.6L450.9 406.6L451.6 406.5L452.2 406.4L452.9 406.4L453.6 406.3L454.2 406.2L454.9 406L455.5 405.9L456.1 405.8L456.8 405.6L457.4 405.5L458 405.3L458.6 405.1L459.2 404.9L459.8 404.8L460.4 404.5L461 404.3L461.5 404.1L462.1 403.9L462.6 403.6L463.1 403.4L463.7 403.1L464.2 402.9L464.7 402.6L465.2 402.3L465.6 402L466.1 401.7L466.5 401.4L467 401.1L467.4 400.8L467.8 400.5L468.2 400.2L468.6 399.8L468.9 399.5L469.3 399.1L469.6 398.8L469.9 398.4L470.2 398.1L470.5 397.7L470.8 397.3L471 397L471.3 396.6L471.5 396.2L471.7 395.8L471.9 395.4L472 395L472.2 394.6L472.3 394.3L472.4 393.9L472.5 393.5L472.6 393.1L472.7 392.7L472.7 392.2L472.8 391.8L472.8 391.4L472.8 391L472.7 390.6L472.7 390.2L472.6 389.8L472.6 389.4L472.5 389L472.3 388.6L472.2 388.2L472.1 387.8L471.9 387.4L471.7 387.1L471.5 386.7L471.3 386.3L471.1 385.9L470.8 385.5Z" fill="url(#kg48)" stroke="#0a0a30" stroke-width="0.7" stroke-linejoin="round"/>
<path d="M446.9 352.1L459.8 404.8M446.9 352.1L461.7 404M446.9 352.1L463.5 403.2M446.9 352.1L465.2 402.3M446.9 352.1L466.7 401.3M446.9 352.1L468.1 400.3M446.9 352.1L469.3 399.1M446.9 352.1L470.3 398M446.9 352.1L471.2 396.7M446.9 352.1L471.9 395.4M446.9 352.1L472.4 394.1M446.9 352.1L472.7 392.8M446.9 352.1L472.8 391.4M446.9 352.1L472.7 390.1M446.9 352.1L472.4 388.8M446.9 352.1L471.9 387.4M446.9 352.1L471.2 386.2M446.9 352.1L422.7 385.9M446.9 352.1L422 387.2M446.9 352.1L421.5 388.5M446.9 352.1L421.2 389.9M446.9 352.1L421.1 391.2M446.9 352.1L421.2 392.6M446.9 352.1L421.5 393.9M446.9 352.1L422 395.2M446.9 352.1L422.6 396.5M446.9 352.1L423.5 397.8M446.9 352.1L424.5 398.9M446.9 352.1L425.7 400.1M446.9 352.1L427.1 401.2M446.9 352.1L428.6 402.2M446.9 352.1L430.3 403.1M446.9 352.1L432.1 403.9M446.9 352.1L434 404.6M446.9 352.1L436 405.3M446.9 352.1L438 405.8M446.9 352.1L440.2 406.2M446.9 352.1L442.4 406.5M446.9 352.1L444.6 406.7M446.9 352.1L446.9 406.8M446.9 352.1L449.1 406.7M446.9 352.1L451.4 406.5M446.9 352.1L453.6 406.3M446.9 352.1L455.7 405.9M446.9 352.1L457.8 405.4M445.9 353.7L445.8 354.1L446.2 354.5L446.9 354.6L447.7 354.5L448.1 354.1L448 353.7M444.8 355.2L444.7 356.1L445.5 356.8L446.9 357.1L448.4 356.8L449.2 356.1L449.1 355.2M443.7 356.7L443.5 358L444.8 359.1L446.9 359.6L449.1 359.2L450.3 358L450.2 356.7M442.6 358.2L442.3 359.7L443.4 361.1L445.6 362L448.2 362L450.4 361.2L451.6 359.8L451.3 358.2M441.5 359.7L441.1 361.2L441.7 362.6L443.4 363.8L445.7 364.5L448.2 364.5L450.5 363.8L452.1 362.7L452.8 361.2L452.4 359.7M440.4 361.2L439.9 362.8L440.4 364.4L441.9 365.8L444.2 366.7L446.9 367L449.6 366.7L451.9 365.8L453.4 364.5L454 362.9L453.5 361.2M439.4 362.7L438.7 364.3L439 365.8L440.1 367.3L441.9 368.5L444.3 369.2L446.9 369.5L449.6 369.3L451.9 368.5L453.8 367.4L454.9 365.9L455.1 364.3L454.5 362.8M438.3 364.2L437.6 365.7L437.7 367.3L438.5 368.8L439.9 370.1L441.9 371.1L444.3 371.8L446.9 372L449.5 371.8L451.9 371.2L453.9 370.2L455.4 368.9L456.2 367.4L456.3 365.8L455.6 364.3M437.2 365.7L436.5 367.2L436.4 368.7L437 370.3L438.1 371.6L439.8 372.8L441.9 373.7L444.3 374.3L446.9 374.5L449.5 374.3L451.9 373.8L454 372.9L455.7 371.7L456.9 370.3L457.5 368.8L457.4 367.3L456.7 365.8M436.1 367.2L435.4 368.7L435.2 370.2L435.6 371.7L436.5 373.1L437.9 374.4L439.8 375.5L442 376.3L444.4 376.8L446.9 377L449.5 376.8L451.9 376.3L454.1 375.6L455.9 374.5L457.3 373.2L458.3 371.8L458.7 370.3L458.5 368.8L457.8 367.3M435 368.7L434.3 370.2L434 371.7L434.3 373.2L435 374.6L436.2 376L437.8 377.2L439.7 378.1L442 378.8L444.4 379.3L446.9 379.5L449.4 379.3L451.9 378.9L454.1 378.2L456 377.2L457.7 376.1L458.9 374.7L459.6 373.3L459.9 371.8L459.6 370.3L458.9 368.8M433.9 370.2L433.2 371.7L432.9 373.3L433 374.9L433.7 376.4L434.9 377.8L436.4 379.1L438.3 380.2L440.6 381L443 381.6L445.6 381.9L448.2 381.9L450.8 381.6L453.3 381.1L455.5 380.2L457.4 379.2L459 377.9L460.1 376.5L460.8 375L461 373.4L460.7 371.9L460 370.4M432.9 371.7L432.1 373.2L431.7 374.8L431.8 376.3L432.3 377.8L433.3 379.3L434.6 380.6L436.3 381.8L438.3 382.8L440.6 383.6L443 384.1L445.6 384.4L448.2 384.4L450.8 384.1L453.2 383.6L455.5 382.9L457.5 381.9L459.2 380.7L460.6 379.4L461.6 378L462.1 376.5L462.2 374.9L461.8 373.4L461.1 371.9M431.8 373.3L431 374.7L430.6 376.2L430.6 377.8L430.9 379.3L431.7 380.8L432.9 382.2L434.4 383.4L436.2 384.5L438.3 385.4L440.6 386.1L443.1 386.6L445.6 386.9L448.2 386.9L450.7 386.6L453.2 386.2L455.5 385.5L457.6 384.6L459.4 383.5L460.9 382.3L462.1 380.9L462.9 379.4L463.3 377.9L463.3 376.4L462.9 374.9L462.1 373.4M430.7 374.8L429.9 376.2L429.4 377.7L429.3 379.2L429.6 380.8L430.3 382.2L431.3 383.7L432.6 385L434.3 386.1L436.2 387.2L438.3 388L440.6 388.7L443.1 389.1L445.6 389.3L448.2 389.4L450.7 389.2L453.2 388.7L455.5 388.1L457.6 387.3L459.5 386.2L461.2 385.1L462.5 383.8L463.6 382.4L464.2 380.9L464.5 379.4L464.5 377.9L464 376.4L463.2 374.9M429.6 376.3L428.8 377.7L428.3 379.2L428.2 380.7L428.4 382.2L428.9 383.7L429.8 385.1L431 386.5L432.4 387.7L434.2 388.8L436.2 389.8L438.3 390.6L440.7 391.2L443.1 391.6L445.6 391.8L448.2 391.8L450.7 391.7L453.1 391.3L455.5 390.7L457.7 389.9L459.6 388.9L461.4 387.9L462.9 386.6L464.1 385.3L465 383.9L465.5 382.4L465.7 380.9L465.6 379.4L465.1 377.9L464.3 376.4M428.5 377.8L427.7 379.3L427.2 380.8L427 382.3L427.1 383.9L427.6 385.4L428.5 386.9L429.6 388.3L431.1 389.6L432.8 390.8L434.8 391.8L436.9 392.7L439.3 393.4L441.7 393.9L444.3 394.2L446.9 394.3L449.5 394.3L452.1 394L454.5 393.5L456.9 392.8L459.1 391.9L461 390.9L462.7 389.8L464.2 388.5L465.4 387.1L466.2 385.6L466.7 384.1L466.9 382.5L466.7 381L466.2 379.4L465.4 377.9M427.4 379.3L426.6 380.7L426 382.3L425.8 383.8L425.9 385.4L426.3 386.9L427 388.4L428 389.8L429.3 391.1L430.9 392.4L432.7 393.5L434.7 394.5L436.9 395.3L439.3 396L441.8 396.4L444.3 396.7L446.9 396.8L449.5 396.7L452 396.5L454.5 396L456.9 395.4L459.1 394.6L461.1 393.6L462.9 392.5L464.5 391.3L465.8 390L466.8 388.5L467.5 387.1L468 385.5L468.1 384L467.9 382.4L467.3 380.9L466.5 379.5M426.4 380.8L425.5 382.2L424.9 383.7L424.7 385.3L424.7 386.8L425 388.3L425.6 389.8L426.5 391.3L427.7 392.7L429.1 393.9L430.8 395.1L432.6 396.2L434.7 397.1L436.9 397.9L439.3 398.5L441.8 398.9L444.3 399.2L446.9 399.3L449.5 399.2L452 399L454.5 398.6L456.8 398L459.1 397.2L461.1 396.3L463 395.3L464.7 394.1L466.1 392.8L467.3 391.5L468.2 390L468.9 388.5L469.2 387L469.2 385.5L469 383.9L468.4 382.4L467.6 381M425.3 382.3L424.4 383.7L423.8 385.2L423.5 386.7L423.5 388.3L423.7 389.8L424.2 391.3L425 392.8L426.1 394.2L427.4 395.5L428.9 396.7L430.7 397.8L432.6 398.8L434.7 399.7L437 400.4L439.3 401L441.8 401.4L444.3 401.7L446.9 401.8L449.4 401.7L452 401.5L454.4 401.1L456.8 400.5L459.1 399.8L461.2 399L463.1 398L464.9 396.9L466.4 395.6L467.7 394.3L468.8 392.9L469.6 391.5L470.1 390L470.4 388.5L470.4 387L470.1 385.4L469.5 383.9L468.7 382.5M424.2 383.8L423.3 385.2L422.7 386.7L422.4 388.2L422.3 389.7L422.5 391.3L422.9 392.8L423.6 394.2L424.5 395.6L425.7 397L427.1 398.3L428.8 399.4L430.6 400.5L432.6 401.5L434.7 402.3L437 403L439.4 403.5L441.8 403.9L444.3 404.2L446.9 404.3L449.4 404.2L451.9 404L454.4 403.6L456.8 403.1L459.1 402.4L461.2 401.6L463.2 400.7L465 399.6L466.7 398.4L468.1 397.2L469.3 395.8L470.2 394.4L470.9 393L471.4 391.5L471.6 390L471.5 388.4L471.2 386.9L470.6 385.4L469.7 384" stroke="#000" stroke-width="0.55" stroke-opacity="0.5" fill="none"/>
<path d="M349 332.2L349.2 332M349.1 331.1L348.6 332.4M367.8 326.2L366.5 325.9M358.5 344.1L358.3 344.8M358.5 348.1L355.9 348M370.2 342L372.4 342.9M372 331.9L375.5 333.3M378.3 334.8L378.9 332.9M381.1 329.9L380.5 328.8M378.2 329.7L376.7 328.8M398 369.7L398.6 369.4M403.4 382.5L404.8 383.2M404.8 383.2L403.8 385M405.4 386.5L405.7 387.7M409.1 400.5L408.3 402.7M398.7 372.2L400.5 372.4M403.4 378.8L402.6 381M399.2 365.5L402 368.2M402 368.2L404.2 368.8M417.9 386.4L419.8 387.3M414.5 384.7L416.2 383.9M442.6 348.2L440 348.4M432 344.1L434.6 342.7M431.7 340.7L431.3 342.8M460.5 331.5L459.7 330.4M465.3 322L465.8 319.8M461.8 334.6L463.2 335.4M464.4 318L463.7 318.2M461.2 310.1L459.8 309.7M466 323.2L468 322.4M474.7 321.8L477.6 321.9M477.6 321.9L478.5 321.8M482 319.1L483.9 321.3M470.6 322.7L472.1 323.2M460.1 332L459 330.6M459 330.6L459.5 329.3M461.1 325.2L458.7 323.1M507.1 343.4L509.5 344.9M509.6 346.2L511.5 344.1M511.4 348.6L511.9 350.3M509.7 356.6L513.4 357.3M513.4 357.3L513.9 358.6M519.7 356.1L521.7 355.9M508.1 352.8L510.7 352.6M522.3 355.6L519.7 357.7M517.5 357.3L517.1 355.2M517.7 355.6L518.4 352.8M432.1 361.3L431 362.4M431.2 367.6L431.7 369M432.5 370.6L433.1 372M435 377.3L436.7 378.1M437.4 378.5L439.2 381.4M440.3 382.4L442.2 383.5M436.7 378.1L438.2 378.7M451.2 356.2L454 357.7M461.7 367.8L464.3 369.9M464.3 369.9L465.6 371.4M471.7 373.8L472.8 374.7M475.3 373.2L477.7 375.1M372.7 338.5L370.2 338.1M370.2 338.1L368.5 339.4M380.2 361.3L379.6 362.5M423.2 361.1L425.8 362.1M429.5 356.3L431.7 356M439.6 359.3L441.9 360.9M454.8 353.4L452.3 352.8M509.4 348.6L509.9 347.2" stroke="#edb120" stroke-width="1.45" fill="none" stroke-linecap="round"/>
<path d="M349.2 332L349.1 331.1M364.9 331L364.6 330.6M369.8 324.2L368.9 324.5M364.5 337.8L363.8 339.8M361 341.9L359.2 342.2M359.2 342.2L361.5 343.2M378.9 332.9L381.7 333.6M380.5 328.8L380 326.9M380.7 326.3L380.2 325.9M378.3 334.8L377.4 335.1M378.7 330.8L378.4 329.9M381.3 359L383.6 356M402.9 376.7L403 378.9M403.4 378.8L404 381.4M400.5 372.4L403.1 371.7M402.6 381L401.7 378.8M406.4 367.8L405.9 366.7M399.2 365.5L397 363.9M407 373.7L409.5 372.8M402 383.9L398.9 383.3M405.2 380.6L407.3 381.1M419.8 387.3L421.5 388.5M425.2 388.6L428.4 389.1M423.4 388.3L423.8 387M423.8 387L422.9 384.3M442.6 348.2L440 348.3M463 339.4L462.9 337M461.6 326L461.7 325M465.7 323.8L467.1 323.5M461.2 318.6L458.9 317.4M463 339.4L462 337.1M458.8 313.9L461 314M472.4 321L474.7 321.8M465.9 326.3L469 325.7M457.8 329.1L455.9 327.5M458.1 322.9L460.1 324.1M502.7 342.5L505.8 343.1M503.7 334L506.2 333.6M511.5 344.1L514.3 342.1M510.5 349.7L508.9 351.7M507.3 355.7L509.7 356.6M517.5 357.3L517.7 355.6M517.7 355.6L520.4 354.6M430.8 364.3L431.2 364.9M449 383.7L451.8 382.6M437.6 369.1L439.9 370M450.7 356.3L451.2 356.2M459.5 364.2L458.9 364M457.2 364.8L457.5 366.3M458.2 360.4L457.3 362.1M477.7 375.1L479.2 376.1M467.9 368.6L467.2 369.9M355.6 328.6L354.8 327.1M372.6 337.7L375.1 336.5M384 358.8L382.9 359.5M414.5 364.1L416.8 365.9M425.8 362.1L426.9 360.1M507.1 351.3L509 352.6M509.9 347.2L511 345.4" stroke="#d95319" stroke-width="1.45" fill="none" stroke-linecap="round"/>
<path d="M352.4 330.8L353.3 332.1M366.5 329L366.5 330.5M366.4 330.9L368.9 330.8M367.4 322.8L364.8 321.3M363.1 328.9L365.3 328M359.2 342.2L358.5 344.1M358.3 344.8L358.5 348.1M360.6 340.3L358.1 339.6M355.9 339.1L354.9 340M380.1 327.6L378.2 329.7M374.9 352.3L374.5 354.1M374.5 354.1L374.7 353.6M393.5 366.3L394.7 368.7M398.6 369.4L398.7 372.2M403 378.9L402.8 378.2M403.8 385L405.4 386.5M403.8 383.1L406.4 383.9M407.3 381.1L409.5 380.2M412.4 381.9L412.9 383.5M421.5 388.5L422.9 388.2M422.9 388.2L425.2 388.6M416.2 383.9L415.8 383.6M418.6 389.1L418.2 390M405.9 386.8L404.2 386.4M423.8 387L425.3 387.1M446.2 344.1L445.2 347M446.1 338.5L444.4 337M434.6 342.7L436.8 343.7M436.8 343.7L439 344.2M432 344.1L431.8 343.7M431.3 342.8L432 343.8M460.9 327.2L459.9 329.8M457.4 317.2L458.8 313.9M458.8 313.9L461.4 311.4M468.8 322L470.5 321.1M468 322.4L465.5 322.1M459 330.6L457.8 329.1M458.7 323.1L457.4 323.7M462.4 316.8L462.9 317.2M464 338.4L461.6 338.9M461.6 338.9L460.3 338.6M499.8 342.8L500.8 341.1M501.2 334.4L499.9 334.3M480 334L478.7 331.6M508.1 352.8L507.3 355.7M521.7 355.9L522.3 355.6M522.9 354.8L521.6 353.8M430.7 369.5L428.3 369.2M454.4 357.8L456.6 357.8M472.8 374.7L475.3 373.2M467.9 368.6L466.3 366.2M411.4 359L411.6 357.5M370 337.4L372.6 337.7M414.3 365.3L415.8 363.4M452.3 352.8L451.5 352.3M508.9 351.2L509.4 348.6M521.4 357.2L523.7 356.1" stroke="#77ac30" stroke-width="1.45" fill="none" stroke-linecap="round"/>
<path d="M353.3 332.1L354.9 331.2M358.6 332.4L359.6 331.1M362.7 330.6L364.9 331M364.6 330.6L366.5 329M369.8 324.2L367.4 322.8M359.2 342.2L359.2 342.2M367.6 338.7L367 339M367 339L367.2 340.3M375.5 333.3L377.9 335.8M379.2 331.9L378.7 330.8M381.4 357.7L381.3 359M379.3 359.1L376.7 359.1M394.7 368.7L398 369.7M398.7 372.2L400.6 372.6M400.6 372.6L402.6 373.7M406.3 388.7L407.1 389.5M407.1 389.5L406.9 394.1M407.6 395.7L406.1 397.5M406.1 397.5L403.8 399.6M404.2 368.8L406.4 367.8M405 373.6L406 374.3M408.1 373.4L408.8 372.7M405.2 382L403.8 383.1M406.1 380.1L404.4 378.2M405.9 386.8L407.6 386.1M449.3 344.7L446.2 344.1M445.2 347L442.6 348.2M428 341.9L430.6 342.8M464.5 335.4L461.9 333.5M459.7 330.4L460.9 327.2M464.2 324L465.7 323.8M464.4 318L462.4 318.4M465.8 319.8L467.2 317.2M461.2 310.1L463.2 311M480 320.2L482 319.1M483.9 321.3L483.6 317.8M483.6 317.8L482.4 317.5M472.1 323.2L472.5 322.4M469 325.7L468.5 330M468.5 330L470.8 329.7M505.8 343.1L507.1 343.4M509.5 344.9L511.8 347.5M498.6 335.4L500.4 336.1M506.1 347.8L508.2 346.3M508.9 351.7L508.1 352.8M520.4 354.6L522.9 354.8M518.4 352.8L520.7 352.2M433.1 372L433.6 373.5M436.7 378.1L437.4 378.5M446.2 382.3L449 383.7M452.1 384.9L452.8 384.6M443.8 382.2L441.3 383.1M430.7 369.5L432 371.1M458.1 363.9L459.5 364.2M466.6 371.7L468.9 372.9M468.9 368.3L467.9 368.6M421.4 366.2L420.4 366.7M383.3 361L384 358.8M408.8 365.9L408.8 368.6M412.1 363.8L414.3 365.3M427.3 359.7L429.5 356.3M437 357.2L439.6 359.3M455.4 352.4L453.6 353M455.2 347.3L455.9 346.7" stroke="#0072bd" stroke-width="1.45" fill="none" stroke-linecap="round"/>
<path d="M359.6 331.1L361.8 332.3M361.8 332.3L362.7 330.6M366.5 330.5L366.4 330.9M366.5 330.5L367.2 328.1M365.3 328L365.5 328.8M358.5 348.1L359.4 347.4M358.1 339.6L355.9 339.1M355.9 339.1L358.3 338.4M377.9 335.8L378.3 334.8M382.4 357.9L381.4 357.7M381.3 359L379.3 359.1M402.8 378.2L403.4 378.8M405.7 387.7L406.3 388.7M406.2 393L407.6 395.7M407.6 395.7L408.1 397.9M408.1 397.9L407.3 399M407.3 399L409.1 400.5M409.1 400.5L406.5 401.6M401.8 377.1L401 379.2M412.9 383.5L415.4 385.6M415.8 383.6L417 382.8M444.4 337L443.3 338.5M430.6 342.8L432 344.1M462.2 339.3L463 339.4M462.9 337L464.5 335.4M461.9 333.5L462.2 333M462.2 333L460.5 331.5M461.7 325L464.2 324M462.2 333L461.8 334.6M461.4 311.4L460 310.6M461 314L463.6 315.1M468 322.4L468.8 322M472.5 322.4L471.3 318.9M461.3 318.2L462.4 316.8M460.3 338.6L460.2 336.2M500.9 335.3L501.2 334.4M500.4 336.1L501.9 338M521.7 355.9L520.8 357M516.5 357.4L517.5 357.3M514 359.2L514.6 361.8M514.6 361.8L514.2 362M431.2 364.9L431.2 367.6M431.7 369L432.5 370.6M443.8 382.2L446.2 382.3M446.7 375.8L445.8 376.4M445.8 376.4L445.7 377.6M454 357.7L454.4 357.8M458.2 360.4L458.1 363.9M453.5 361L455.2 360.2M455.2 360.2L455.7 361.3M459.7 366L461.7 367.8M468.9 372.9L471.7 373.8M420.4 366.7L421.3 370M367.9 336.4L368.4 339.9M375.1 336.5L377.4 338.6M382.9 359.5L381.4 361.6M416.8 365.9L419.3 367.6M425.5 360.6L427.3 359.7M509 352.6L511.2 352.1M522.2 356.1L524.7 357.6" stroke="#7e2f8e" stroke-width="1.45" fill="none" stroke-linecap="round"/>
<path d="M359.6 331.1L357 331.1M367.8 326.2L369.8 324.2M362 328.8L363.1 328.9M363.8 339.8L362.8 341.3M367.2 340.3L369 341.6M369 341.6L370.2 342M370.4 333.1L372 331.9M380 326.9L380.7 326.3M381.1 329.9L383.6 331.8M374.7 353.6L372.4 353.1M372.4 353.1L371.2 354.7M378.2 357.6L377.8 359.4M379.3 359.1L377.6 359.2M404 381.4L403.4 382.5M394.7 368.7L397.2 368.3M406.9 394.1L406.7 396.5M396.9 365.1L399.2 365.5M402.5 374L405 373.6M408.1 373.4L409.9 374.9M403.9 375L401.8 377.1M403.8 383.1L402 383.9M415.4 385.6L417.9 386.4M407.3 381.1L406.1 380.1M418.8 387.6L418.6 389.1M450.6 344.7L449.3 344.7M440 348.4L438 349.7M460.9 327.2L461.6 326M467.1 323.5L465.3 322M458.9 317.4L457.4 316M457.4 316L455.8 313.6M464.5 335.4L466.3 334.7M460 310.6L461.2 310.1M470.5 321.1L472.4 321M472.4 321L469.8 320M483.4 317L484.5 318.3M484.5 318.3L485.5 318.7M457.4 323.7L458.1 322.9M462.4 316.8L463 316.1M500.8 341.1L502.7 342.5M502.7 342.5L500.2 342.2M501.2 334.4L503.7 334M514.3 342.1L514.6 340.7M511.6 350.2L511.4 348.6M510 348.5L510.5 349.7M513.9 358.6L515.2 356.7M515.2 356.7L516.6 355.3M516.6 355.3L519.7 356.1M508.9 351.7L510.6 348.7M514.6 361.8L517.2 362.9M431 362.4L430.8 364.3M451.8 382.6L452.1 384.9M438.2 378.7L439.4 380.1M433.4 368.9L430.7 369.5M436.1 369L438.1 369.1M443.8 358L442.3 356.6M442.3 356.6L441.8 354M448.4 353.9L450.7 356.3M456.6 357.8L458.2 360.4M458.9 364L457.2 364.8M479.2 376.1L482.3 375.2M350.3 330.6L352.6 330.2M368.4 339.9L370.5 342.3M379.6 362.5L378.3 364.3M407.5 364.3L408.8 365.9M453.6 353L453.8 353.4M519.6 356.2L522.2 356.1M523.7 356.1L524.8 357.8" stroke="#4dbeee" stroke-width="1.45" fill="none" stroke-linecap="round"/>
<path d="M365.9 326.8L367.8 326.2M365.5 328.8L367.7 328.9M365.6 336.3L364.5 337.8M362.8 341.3L361 341.9M381.1 332.1L381.1 329.9M377.8 359.4L376.5 357.9M402.6 373.7L402.9 376.7M406.9 394.1L406.2 393M405.9 366.7L408.1 366.5M406 374.3L408.1 373.4M405 373.6L407 373.7M409.5 380.2L412.4 381.9M406.2 385.3L405.9 386.8M407.6 386.1L408.9 383.7M431.8 343.7L433.3 345.8M465.8 319.8L464.4 318M462.4 318.4L461.2 318.6M478.5 321.8L480 320.2M460.2 336.2L458.1 333.7M507.1 343.4L509.1 343.2M508.2 346.3L509.6 346.2M514.6 340.7L514.2 339.5M433.6 373.5L435 377.3M439.2 381.4L440.3 382.4M442.2 383.5L443.8 382.2M438.1 369.1L437.6 369.1M459.5 364.2L460.6 366.3M465.6 371.4L466.6 371.7M411.6 357.5L412 358.2M347.8 329.7L350.3 330.6M357.4 330.1L355.6 328.6M370.5 342.3L372.2 338.8M453.4 346.5L455.2 347.3" stroke="#a2142f" stroke-width="1.45" fill="none" stroke-linecap="round"/>
<path d="M339 326.6L341.3 326.3L343.5 327.4L345.7 328.1L347.8 329.7L350.3 329.3L352.8 331.5L354.9 331.7L357.4 330.1L359.5 330.8L361.6 333.4L364.2 332.6L365.7 335.1L367.9 336.4L370 337.4L370.7 336L368.9 336.1L372.7 338.5L371.4 339.8L374.2 341.7L373.4 345.2L374.9 343.8" stroke="#f01010" stroke-width="2.2" fill="none" stroke-linejoin="round" stroke-linecap="round"/>
<path d="M375.4 349.2L376 349.8" stroke="#f01010" stroke-width="2.2" fill="none" stroke-linejoin="round" stroke-linecap="round"/>
<path d="M379.9 355.7L379.7 356.5L380.2 361.3L381.9 359.8L383.3 361L385.9 363.5L388.6 363.3L391.3 358.8L393.7 359.5" stroke="#f01010" stroke-width="2.2" fill="none" stroke-linejoin="round" stroke-linecap="round"/>
<path d="M395.8 361.4L398.1 360.3L400.3 363.3L402.7 362L405.2 363.7L407.5 364.3L409.7 363.3L412.1 363.8L414.5 364.1L416.5 362L418.7 360.7L421 359.6L423.2 361.1L425.5 360.6L428 361.5L430.1 359L432.3 359.6L435 359.6L437 357.2L439.3 358.4L441.6 357.1L443.9 358.8" stroke="#f01010" stroke-width="2.2" fill="none" stroke-linejoin="round" stroke-linecap="round"/>
<path d="M450.3 357L451.5 357.1L453.1 355.1L454.8 353.4L456.9 351.6" stroke="#f01010" stroke-width="2.2" fill="none" stroke-linejoin="round" stroke-linecap="round"/>
<path d="M455.4 352.4L455.8 349.4L456.8 348L453.6 347.4L453.4 346.5L452.9 345L453.9 343.5L455.1 341.7L456.6 343L459.1 341.2L460.4 341.3L462 338.4" stroke="#f01010" stroke-width="2.2" fill="none" stroke-linejoin="round" stroke-linecap="round"/>
<path d="M504.7 347L506 348.3L507.1 351.3L508.9 351.2L511.5 350.2L513.1 352.9L515.2 353.2L517.7 355.2L519.6 356.2L521.4 357.2L523.6 356.4L525.4 359.2L527.5 362.4L527.4 362.9" stroke="#f01010" stroke-width="2.2" fill="none" stroke-linejoin="round" stroke-linecap="round"/>
<path d="M339 326.6L340 326.8L342.1 327.4L345.1 328.2L349.1 329.4L353.2 330.5L357.4 331.6L361.6 332.8L365.8 333.9L369 335L371.1 335.9L372.1 336.8L372 337.7L371.9 338.7L371.9 339.8L372 340.9L372.1 342.2L372.4 343.4L372.7 344.7L373.1 346L373.5 347.3L374.1 348.6L374.6 349.9L375.2 351.2L375.9 352.5L376.6 353.7L377.3 354.9L378.1 356.1L379 357.3L379.9 358.3L380.9 359.2L382.1 360L383.3 360.6L384.8 361.2L386.4 361.6L388.3 361.9L390.4 362.2L392.6 362.4L394.9 362.5L397.4 362.6L400 362.7L403 362.7L406.5 362.6L410.4 362.5L414.8 362.3L419.1 362L423.3 361.6L427.5 360.7L431.5 359.8L435.2 359L438.6 358.4L441.7 357.9" stroke="#10f010" stroke-width="1.6" fill="none" stroke-linejoin="round" stroke-linecap="round"/>
<path d="M450.1 356.9L451 356.7L451.8 356.3L452.5 355.8L453.2 355.1L453.7 354.2L454 353.3L454 352.2L453.9 351L453.5 349.7L453.3 348.4L453.2 347.3L453.2 346.3L453.4 345.4L453.7 344.5L454.4 343.8L455.3 343.1L456.4 342.5L457.7 342L459.2 341.6L460.7 341.2L462.5 340.9" stroke="#10f010" stroke-width="1.6" fill="none" stroke-linejoin="round" stroke-linecap="round"/>
<path d="M502.8 346.4L504.8 347.6L506.8 348.7L509 349.8L511.3 350.8L513.6 351.8L515.8 352.7L517.9 353.6L519.8 354.4L521.6 355.2L523.2 355.9L524.5 356.5L525.5 358.3L526.3 360.3L526.8 361.8L527.2 362.8L527.4 363.3" stroke="#10f010" stroke-width="1.6" fill="none" stroke-linejoin="round" stroke-linecap="round"/>
<circle cx="339" cy="326.6" r="2.9" fill="#19e0e6" stroke="#18a0b4" stroke-width="0.8"/>
<circle cx="527.4" cy="363.3" r="2.9" fill="#f018f0" stroke="#9a2ab0" stroke-width="0.8"/>
<text x="343" y="329" font-size="6.7" text-anchor="start" fill="#262626" font-family="'Liberation Sans',Arial,sans-serif" stroke="#262626" stroke-width="0.18">Start</text>
<text x="531.3" y="366" font-size="6.7" text-anchor="start" fill="#262626" font-family="'Liberation Sans',Arial,sans-serif" stroke="#262626" stroke-width="0.18">Target</text>
<rect x="482.4" y="253.4" width="47" height="34.7" fill="#fff" stroke="#7a7a7a" stroke-width="0.6" rx="0.6"/>
<circle cx="494.3" cy="258.7" r="2" fill="#19e0e6" stroke="#18a0b4" stroke-width="0.8"/>
<circle cx="494.3" cy="267" r="2" fill="#f018f0" stroke="#9a2ab0" stroke-width="0.8"/>
<path d="M485.2 275.1L504.1 275.1" stroke="#f01010" stroke-width="2" fill="none"/>
<path d="M485.2 283.4L504.1 283.4" stroke="#10f010" stroke-width="2" fill="none"/>
<text x="506.1" y="260.9" font-size="5.9" text-anchor="start" fill="#2a2a2a" font-family="'Liberation Sans',Arial,sans-serif" stroke="#2a2a2a" stroke-width="0.18">Start</text>
<text x="506.1" y="269" font-size="5.9" text-anchor="start" fill="#2a2a2a" font-family="'Liberation Sans',Arial,sans-serif" stroke="#2a2a2a" stroke-width="0.18">Target</text>
<text x="506.1" y="277.3" font-size="5.9" text-anchor="start" fill="#2a2a2a" font-family="'Liberation Sans',Arial,sans-serif" stroke="#2a2a2a" stroke-width="0.18">RRT</text>
<text x="506.1" y="285.3" font-size="5.9" text-anchor="start" fill="#2a2a2a" font-family="'Liberation Sans',Arial,sans-serif" stroke="#2a2a2a" stroke-width="0.18">MARRT</text>
<text x="59.3" y="228.8" font-size="14" textLength="116.3" lengthAdjust="spacingAndGlyphs" fill="#111" font-family="'Liberation Serif','DejaVu Serif',serif">(<tspan font-weight="bold">a</tspan>) SAPF top view</text>
<text x="351.3" y="228.8" font-size="14" textLength="158.7" lengthAdjust="spacingAndGlyphs" fill="#111" font-family="'Liberation Serif','DejaVu Serif',serif">(<tspan font-weight="bold">b</tspan>) SAPF 3D results map</text>
<text x="64.2" y="469.4" font-size="14" textLength="108.6" lengthAdjust="spacingAndGlyphs" fill="#111" font-family="'Liberation Serif','DejaVu Serif',serif">(<tspan font-weight="bold">c</tspan>) RRT top view</text>
<text x="355" y="469.4" font-size="14" textLength="149" lengthAdjust="spacingAndGlyphs" fill="#111" font-family="'Liberation Serif','DejaVu Serif',serif">(<tspan font-weight="bold">d</tspan>) RRT 3D results map</text>
</svg>
</body></html>
